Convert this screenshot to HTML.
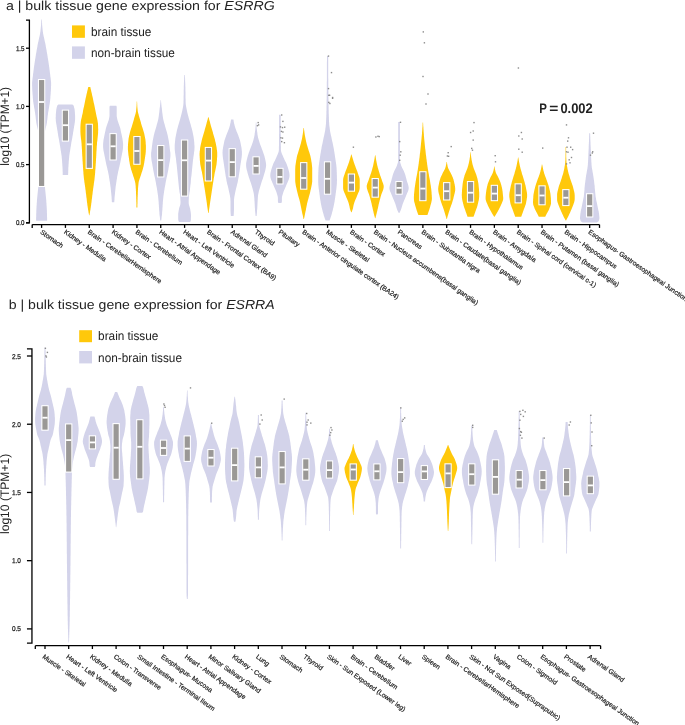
<!DOCTYPE html>
<html><head><meta charset="utf-8"><style>
html,body{margin:0;padding:0;background:#fff;}
svg{display:block;will-change:transform;}
text{font-family:"Liberation Sans", sans-serif;fill:#222;text-rendering:geometricPrecision;}
</style></head><body>
<svg width="685" height="725" viewBox="0 0 685 725">
<text x="5.9" y="10.2" font-size="13" textLength="268.8" lengthAdjust="spacingAndGlyphs">a | bulk tissue gene expression for <tspan font-style="italic">ESRRG</tspan></text><text x="8.8" y="308.7" font-size="13" textLength="265.9" lengthAdjust="spacingAndGlyphs">b | bulk tissue gene expression for <tspan font-style="italic">ESRRA</tspan></text><rect x="72" y="25.4" width="12.9" height="12.4" fill="#FFC80B"/><rect x="72" y="46.4" width="12.9" height="12.4" fill="#D3D3EA"/><text x="91.0" y="35.8" font-size="12.4" textLength="60.3" lengthAdjust="spacingAndGlyphs">brain tissue</text><text x="91.0" y="57.0" font-size="12.4" textLength="83.9" lengthAdjust="spacingAndGlyphs">non-brain tissue</text><rect x="79.2" y="330.2" width="12.8" height="12" fill="#FFC80B"/><rect x="79.2" y="351" width="12.8" height="12.4" fill="#D3D3EA"/><text x="98.1" y="340.1" font-size="12.4" textLength="60.3" lengthAdjust="spacingAndGlyphs">brain tissue</text><text x="98.1" y="361.8" font-size="12.4" textLength="83.9" lengthAdjust="spacingAndGlyphs">non-brain tissue</text><text transform="translate(9,165.8) rotate(-90)" font-size="12.3" textLength="78.8" lengthAdjust="spacingAndGlyphs">log10 (TPM+1)</text><text transform="translate(9,534) rotate(-90)" font-size="12.3" textLength="80.2" lengthAdjust="spacingAndGlyphs">log10 (TPM+1)</text><text x="539.3" y="112.7" style="font-weight:700;font-size:14px" textLength="7.66" lengthAdjust="spacingAndGlyphs">P</text><text x="549.2" y="112.7" style="font-weight:700;font-size:14px" textLength="9.08" lengthAdjust="spacingAndGlyphs">=</text><text x="560.4" y="112.7" style="font-weight:700;font-size:14px" textLength="32.35" lengthAdjust="spacingAndGlyphs">0.002</text><path d="M41.9,19.6 41.9,20.6 42.0,21.6 42.0,22.6 42.1,23.6 42.1,24.6 42.2,25.6 42.3,26.6 42.4,27.6 42.5,28.6 42.6,29.6 42.7,30.6 42.8,31.6 43.0,32.6 43.1,33.6 43.3,34.6 43.5,35.6 43.7,36.6 44.0,37.6 44.2,38.6 44.4,39.6 44.6,40.6 44.8,41.6 45.1,42.6 45.3,43.6 45.5,44.6 45.7,45.6 45.8,46.6 46.0,47.6 46.2,48.6 46.4,49.6 46.6,50.6 46.7,51.6 46.9,52.6 47.1,53.6 47.3,54.6 47.4,55.6 47.6,56.6 47.7,57.6 47.9,58.6 48.1,59.6 48.2,60.6 48.4,61.6 48.5,62.6 48.7,63.6 48.8,64.6 49.0,65.6 49.1,66.6 49.3,67.6 49.4,68.6 49.5,69.6 49.7,70.7 49.8,71.7 49.9,72.7 50.1,73.7 50.2,74.7 50.3,75.7 50.4,76.7 50.6,77.7 50.7,78.7 50.8,79.7 50.9,80.7 51.0,81.7 51.1,82.7 51.1,83.7 51.1,84.7 51.1,85.7 51.0,86.7 51.0,87.7 51.0,88.7 50.9,89.7 50.9,90.7 50.8,91.7 50.7,92.7 50.7,93.7 50.6,94.7 50.5,95.7 50.4,96.7 50.4,97.7 50.3,98.7 50.2,99.7 50.1,100.7 50.0,101.7 49.8,102.7 49.7,103.7 49.5,104.7 49.3,105.7 49.2,106.7 49.0,107.7 48.8,108.7 48.6,109.7 48.5,110.7 48.3,111.7 48.1,112.7 48.0,113.7 47.9,114.7 47.7,115.7 47.6,116.7 47.5,117.7 47.4,118.7 47.3,119.7 47.1,120.7 47.0,121.7 46.9,122.7 46.7,123.7 46.5,124.7 46.3,125.7 46.0,126.7 45.8,127.7 45.5,128.7 45.3,129.7 45.1,130.7 45.0,131.7 44.8,132.7 44.7,133.7 44.6,134.7 44.5,135.7 44.4,136.7 44.3,137.7 44.2,138.7 44.2,139.7 44.2,140.7 44.2,141.7 44.2,142.7 44.2,143.7 44.2,144.7 44.2,145.7 44.2,146.7 44.2,147.7 44.2,148.7 44.2,149.7 44.2,150.7 44.2,151.7 44.2,152.7 44.2,153.7 44.2,154.7 44.2,155.7 44.2,156.7 44.2,157.7 44.2,158.7 44.2,159.7 44.2,160.7 44.2,161.7 44.2,162.7 44.2,163.7 44.2,164.7 44.2,165.7 44.2,166.7 44.2,167.7 44.2,168.7 44.2,169.7 44.2,170.8 44.2,171.8 44.2,172.8 44.2,173.8 44.2,174.8 44.2,175.8 44.2,176.8 44.2,177.8 44.2,178.8 44.2,179.8 44.2,180.8 44.3,181.8 44.4,182.8 44.5,183.8 44.6,184.8 44.8,185.8 44.9,186.8 45.0,187.8 45.1,188.8 45.2,189.8 45.3,190.8 45.4,191.8 45.5,192.8 45.6,193.8 45.7,194.8 45.8,195.8 45.9,196.8 46.0,197.8 46.1,198.8 46.2,199.8 46.3,200.8 46.3,201.8 46.4,202.8 46.5,203.8 46.5,204.8 46.6,205.8 46.7,206.8 46.7,207.8 46.8,208.8 46.8,209.8 46.9,210.8 46.9,211.8 46.9,212.8 47.0,213.8 47.0,214.8 47.0,215.8 47.0,216.8 47.1,217.8 47.1,218.8 47.1,219.8 47.1,220.8 36.1,220.8 36.1,219.8 36.1,218.8 36.1,217.8 36.2,216.8 36.2,215.8 36.2,214.8 36.2,213.8 36.3,212.8 36.3,211.8 36.3,210.8 36.4,209.8 36.4,208.8 36.5,207.8 36.5,206.8 36.6,205.8 36.7,204.8 36.7,203.8 36.8,202.8 36.9,201.8 36.9,200.8 37.0,199.8 37.1,198.8 37.2,197.8 37.3,196.8 37.4,195.8 37.5,194.8 37.6,193.8 37.7,192.8 37.8,191.8 37.9,190.8 38.0,189.8 38.1,188.8 38.2,187.8 38.3,186.8 38.4,185.8 38.6,184.8 38.7,183.8 38.8,182.8 38.9,181.8 39.0,180.8 39.0,179.8 39.0,178.8 39.0,177.8 39.0,176.8 39.0,175.8 39.0,174.8 39.0,173.8 39.0,172.8 39.0,171.8 39.0,170.8 39.0,169.7 39.0,168.7 39.0,167.7 39.0,166.7 39.0,165.7 39.0,164.7 39.0,163.7 39.0,162.7 39.0,161.7 39.0,160.7 39.0,159.7 39.0,158.7 39.0,157.7 39.0,156.7 39.0,155.7 39.0,154.7 39.0,153.7 39.0,152.7 39.0,151.7 39.0,150.7 39.0,149.7 39.0,148.7 39.0,147.7 39.0,146.7 39.0,145.7 39.0,144.7 39.0,143.7 39.0,142.7 39.0,141.7 39.0,140.7 39.0,139.7 39.0,138.7 38.9,137.7 38.8,136.7 38.7,135.7 38.6,134.7 38.5,133.7 38.4,132.7 38.2,131.7 38.1,130.7 37.9,129.7 37.7,128.7 37.4,127.7 37.2,126.7 36.9,125.7 36.7,124.7 36.5,123.7 36.3,122.7 36.2,121.7 36.1,120.7 35.9,119.7 35.8,118.7 35.7,117.7 35.6,116.7 35.5,115.7 35.3,114.7 35.2,113.7 35.1,112.7 34.9,111.7 34.7,110.7 34.6,109.7 34.4,108.7 34.2,107.7 34.0,106.7 33.9,105.7 33.7,104.7 33.5,103.7 33.4,102.7 33.2,101.7 33.1,100.7 33.0,99.7 32.9,98.7 32.8,97.7 32.8,96.7 32.7,95.7 32.6,94.7 32.5,93.7 32.5,92.7 32.4,91.7 32.3,90.7 32.3,89.7 32.2,88.7 32.2,87.7 32.2,86.7 32.1,85.7 32.1,84.7 32.1,83.7 32.1,82.7 32.2,81.7 32.3,80.7 32.4,79.7 32.5,78.7 32.6,77.7 32.8,76.7 32.9,75.7 33.0,74.7 33.1,73.7 33.3,72.7 33.4,71.7 33.5,70.7 33.7,69.6 33.8,68.6 33.9,67.6 34.1,66.6 34.2,65.6 34.4,64.6 34.5,63.6 34.7,62.6 34.8,61.6 35.0,60.6 35.1,59.6 35.3,58.6 35.5,57.6 35.6,56.6 35.8,55.6 35.9,54.6 36.1,53.6 36.3,52.6 36.5,51.6 36.6,50.6 36.8,49.6 37.0,48.6 37.2,47.6 37.4,46.6 37.5,45.6 37.7,44.6 37.9,43.6 38.1,42.6 38.4,41.6 38.6,40.6 38.8,39.6 39.0,38.6 39.2,37.6 39.5,36.6 39.7,35.6 39.9,34.6 40.1,33.6 40.2,32.6 40.4,31.6 40.5,30.6 40.6,29.6 40.7,28.6 40.8,27.6 40.9,26.6 41.0,25.6 41.1,24.6 41.1,23.6 41.2,22.6 41.2,21.6 41.3,20.6 41.3,19.6Z" fill="#D3D3EA"/><rect x="37.95" y="79.00" width="7.30" height="108.00" fill="#fff"/><rect x="39.00" y="80.05" width="5.20" height="105.90" fill="#9A9896"/><rect x="39.00" y="101.10" width="5.20" height="1.8" fill="#fff"/><path d="M72.4,104.4 73.6,105.4 73.9,106.4 74.1,107.4 74.4,108.4 74.6,109.4 74.7,110.5 74.8,111.5 74.9,112.5 74.9,113.5 75.0,114.5 75.1,115.5 75.1,116.5 75.1,117.5 75.1,118.5 75.1,119.5 75.0,120.5 74.9,121.5 74.8,122.6 74.6,123.6 74.5,124.6 74.3,125.6 74.1,126.6 74.0,127.6 73.8,128.6 73.6,129.6 73.5,130.6 73.3,131.6 73.1,132.6 73.0,133.6 72.8,134.7 72.6,135.7 72.4,136.7 72.3,137.7 72.1,138.7 71.9,139.7 71.7,140.7 71.5,141.7 71.3,142.7 71.2,143.7 71.0,144.7 70.9,145.8 70.7,146.8 70.5,147.8 70.4,148.8 70.2,149.8 70.1,150.8 69.9,151.8 69.7,152.8 69.6,153.8 69.4,154.8 69.3,155.8 69.2,156.8 69.1,157.9 69.0,158.9 68.9,159.9 68.8,160.9 68.7,161.9 68.7,162.9 68.6,163.9 68.5,164.9 68.5,165.9 68.4,166.9 68.3,167.9 68.3,168.9 68.3,170.0 68.2,171.0 68.2,172.0 68.2,173.0 68.1,174.0 68.1,175.0 62.7,175.0 62.7,174.0 62.7,173.0 62.7,172.0 62.6,171.0 62.6,170.0 62.6,168.9 62.5,167.9 62.5,166.9 62.4,165.9 62.3,164.9 62.3,163.9 62.2,162.9 62.1,161.9 62.1,160.9 62.0,159.9 61.9,158.9 61.8,157.9 61.7,156.8 61.6,155.8 61.4,154.8 61.3,153.8 61.1,152.8 61.0,151.8 60.8,150.8 60.6,149.8 60.5,148.8 60.3,147.8 60.2,146.8 60.0,145.8 59.8,144.7 59.7,143.7 59.5,142.7 59.3,141.7 59.2,140.7 59.0,139.7 58.8,138.7 58.6,137.7 58.4,136.7 58.2,135.7 58.1,134.7 57.9,133.6 57.7,132.6 57.6,131.6 57.4,130.6 57.2,129.6 57.1,128.6 56.9,127.6 56.7,126.6 56.6,125.6 56.4,124.6 56.2,123.6 56.1,122.6 55.9,121.5 55.8,120.5 55.8,119.5 55.7,118.5 55.7,117.5 55.8,116.5 55.8,115.5 55.8,114.5 55.9,113.5 56.0,112.5 56.1,111.5 56.2,110.5 56.3,109.4 56.5,108.4 56.7,107.4 57.0,106.4 57.3,105.4 58.4,104.4Z" fill="#D3D3EA"/><rect x="61.78" y="109.60" width="7.30" height="32.00" fill="#fff"/><rect x="62.83" y="110.65" width="5.20" height="29.90" fill="#9A9896"/><rect x="62.83" y="124.30" width="5.20" height="1.8" fill="#fff"/><path d="M90.3,87.1 90.5,88.1 90.7,89.1 91.0,90.1 91.2,91.1 91.4,92.1 91.7,93.1 91.9,94.1 92.1,95.1 92.3,96.1 92.6,97.1 92.8,98.1 93.0,99.1 93.2,100.1 93.4,101.1 93.6,102.1 93.8,103.1 94.1,104.1 94.3,105.1 94.5,106.1 94.7,107.1 94.9,108.1 95.1,109.1 95.3,110.1 95.5,111.1 95.7,112.1 95.9,113.1 96.1,114.1 96.3,115.1 96.5,116.1 96.7,117.1 97.0,118.1 97.2,119.1 97.4,120.1 97.6,121.1 97.7,122.1 97.9,123.1 98.0,124.1 98.0,125.1 98.1,126.1 98.1,127.1 98.1,128.1 98.2,129.1 98.2,130.1 98.1,131.1 98.1,132.1 98.1,133.1 98.0,134.1 97.9,135.1 97.8,136.1 97.7,137.1 97.6,138.1 97.5,139.1 97.4,140.1 97.3,141.1 97.1,142.1 97.0,143.1 97.0,144.1 96.9,145.1 96.8,146.1 96.7,147.1 96.7,148.1 96.6,149.1 96.6,150.1 96.5,151.1 96.4,152.2 96.4,153.2 96.3,154.2 96.3,155.2 96.2,156.2 96.2,157.2 96.1,158.2 96.0,159.2 96.0,160.2 95.9,161.2 95.9,162.2 95.8,163.2 95.7,164.2 95.7,165.2 95.6,166.2 95.5,167.2 95.5,168.2 95.4,169.2 95.3,170.2 95.2,171.2 95.2,172.2 95.1,173.2 95.0,174.2 94.9,175.2 94.8,176.2 94.7,177.2 94.6,178.2 94.5,179.2 94.4,180.2 94.2,181.2 94.1,182.2 93.9,183.2 93.8,184.2 93.7,185.2 93.5,186.2 93.4,187.2 93.2,188.2 93.1,189.2 93.0,190.2 92.8,191.2 92.7,192.2 92.6,193.2 92.5,194.2 92.3,195.2 92.2,196.2 92.1,197.2 92.0,198.2 91.8,199.2 91.7,200.2 91.6,201.2 91.5,202.2 91.3,203.2 91.2,204.2 91.1,205.2 90.9,206.2 90.8,207.2 90.6,208.2 90.5,209.2 90.3,210.2 90.1,211.2 90.0,212.2 89.8,213.2 89.6,214.2 89.5,215.2 89.1,215.2 88.9,214.2 88.7,213.2 88.5,212.2 88.4,211.2 88.2,210.2 88.0,209.2 87.9,208.2 87.7,207.2 87.6,206.2 87.4,205.2 87.3,204.2 87.2,203.2 87.0,202.2 86.9,201.2 86.8,200.2 86.7,199.2 86.6,198.2 86.4,197.2 86.3,196.2 86.2,195.2 86.1,194.2 85.9,193.2 85.8,192.2 85.7,191.2 85.6,190.2 85.4,189.2 85.3,188.2 85.2,187.2 85.0,186.2 84.9,185.2 84.7,184.2 84.6,183.2 84.4,182.2 84.3,181.2 84.2,180.2 84.0,179.2 83.9,178.2 83.8,177.2 83.7,176.2 83.6,175.2 83.5,174.2 83.4,173.2 83.4,172.2 83.3,171.2 83.2,170.2 83.1,169.2 83.1,168.2 83.0,167.2 82.9,166.2 82.9,165.2 82.8,164.2 82.7,163.2 82.7,162.2 82.6,161.2 82.5,160.2 82.5,159.2 82.4,158.2 82.4,157.2 82.3,156.2 82.2,155.2 82.2,154.2 82.1,153.2 82.1,152.2 82.0,151.1 82.0,150.1 81.9,149.1 81.8,148.1 81.8,147.1 81.7,146.1 81.6,145.1 81.6,144.1 81.5,143.1 81.4,142.1 81.3,141.1 81.2,140.1 81.0,139.1 80.9,138.1 80.8,137.1 80.7,136.1 80.6,135.1 80.5,134.1 80.5,133.1 80.4,132.1 80.4,131.1 80.4,130.1 80.4,129.1 80.4,128.1 80.4,127.1 80.5,126.1 80.5,125.1 80.6,124.1 80.7,123.1 80.8,122.1 80.9,121.1 81.1,120.1 81.3,119.1 81.6,118.1 81.8,117.1 82.0,116.1 82.2,115.1 82.5,114.1 82.7,113.1 82.9,112.1 83.0,111.1 83.2,110.1 83.4,109.1 83.6,108.1 83.9,107.1 84.1,106.1 84.3,105.1 84.5,104.1 84.7,103.1 84.9,102.1 85.1,101.1 85.3,100.1 85.5,99.1 85.7,98.1 86.0,97.1 86.2,96.1 86.4,95.1 86.6,94.1 86.9,93.1 87.1,92.1 87.3,91.1 87.6,90.1 87.8,89.1 88.0,88.1 88.3,87.1Z" fill="#FFC80B"/><rect x="85.61" y="123.70" width="7.30" height="45.20" fill="#fff"/><rect x="86.66" y="124.75" width="5.20" height="43.10" fill="#9A9896"/><rect x="86.66" y="143.40" width="5.20" height="1.8" fill="#fff"/><path d="M116.3,105.7 116.7,106.7 116.7,107.7 116.7,108.7 116.7,109.7 116.7,110.7 116.7,111.7 116.7,112.7 116.7,113.8 116.7,114.8 116.7,115.8 116.8,116.8 117.0,117.8 117.2,118.8 117.4,119.8 117.7,120.8 118.0,121.8 118.4,122.8 118.7,123.8 119.1,124.8 119.4,125.8 119.8,126.8 120.1,127.8 120.4,128.8 120.6,129.8 120.8,130.9 121.0,131.9 121.2,132.9 121.5,133.9 121.7,134.9 121.9,135.9 122.1,136.9 122.3,137.9 122.5,138.9 122.6,139.9 122.8,140.9 122.9,141.9 123.0,142.9 123.1,143.9 123.1,144.9 123.1,145.9 123.0,147.0 123.0,148.0 122.9,149.0 122.7,150.0 122.6,151.0 122.4,152.0 122.2,153.0 122.0,154.0 121.8,155.0 121.6,156.0 121.4,157.0 121.2,158.0 121.0,159.0 120.8,160.0 120.6,161.0 120.4,162.1 120.2,163.1 120.0,164.1 119.7,165.1 119.5,166.1 119.3,167.1 119.0,168.1 118.8,169.1 118.6,170.1 118.3,171.1 118.1,172.1 117.9,173.1 117.7,174.1 117.5,175.1 117.3,176.1 117.1,177.1 117.0,178.2 116.8,179.2 116.6,180.2 116.5,181.2 116.3,182.2 116.2,183.2 116.0,184.2 115.9,185.2 115.7,186.2 115.6,187.2 115.5,188.2 115.4,189.2 115.3,190.2 115.2,191.2 115.1,192.2 115.0,193.2 114.9,194.2 114.8,195.3 114.7,196.3 114.6,197.3 114.5,198.3 114.5,199.3 114.4,200.3 114.3,201.3 114.3,202.3 111.9,202.3 111.8,201.3 111.8,200.3 111.7,199.3 111.6,198.3 111.6,197.3 111.5,196.3 111.4,195.3 111.3,194.2 111.2,193.2 111.1,192.2 111.0,191.2 110.9,190.2 110.8,189.2 110.7,188.2 110.6,187.2 110.4,186.2 110.3,185.2 110.2,184.2 110.0,183.2 109.9,182.2 109.7,181.2 109.5,180.2 109.4,179.2 109.2,178.2 109.0,177.1 108.9,176.1 108.7,175.1 108.5,174.1 108.3,173.1 108.1,172.1 107.9,171.1 107.6,170.1 107.4,169.1 107.2,168.1 106.9,167.1 106.7,166.1 106.4,165.1 106.2,164.1 106.0,163.1 105.8,162.1 105.6,161.0 105.4,160.0 105.2,159.0 105.0,158.0 104.8,157.0 104.6,156.0 104.4,155.0 104.2,154.0 104.0,153.0 103.8,152.0 103.6,151.0 103.4,150.0 103.3,149.0 103.2,148.0 103.1,147.0 103.1,145.9 103.1,144.9 103.1,143.9 103.2,142.9 103.3,141.9 103.4,140.9 103.5,139.9 103.7,138.9 103.9,137.9 104.1,136.9 104.3,135.9 104.5,134.9 104.7,133.9 104.9,132.9 105.1,131.9 105.4,130.9 105.6,129.8 105.8,128.8 106.1,127.8 106.4,126.8 106.7,125.8 107.1,124.8 107.4,123.8 107.8,122.8 108.1,121.8 108.5,120.8 108.8,119.8 109.0,118.8 109.2,117.8 109.4,116.8 109.5,115.8 109.5,114.8 109.5,113.8 109.5,112.7 109.5,111.7 109.5,110.7 109.5,109.7 109.5,108.7 109.5,107.7 109.5,106.7 109.9,105.7Z" fill="#D3D3EA"/><rect x="109.44" y="133.10" width="7.30" height="27.40" fill="#fff"/><rect x="110.49" y="134.15" width="5.20" height="25.30" fill="#9A9896"/><rect x="110.49" y="145.40" width="5.20" height="1.8" fill="#fff"/><path d="M137.1,101.4 137.1,102.4 137.2,103.4 137.2,104.4 137.3,105.4 137.3,106.4 137.4,107.4 137.5,108.4 137.6,109.4 137.7,110.4 137.8,111.4 138.0,112.4 138.3,113.4 138.6,114.4 138.8,115.4 139.1,116.4 139.4,117.4 139.7,118.4 140.0,119.4 140.3,120.4 140.6,121.4 140.9,122.4 141.1,123.4 141.4,124.4 141.7,125.4 142.0,126.4 142.4,127.4 142.7,128.5 143.0,129.5 143.3,130.5 143.6,131.5 143.9,132.5 144.2,133.5 144.4,134.5 144.6,135.5 144.8,136.5 145.0,137.5 145.2,138.5 145.4,139.5 145.5,140.5 145.6,141.5 145.7,142.5 145.7,143.5 145.8,144.5 145.9,145.5 145.9,146.5 145.9,147.5 145.9,148.5 145.9,149.5 145.8,150.5 145.8,151.5 145.7,152.5 145.6,153.5 145.5,154.5 145.3,155.5 145.2,156.5 145.0,157.5 144.9,158.5 144.7,159.5 144.6,160.5 144.4,161.5 144.3,162.5 144.1,163.5 143.9,164.5 143.7,165.5 143.5,166.5 143.2,167.5 143.0,168.5 142.7,169.5 142.4,170.5 142.1,171.5 141.7,172.5 141.4,173.5 141.1,174.5 140.8,175.5 140.4,176.5 140.1,177.5 139.7,178.5 139.4,179.5 139.1,180.5 138.8,181.6 138.6,182.6 138.5,183.6 138.4,184.6 138.3,185.6 138.2,186.6 138.1,187.6 138.0,188.6 138.0,189.6 137.9,190.6 137.9,191.6 137.8,192.6 137.8,193.6 137.8,194.6 137.7,195.6 137.7,196.6 137.6,197.6 137.6,198.6 137.6,199.6 137.5,200.6 137.5,201.6 137.5,202.6 137.5,203.6 137.4,204.6 137.4,205.6 137.4,206.6 137.4,207.6 136.4,207.6 136.4,206.6 136.4,205.6 136.4,204.6 136.4,203.6 136.4,202.6 136.3,201.6 136.3,200.6 136.3,199.6 136.2,198.6 136.2,197.6 136.2,196.6 136.1,195.6 136.1,194.6 136.0,193.6 136.0,192.6 136.0,191.6 135.9,190.6 135.9,189.6 135.8,188.6 135.7,187.6 135.7,186.6 135.6,185.6 135.5,184.6 135.4,183.6 135.2,182.6 135.0,181.6 134.7,180.5 134.4,179.5 134.1,178.5 133.8,177.5 133.4,176.5 133.1,175.5 132.8,174.5 132.5,173.5 132.1,172.5 131.8,171.5 131.5,170.5 131.1,169.5 130.9,168.5 130.6,167.5 130.4,166.5 130.1,165.5 129.9,164.5 129.7,163.5 129.6,162.5 129.4,161.5 129.2,160.5 129.1,159.5 129.0,158.5 128.8,157.5 128.7,156.5 128.5,155.5 128.4,154.5 128.3,153.5 128.2,152.5 128.1,151.5 128.0,150.5 127.9,149.5 127.9,148.5 127.9,147.5 127.9,146.5 128.0,145.5 128.0,144.5 128.1,143.5 128.2,142.5 128.3,141.5 128.4,140.5 128.5,139.5 128.6,138.5 128.8,137.5 129.0,136.5 129.2,135.5 129.5,134.5 129.7,133.5 129.9,132.5 130.2,131.5 130.5,130.5 130.8,129.5 131.1,128.5 131.5,127.4 131.8,126.4 132.1,125.4 132.4,124.4 132.7,123.4 133.0,122.4 133.3,121.4 133.6,120.4 133.9,119.4 134.1,118.4 134.4,117.4 134.7,116.4 135.0,115.4 135.3,114.4 135.6,113.4 135.8,112.4 136.0,111.4 136.1,110.4 136.2,109.4 136.3,108.4 136.4,107.4 136.5,106.4 136.6,105.4 136.6,104.4 136.7,103.4 136.7,102.4 136.7,101.4Z" fill="#FFC80B"/><rect x="133.27" y="136.00" width="7.30" height="28.80" fill="#fff"/><rect x="134.32" y="137.05" width="5.20" height="26.70" fill="#9A9896"/><rect x="134.32" y="150.10" width="5.20" height="1.8" fill="#fff"/><path d="M160.9,99.9 161.0,100.9 161.1,101.9 161.2,102.9 161.3,103.9 161.4,104.9 161.5,105.9 161.6,106.9 161.8,107.9 161.9,108.9 162.0,110.0 162.1,111.0 162.2,112.0 162.3,113.0 162.5,114.0 162.6,115.0 162.7,116.0 162.9,117.0 163.0,118.0 163.2,119.0 163.4,120.0 163.7,121.0 163.9,122.0 164.2,123.0 164.5,124.0 164.8,125.0 165.0,126.0 165.3,127.0 165.6,128.0 165.9,129.0 166.2,130.1 166.5,131.1 166.8,132.1 167.1,133.1 167.3,134.1 167.6,135.1 167.8,136.1 168.0,137.1 168.2,138.1 168.4,139.1 168.6,140.1 168.8,141.1 168.9,142.1 169.1,143.1 169.2,144.1 169.3,145.1 169.5,146.1 169.6,147.1 169.7,148.1 169.8,149.1 170.0,150.2 170.1,151.2 170.3,152.2 170.4,153.2 170.4,154.2 170.4,155.2 170.4,156.2 170.3,157.2 170.2,158.2 170.1,159.2 170.0,160.2 169.8,161.2 169.6,162.2 169.4,163.2 169.2,164.2 169.1,165.2 168.9,166.2 168.7,167.2 168.5,168.2 168.4,169.2 168.2,170.2 168.0,171.3 167.8,172.3 167.6,173.3 167.4,174.3 167.2,175.3 167.0,176.3 166.7,177.3 166.5,178.3 166.3,179.3 166.1,180.3 165.9,181.3 165.7,182.3 165.5,183.3 165.4,184.3 165.2,185.3 165.0,186.3 164.8,187.3 164.6,188.3 164.5,189.3 164.3,190.3 164.1,191.4 164.0,192.4 163.8,193.4 163.7,194.4 163.5,195.4 163.4,196.4 163.3,197.4 163.2,198.4 163.1,199.4 163.0,200.4 162.9,201.4 162.8,202.4 162.8,203.4 162.7,204.4 162.6,205.4 162.6,206.4 162.5,207.4 162.4,208.4 162.4,209.4 162.3,210.4 162.2,211.5 162.1,212.5 162.1,213.5 162.0,214.5 161.9,215.5 161.7,216.5 161.6,217.5 161.5,218.5 161.4,219.5 161.2,220.5 160.2,220.5 160.1,219.5 160.0,218.5 159.9,217.5 159.8,216.5 159.6,215.5 159.5,214.5 159.4,213.5 159.4,212.5 159.3,211.5 159.2,210.4 159.1,209.4 159.1,208.4 159.0,207.4 158.9,206.4 158.9,205.4 158.8,204.4 158.7,203.4 158.7,202.4 158.6,201.4 158.5,200.4 158.4,199.4 158.3,198.4 158.2,197.4 158.1,196.4 158.0,195.4 157.8,194.4 157.7,193.4 157.5,192.4 157.4,191.4 157.2,190.3 157.0,189.3 156.9,188.3 156.7,187.3 156.5,186.3 156.3,185.3 156.1,184.3 156.0,183.3 155.8,182.3 155.6,181.3 155.4,180.3 155.2,179.3 155.0,178.3 154.8,177.3 154.5,176.3 154.3,175.3 154.1,174.3 153.9,173.3 153.7,172.3 153.5,171.3 153.3,170.2 153.1,169.2 153.0,168.2 152.8,167.2 152.6,166.2 152.4,165.2 152.3,164.2 152.1,163.2 151.9,162.2 151.7,161.2 151.5,160.2 151.4,159.2 151.3,158.2 151.2,157.2 151.1,156.2 151.1,155.2 151.1,154.2 151.1,153.2 151.2,152.2 151.4,151.2 151.5,150.2 151.7,149.1 151.8,148.1 151.9,147.1 152.0,146.1 152.2,145.1 152.3,144.1 152.4,143.1 152.6,142.1 152.7,141.1 152.9,140.1 153.1,139.1 153.3,138.1 153.5,137.1 153.7,136.1 153.9,135.1 154.2,134.1 154.4,133.1 154.7,132.1 155.0,131.1 155.3,130.1 155.6,129.0 155.9,128.0 156.2,127.0 156.5,126.0 156.7,125.0 157.0,124.0 157.3,123.0 157.6,122.0 157.8,121.0 158.1,120.0 158.3,119.0 158.5,118.0 158.6,117.0 158.8,116.0 158.9,115.0 159.0,114.0 159.2,113.0 159.3,112.0 159.4,111.0 159.5,110.0 159.6,108.9 159.7,107.9 159.9,106.9 160.0,105.9 160.1,104.9 160.2,103.9 160.3,102.9 160.4,101.9 160.5,100.9 160.6,99.9Z" fill="#D3D3EA"/><rect x="157.10" y="145.00" width="7.30" height="32.50" fill="#fff"/><rect x="158.15" y="146.05" width="5.20" height="30.40" fill="#9A9896"/><rect x="158.15" y="159.20" width="5.20" height="1.8" fill="#fff"/><path d="M184.9,74.9 184.9,75.9 185.0,76.9 185.0,77.9 185.1,78.9 185.1,79.9 185.1,80.9 185.2,81.9 185.2,82.9 185.3,83.9 185.3,84.9 185.3,85.9 185.4,86.9 185.4,87.9 185.4,88.9 185.4,89.9 185.4,90.9 185.5,91.9 185.5,92.9 185.5,93.9 185.5,94.9 185.5,95.9 185.5,96.9 185.5,97.9 185.6,98.9 185.6,99.9 185.6,100.9 185.6,101.9 185.7,102.9 185.7,103.9 185.9,104.9 186.0,105.9 186.2,106.9 186.4,107.9 186.6,108.9 186.8,109.9 187.0,110.9 187.2,111.9 187.4,112.9 187.7,113.9 187.9,114.9 188.2,115.9 188.5,116.9 188.7,117.9 189.0,118.9 189.3,119.9 189.6,120.9 189.9,121.9 190.2,122.9 190.5,123.9 190.8,124.9 191.0,125.9 191.3,126.9 191.6,127.9 191.9,128.9 192.1,129.9 192.4,130.9 192.6,131.9 192.8,132.9 193.0,133.9 193.2,134.9 193.4,135.9 193.6,136.9 193.7,137.9 193.9,138.9 194.0,139.9 194.1,140.9 194.2,141.9 194.3,142.9 194.3,143.9 194.4,144.9 194.5,145.9 194.5,146.9 194.5,147.9 194.4,149.0 194.4,150.0 194.3,151.0 194.1,152.0 194.0,153.0 193.9,154.0 193.7,155.0 193.6,156.0 193.4,157.0 193.3,158.0 193.2,159.0 193.0,160.0 192.9,161.0 192.8,162.0 192.7,163.0 192.6,164.0 192.5,165.0 192.4,166.0 192.3,167.0 192.2,168.0 192.1,169.0 192.0,170.0 191.9,171.0 191.8,172.0 191.7,173.0 191.6,174.0 191.5,175.0 191.4,176.0 191.2,177.0 191.1,178.0 191.0,179.0 190.9,180.0 190.8,181.0 190.8,182.0 190.7,183.0 190.6,184.0 190.4,185.0 190.3,186.0 190.2,187.0 190.1,188.0 190.0,189.0 189.9,190.0 189.8,191.0 189.6,192.0 189.4,193.0 189.3,194.0 189.1,195.0 189.0,196.0 188.9,197.0 188.8,198.0 188.8,199.0 188.7,200.0 188.7,201.0 188.7,202.0 188.7,203.0 188.8,204.0 189.0,205.0 189.3,206.0 189.6,207.0 189.9,208.0 190.2,209.0 190.3,210.0 190.5,211.0 190.7,212.0 190.8,213.0 190.9,214.0 191.0,215.0 191.0,216.0 191.0,217.0 190.9,218.0 190.9,219.0 190.9,220.0 190.6,221.0 190.2,222.0 179.0,222.0 178.5,221.0 178.3,220.0 178.2,219.0 178.2,218.0 178.2,217.0 178.2,216.0 178.2,215.0 178.2,214.0 178.3,213.0 178.5,212.0 178.6,211.0 178.8,210.0 179.0,209.0 179.2,208.0 179.5,207.0 179.9,206.0 180.2,205.0 180.4,204.0 180.5,203.0 180.5,202.0 180.5,201.0 180.4,200.0 180.4,199.0 180.3,198.0 180.3,197.0 180.2,196.0 180.1,195.0 179.9,194.0 179.7,193.0 179.5,192.0 179.4,191.0 179.3,190.0 179.1,189.0 179.0,188.0 178.9,187.0 178.8,186.0 178.7,185.0 178.6,184.0 178.5,183.0 178.4,182.0 178.3,181.0 178.2,180.0 178.1,179.0 178.0,178.0 177.9,177.0 177.8,176.0 177.7,175.0 177.6,174.0 177.5,173.0 177.4,172.0 177.3,171.0 177.2,170.0 177.1,169.0 177.0,168.0 176.9,167.0 176.8,166.0 176.7,165.0 176.6,164.0 176.4,163.0 176.3,162.0 176.2,161.0 176.1,160.0 176.0,159.0 175.9,158.0 175.7,157.0 175.6,156.0 175.4,155.0 175.3,154.0 175.1,153.0 175.0,152.0 174.9,151.0 174.8,150.0 174.7,149.0 174.7,147.9 174.7,146.9 174.7,145.9 174.7,144.9 174.8,143.9 174.9,142.9 175.0,141.9 175.1,140.9 175.2,139.9 175.3,138.9 175.4,137.9 175.6,136.9 175.8,135.9 176.0,134.9 176.2,133.9 176.4,132.9 176.6,131.9 176.8,130.9 177.0,129.9 177.3,128.9 177.6,127.9 177.8,126.9 178.1,125.9 178.4,124.9 178.7,123.9 179.0,122.9 179.3,121.9 179.6,120.9 179.9,119.9 180.2,118.9 180.4,117.9 180.7,116.9 181.0,115.9 181.2,114.9 181.5,113.9 181.7,112.9 182.0,111.9 182.2,110.9 182.4,109.9 182.6,108.9 182.8,107.9 183.0,106.9 183.2,105.9 183.3,104.9 183.4,103.9 183.5,102.9 183.5,101.9 183.5,100.9 183.6,99.9 183.6,98.9 183.6,97.9 183.6,96.9 183.6,95.9 183.7,94.9 183.7,93.9 183.7,92.9 183.7,91.9 183.7,90.9 183.7,89.9 183.8,88.9 183.8,87.9 183.8,86.9 183.8,85.9 183.9,84.9 183.9,83.9 183.9,82.9 184.0,81.9 184.0,80.9 184.1,79.9 184.1,78.9 184.1,77.9 184.2,76.9 184.2,75.9 184.3,74.9Z" fill="#D3D3EA"/><rect x="180.93" y="139.50" width="7.30" height="57.10" fill="#fff"/><rect x="181.98" y="140.55" width="5.20" height="55.00" fill="#9A9896"/><rect x="181.98" y="159.40" width="5.20" height="1.8" fill="#fff"/><path d="M208.6,117.3 208.9,118.3 209.1,119.3 209.4,120.3 209.7,121.3 210.0,122.3 210.2,123.3 210.5,124.3 210.8,125.4 211.1,126.4 211.4,127.4 211.7,128.4 212.0,129.4 212.3,130.4 212.6,131.4 212.9,132.4 213.1,133.4 213.4,134.4 213.7,135.4 214.0,136.4 214.3,137.4 214.6,138.4 214.9,139.4 215.1,140.4 215.3,141.5 215.6,142.5 215.8,143.5 216.0,144.5 216.2,145.5 216.4,146.5 216.6,147.5 216.7,148.5 216.8,149.5 217.0,150.5 217.1,151.5 217.2,152.5 217.2,153.5 217.2,154.5 217.2,155.5 217.2,156.5 217.1,157.6 217.0,158.6 217.0,159.6 216.9,160.6 216.8,161.6 216.7,162.6 216.6,163.6 216.5,164.6 216.3,165.6 216.1,166.6 215.9,167.6 215.7,168.6 215.5,169.6 215.3,170.6 215.1,171.6 214.8,172.6 214.6,173.7 214.4,174.7 214.3,175.7 214.1,176.7 213.9,177.7 213.7,178.7 213.6,179.7 213.4,180.7 213.3,181.7 213.1,182.7 212.9,183.7 212.8,184.7 212.6,185.7 212.5,186.7 212.3,187.7 212.2,188.7 212.0,189.8 211.9,190.8 211.7,191.8 211.6,192.8 211.4,193.8 211.3,194.8 211.1,195.8 211.0,196.8 210.8,197.8 210.7,198.8 210.5,199.8 210.4,200.8 210.2,201.8 210.1,202.8 209.9,203.8 209.8,204.8 209.6,205.9 209.5,206.9 209.3,207.9 209.2,208.9 209.0,209.9 208.9,210.9 208.8,211.9 208.6,212.9 208.2,212.9 208.1,211.9 207.9,210.9 207.8,209.9 207.6,208.9 207.5,207.9 207.3,206.9 207.2,205.9 207.0,204.8 206.9,203.8 206.8,202.8 206.6,201.8 206.5,200.8 206.3,199.8 206.2,198.8 206.0,197.8 205.9,196.8 205.7,195.8 205.6,194.8 205.4,193.8 205.3,192.8 205.1,191.8 205.0,190.8 204.8,189.8 204.7,188.7 204.5,187.7 204.3,186.7 204.2,185.7 204.0,184.7 203.9,183.7 203.7,182.7 203.6,181.7 203.4,180.7 203.2,179.7 203.1,178.7 202.9,177.7 202.7,176.7 202.6,175.7 202.4,174.7 202.2,173.7 202.0,172.6 201.8,171.6 201.5,170.6 201.3,169.6 201.1,168.6 200.9,167.6 200.7,166.6 200.5,165.6 200.3,164.6 200.2,163.6 200.1,162.6 200.0,161.6 199.9,160.6 199.8,159.6 199.8,158.6 199.7,157.6 199.7,156.5 199.6,155.5 199.6,154.5 199.6,153.5 199.7,152.5 199.7,151.5 199.9,150.5 200.0,149.5 200.1,148.5 200.2,147.5 200.4,146.5 200.6,145.5 200.8,144.5 201.0,143.5 201.3,142.5 201.5,141.5 201.7,140.4 202.0,139.4 202.2,138.4 202.5,137.4 202.8,136.4 203.1,135.4 203.4,134.4 203.7,133.4 204.0,132.4 204.3,131.4 204.6,130.4 204.8,129.4 205.1,128.4 205.4,127.4 205.7,126.4 206.0,125.4 206.3,124.3 206.6,123.3 206.8,122.3 207.1,121.3 207.4,120.3 207.7,119.3 207.9,118.3 208.2,117.3Z" fill="#FFC80B"/><rect x="204.76" y="146.90" width="7.30" height="34.60" fill="#fff"/><rect x="205.81" y="147.95" width="5.20" height="32.50" fill="#9A9896"/><rect x="205.81" y="159.70" width="5.20" height="1.8" fill="#fff"/><path d="M233.4,119.6 233.6,120.6 233.7,121.6 233.9,122.6 234.1,123.6 234.4,124.6 234.6,125.6 234.9,126.6 235.2,127.6 235.5,128.6 235.9,129.6 236.3,130.6 236.7,131.7 237.2,132.7 237.6,133.7 238.0,134.7 238.4,135.7 238.7,136.7 239.1,137.7 239.4,138.7 239.8,139.7 240.1,140.7 240.3,141.7 240.5,142.7 240.7,143.7 240.9,144.7 241.1,145.7 241.3,146.7 241.5,147.7 241.6,148.7 241.7,149.7 241.8,150.7 241.9,151.7 241.9,152.7 241.9,153.7 241.9,154.7 241.8,155.8 241.7,156.8 241.6,157.8 241.4,158.8 241.3,159.8 241.1,160.8 241.0,161.8 240.8,162.8 240.6,163.8 240.5,164.8 240.3,165.8 240.2,166.8 240.1,167.8 239.9,168.8 239.8,169.8 239.6,170.8 239.5,171.8 239.3,172.8 239.2,173.8 239.0,174.8 238.8,175.8 238.7,176.8 238.5,177.8 238.3,178.8 238.1,179.8 237.9,180.9 237.7,181.9 237.5,182.9 237.2,183.9 237.0,184.9 236.7,185.9 236.5,186.9 236.2,187.9 236.0,188.9 235.7,189.9 235.5,190.9 235.3,191.9 235.1,192.9 234.9,193.9 234.7,194.9 234.5,195.9 234.3,196.9 234.2,197.9 234.1,198.9 234.0,199.9 234.0,200.9 234.0,201.9 234.0,202.9 234.0,203.9 234.0,205.0 234.0,206.0 234.0,207.0 234.0,208.0 234.0,209.0 234.0,210.0 233.9,211.0 233.9,212.0 233.8,213.0 233.8,214.0 233.7,215.0 233.6,216.0 230.8,216.0 230.8,215.0 230.7,214.0 230.6,213.0 230.6,212.0 230.5,211.0 230.5,210.0 230.5,209.0 230.5,208.0 230.5,207.0 230.5,206.0 230.5,205.0 230.5,203.9 230.5,202.9 230.5,201.9 230.5,200.9 230.4,199.9 230.4,198.9 230.3,197.9 230.1,196.9 230.0,195.9 229.8,194.9 229.6,193.9 229.4,192.9 229.1,191.9 228.9,190.9 228.7,189.9 228.5,188.9 228.3,187.9 228.0,186.9 227.8,185.9 227.5,184.9 227.2,183.9 227.0,182.9 226.8,181.9 226.5,180.9 226.4,179.8 226.2,178.8 226.0,177.8 225.8,176.8 225.6,175.8 225.5,174.8 225.3,173.8 225.2,172.8 225.0,171.8 224.9,170.8 224.7,169.8 224.6,168.8 224.4,167.8 224.3,166.8 224.1,165.8 224.0,164.8 223.8,163.8 223.7,162.8 223.5,161.8 223.4,160.8 223.2,159.8 223.0,158.8 222.9,157.8 222.8,156.8 222.7,155.8 222.6,154.7 222.6,153.7 222.5,152.7 222.6,151.7 222.6,150.7 222.7,149.7 222.9,148.7 223.0,147.7 223.2,146.7 223.4,145.7 223.6,144.7 223.8,143.7 224.0,142.7 224.2,141.7 224.4,140.7 224.7,139.7 225.1,138.7 225.4,137.7 225.8,136.7 226.1,135.7 226.5,134.7 226.9,133.7 227.3,132.7 227.7,131.7 228.2,130.6 228.6,129.6 229.0,128.6 229.3,127.6 229.6,126.6 229.9,125.6 230.1,124.6 230.3,123.6 230.6,122.6 230.7,121.6 230.9,120.6 231.0,119.6Z" fill="#D3D3EA"/><rect x="228.59" y="148.10" width="7.30" height="29.20" fill="#fff"/><rect x="229.64" y="149.15" width="5.20" height="27.10" fill="#9A9896"/><rect x="229.64" y="161.20" width="5.20" height="1.8" fill="#fff"/><path d="M256.4,122.6 256.4,123.6 256.4,124.6 256.5,125.6 256.5,126.6 256.6,127.6 256.7,128.6 256.9,129.6 257.0,130.6 257.1,131.6 257.3,132.6 257.4,133.6 257.5,134.7 257.7,135.7 257.9,136.7 258.1,137.7 258.4,138.7 258.7,139.7 259.0,140.7 259.3,141.7 259.6,142.7 259.9,143.7 260.3,144.7 260.7,145.7 261.1,146.7 261.5,147.7 261.8,148.7 262.2,149.7 262.6,150.7 262.9,151.7 263.3,152.7 263.6,153.7 264.0,154.7 264.3,155.7 264.6,156.7 264.8,157.8 265.1,158.8 265.3,159.8 265.5,160.8 265.7,161.8 265.9,162.8 266.0,163.8 266.1,164.8 266.1,165.8 266.0,166.8 265.8,167.8 265.6,168.8 265.4,169.8 265.2,170.8 264.9,171.8 264.6,172.8 264.3,173.8 264.0,174.8 263.7,175.8 263.4,176.8 263.1,177.8 262.8,178.8 262.4,179.8 262.0,180.8 261.6,181.9 261.3,182.9 261.0,183.9 260.7,184.9 260.4,185.9 260.1,186.9 259.8,187.9 259.5,188.9 259.2,189.9 258.9,190.9 258.7,191.9 258.5,192.9 258.3,193.9 258.1,194.9 258.0,195.9 257.9,196.9 257.8,197.9 257.8,198.9 257.7,199.9 257.6,200.9 257.6,201.9 257.5,202.9 257.5,203.9 257.4,205.0 257.4,206.0 257.3,207.0 257.3,208.0 257.2,209.0 257.1,210.0 257.0,211.0 257.0,212.0 256.9,213.0 256.8,214.0 256.7,215.0 256.6,216.0 255.6,216.0 255.5,215.0 255.4,214.0 255.3,213.0 255.2,212.0 255.1,211.0 255.0,210.0 255.0,209.0 254.9,208.0 254.8,207.0 254.8,206.0 254.7,205.0 254.7,203.9 254.6,202.9 254.6,201.9 254.5,200.9 254.4,199.9 254.4,198.9 254.3,197.9 254.2,196.9 254.1,195.9 254.0,194.9 253.8,193.9 253.7,192.9 253.4,191.9 253.2,190.9 252.9,189.9 252.7,188.9 252.4,187.9 252.1,186.9 251.8,185.9 251.5,184.9 251.2,183.9 250.9,182.9 250.5,181.9 250.1,180.8 249.7,179.8 249.4,178.8 249.0,177.8 248.7,176.8 248.4,175.8 248.1,174.8 247.8,173.8 247.5,172.8 247.3,171.8 247.0,170.8 246.7,169.8 246.5,168.8 246.3,167.8 246.2,166.8 246.1,165.8 246.1,164.8 246.1,163.8 246.2,162.8 246.4,161.8 246.6,160.8 246.8,159.8 247.1,158.8 247.3,157.8 247.6,156.7 247.8,155.7 248.2,154.7 248.5,153.7 248.8,152.7 249.2,151.7 249.6,150.7 249.9,149.7 250.3,148.7 250.7,147.7 251.1,146.7 251.5,145.7 251.9,144.7 252.2,143.7 252.6,142.7 252.9,141.7 253.2,140.7 253.5,139.7 253.7,138.7 254.0,137.7 254.2,136.7 254.4,135.7 254.6,134.7 254.7,133.6 254.9,132.6 255.0,131.6 255.2,130.6 255.3,129.6 255.4,128.6 255.5,127.6 255.6,126.6 255.7,125.6 255.7,124.6 255.8,123.6 255.8,122.6Z" fill="#D3D3EA"/><rect x="252.42" y="156.30" width="7.30" height="18.20" fill="#fff"/><rect x="253.47" y="157.35" width="5.20" height="16.10" fill="#9A9896"/><rect x="253.47" y="165.00" width="5.20" height="1.8" fill="#fff"/><rect x="257.50" y="121.90" width="1.4" height="1.4" fill="#8c8c8c"/><rect x="257.90" y="124.20" width="1.4" height="1.4" fill="#8c8c8c"/><rect x="256.70" y="125.00" width="1.4" height="1.4" fill="#8c8c8c"/><path d="M280.7,114.7 280.7,115.7 280.7,116.7 280.7,117.7 280.7,118.7 280.7,119.7 280.7,120.7 280.7,121.7 280.7,122.7 280.7,123.7 280.7,124.7 280.7,125.7 280.7,126.7 280.7,127.7 280.7,128.7 280.7,129.8 280.7,130.8 280.7,131.8 280.7,132.8 280.7,133.8 280.8,134.8 280.8,135.8 280.8,136.8 280.8,137.8 280.8,138.8 280.8,139.8 280.8,140.8 280.8,141.8 280.8,142.8 280.8,143.8 280.8,144.8 280.8,145.8 280.9,146.8 280.9,147.8 280.9,148.8 280.9,149.8 281.0,150.8 281.2,151.8 281.5,152.8 281.9,153.8 282.3,154.8 282.8,155.8 283.2,156.8 283.6,157.8 284.1,158.8 284.6,159.9 285.1,160.9 285.7,161.9 286.2,162.9 286.6,163.9 287.0,164.9 287.3,165.9 287.7,166.9 288.0,167.9 288.3,168.9 288.6,169.9 288.8,170.9 289.1,171.9 289.3,172.9 289.4,173.9 289.5,174.9 289.5,175.9 289.4,176.9 289.2,177.9 288.9,178.9 288.6,179.9 288.1,180.9 287.7,181.9 287.3,182.9 286.8,183.9 286.4,184.9 286.0,185.9 285.6,186.9 285.1,187.9 284.7,189.0 284.2,190.0 283.8,191.0 283.4,192.0 283.1,193.0 282.8,194.0 282.5,195.0 282.2,196.0 282.0,197.0 281.9,198.0 281.9,199.0 281.9,200.0 281.9,201.0 281.8,202.0 281.4,203.0 278.4,203.0 278.0,202.0 277.9,201.0 277.9,200.0 277.9,199.0 277.9,198.0 277.8,197.0 277.6,196.0 277.3,195.0 277.0,194.0 276.7,193.0 276.4,192.0 276.0,191.0 275.6,190.0 275.1,189.0 274.7,187.9 274.2,186.9 273.8,185.9 273.4,184.9 273.0,183.9 272.5,182.9 272.1,181.9 271.7,180.9 271.2,179.9 270.9,178.9 270.6,177.9 270.4,176.9 270.3,175.9 270.3,174.9 270.4,173.9 270.5,172.9 270.7,171.9 271.0,170.9 271.2,169.9 271.5,168.9 271.8,167.9 272.1,166.9 272.5,165.9 272.8,164.9 273.2,163.9 273.6,162.9 274.1,161.9 274.7,160.9 275.2,159.9 275.7,158.8 276.2,157.8 276.6,156.8 277.0,155.8 277.5,154.8 277.9,153.8 278.3,152.8 278.6,151.8 278.8,150.8 278.9,149.8 278.9,148.8 278.9,147.8 278.9,146.8 279.0,145.8 279.0,144.8 279.0,143.8 279.0,142.8 279.0,141.8 279.0,140.8 279.0,139.8 279.0,138.8 279.0,137.8 279.0,136.8 279.0,135.8 279.0,134.8 279.1,133.8 279.1,132.8 279.1,131.8 279.1,130.8 279.1,129.8 279.1,128.7 279.1,127.7 279.1,126.7 279.1,125.7 279.1,124.7 279.1,123.7 279.1,122.7 279.1,121.7 279.1,120.7 279.1,119.7 279.1,118.7 279.1,117.7 279.1,116.7 279.1,115.7 279.1,114.7Z" fill="#D3D3EA"/><rect x="276.25" y="167.80" width="7.30" height="16.70" fill="#fff"/><rect x="277.30" y="168.85" width="5.20" height="14.60" fill="#9A9896"/><rect x="277.30" y="176.00" width="5.20" height="1.8" fill="#fff"/><rect x="281.00" y="114.30" width="1.4" height="1.4" fill="#8c8c8c"/><rect x="282.20" y="120.70" width="1.4" height="1.4" fill="#8c8c8c"/><rect x="279.80" y="126.20" width="1.4" height="1.4" fill="#8c8c8c"/><rect x="281.80" y="126.90" width="1.4" height="1.4" fill="#8c8c8c"/><rect x="284.00" y="126.50" width="1.4" height="1.4" fill="#8c8c8c"/><rect x="280.70" y="130.70" width="1.4" height="1.4" fill="#8c8c8c"/><rect x="282.20" y="131.30" width="1.4" height="1.4" fill="#8c8c8c"/><rect x="280.20" y="137.10" width="1.4" height="1.4" fill="#8c8c8c"/><rect x="281.80" y="137.40" width="1.4" height="1.4" fill="#8c8c8c"/><rect x="281.00" y="140.90" width="1.4" height="1.4" fill="#8c8c8c"/><rect x="283.70" y="142.00" width="1.4" height="1.4" fill="#8c8c8c"/><path d="M303.9,127.9 304.0,128.9 304.1,129.9 304.3,130.9 304.4,131.9 304.5,132.9 304.7,133.9 304.8,134.9 305.0,135.9 305.2,136.9 305.4,137.9 305.6,138.9 305.8,139.9 306.0,140.9 306.2,141.9 306.5,142.9 306.7,143.9 307.0,144.9 307.3,145.9 307.6,146.9 307.9,147.9 308.2,148.9 308.5,149.9 308.8,150.9 309.2,151.9 309.5,152.9 309.8,153.9 310.1,154.9 310.4,155.9 310.6,156.9 310.8,157.9 311.0,158.9 311.2,159.9 311.3,160.9 311.5,161.9 311.7,162.9 311.8,163.9 311.9,164.9 312.0,165.9 312.1,166.9 312.2,167.9 312.2,168.9 312.2,169.9 312.2,170.9 312.2,171.9 312.2,172.9 312.2,174.0 312.2,175.0 312.2,176.0 312.2,177.0 312.2,178.0 312.2,179.0 312.2,180.0 312.2,181.0 312.2,182.0 312.0,183.0 311.9,184.0 311.7,185.0 311.5,186.0 311.3,187.0 311.1,188.0 310.9,189.0 310.6,190.0 310.4,191.0 310.2,192.0 310.0,193.0 309.7,194.0 309.4,195.0 309.1,196.0 308.8,197.0 308.6,198.0 308.3,199.0 308.0,200.0 307.7,201.0 307.5,202.0 307.2,203.0 307.0,204.0 306.8,205.0 306.6,206.0 306.4,207.0 306.2,208.0 306.0,209.0 305.9,210.0 305.6,211.0 305.4,212.0 305.2,213.0 305.0,214.0 304.8,215.0 304.6,216.0 304.4,217.0 304.2,218.0 303.9,219.0 303.5,219.0 303.3,218.0 303.1,217.0 302.9,216.0 302.7,215.0 302.4,214.0 302.2,213.0 302.0,212.0 301.8,211.0 301.6,210.0 301.4,209.0 301.2,208.0 301.0,207.0 300.8,206.0 300.6,205.0 300.4,204.0 300.2,203.0 300.0,202.0 299.7,201.0 299.5,200.0 299.2,199.0 298.9,198.0 298.6,197.0 298.3,196.0 298.0,195.0 297.8,194.0 297.5,193.0 297.3,192.0 297.0,191.0 296.8,190.0 296.6,189.0 296.4,188.0 296.1,187.0 295.9,186.0 295.7,185.0 295.6,184.0 295.4,183.0 295.3,182.0 295.2,181.0 295.2,180.0 295.2,179.0 295.2,178.0 295.2,177.0 295.2,176.0 295.2,175.0 295.2,174.0 295.2,172.9 295.2,171.9 295.2,170.9 295.2,169.9 295.2,168.9 295.3,167.9 295.3,166.9 295.4,165.9 295.5,164.9 295.7,163.9 295.8,162.9 296.0,161.9 296.1,160.9 296.3,159.9 296.5,158.9 296.7,157.9 296.8,156.9 297.1,155.9 297.3,154.9 297.7,153.9 298.0,152.9 298.3,151.9 298.6,150.9 298.9,149.9 299.2,148.9 299.5,147.9 299.8,146.9 300.1,145.9 300.4,144.9 300.7,143.9 301.0,142.9 301.2,141.9 301.4,140.9 301.7,139.9 301.9,138.9 302.1,137.9 302.3,136.9 302.4,135.9 302.6,134.9 302.8,133.9 302.9,132.9 303.1,131.9 303.2,130.9 303.3,129.9 303.4,128.9 303.5,127.9Z" fill="#FFC80B"/><rect x="300.08" y="162.10" width="7.30" height="27.60" fill="#fff"/><rect x="301.13" y="163.15" width="5.20" height="25.50" fill="#9A9896"/><rect x="301.13" y="177.10" width="5.20" height="1.8" fill="#fff"/><path d="M328.2,56.0 328.2,57.0 328.2,58.0 328.2,59.0 328.2,60.0 328.2,61.0 328.2,62.0 328.2,63.0 328.2,64.0 328.2,65.0 328.2,66.0 328.2,67.0 328.2,68.0 328.2,69.0 328.2,70.0 328.2,71.0 328.2,72.0 328.2,73.1 328.2,74.1 328.2,75.1 328.2,76.1 328.2,77.1 328.2,78.1 328.3,79.1 328.3,80.1 328.3,81.1 328.3,82.1 328.3,83.1 328.3,84.1 328.3,85.1 328.3,86.1 328.3,87.1 328.3,88.1 328.3,89.1 328.3,90.1 328.4,91.1 328.4,92.1 328.4,93.1 328.4,94.1 328.4,95.1 328.4,96.1 328.4,97.1 328.4,98.1 328.5,99.1 328.5,100.1 328.5,101.1 328.5,102.1 328.5,103.1 328.5,104.1 328.6,105.1 328.6,106.2 328.6,107.2 328.6,108.2 328.6,109.2 328.7,110.2 328.7,111.2 328.7,112.2 328.7,113.2 328.8,114.2 328.8,115.2 328.8,116.2 328.9,117.2 328.9,118.2 328.9,119.2 329.0,120.2 329.0,121.2 329.1,122.2 329.2,123.2 329.2,124.2 329.3,125.2 329.4,126.2 329.6,127.2 329.7,128.2 329.8,129.2 330.0,130.2 330.1,131.2 330.3,132.2 330.5,133.2 330.7,134.2 330.9,135.2 331.2,136.2 331.4,137.2 331.6,138.2 331.8,139.3 332.0,140.3 332.2,141.3 332.5,142.3 332.7,143.3 332.9,144.3 333.1,145.3 333.3,146.3 333.5,147.3 333.7,148.3 333.9,149.3 334.0,150.3 334.2,151.3 334.4,152.3 334.5,153.3 334.7,154.3 334.8,155.3 335.0,156.3 335.1,157.3 335.3,158.3 335.4,159.3 335.6,160.3 335.7,161.3 335.9,162.3 336.0,163.3 336.2,164.3 336.3,165.3 336.4,166.3 336.5,167.3 336.6,168.3 336.6,169.3 336.7,170.3 336.7,171.4 336.8,172.4 336.8,173.4 336.8,174.4 336.9,175.4 336.9,176.4 336.9,177.4 336.9,178.4 337.0,179.4 337.0,180.4 336.9,181.4 336.9,182.4 336.9,183.4 336.8,184.4 336.7,185.4 336.6,186.4 336.5,187.4 336.4,188.4 336.3,189.4 336.1,190.4 336.0,191.4 335.9,192.4 335.7,193.4 335.6,194.4 335.5,195.4 335.3,196.4 335.2,197.4 335.0,198.4 334.9,199.4 334.7,200.4 334.6,201.4 334.4,202.4 334.2,203.4 334.0,204.5 333.8,205.5 333.6,206.5 333.4,207.5 333.1,208.5 332.9,209.5 332.7,210.5 332.4,211.5 332.1,212.5 331.9,213.5 331.6,214.5 331.3,215.5 331.0,216.5 330.6,217.5 330.3,218.5 329.9,219.5 329.6,220.5 325.6,220.5 325.2,219.5 324.8,218.5 324.5,217.5 324.2,216.5 323.8,215.5 323.6,214.5 323.3,213.5 323.0,212.5 322.7,211.5 322.5,210.5 322.2,209.5 322.0,208.5 321.7,207.5 321.5,206.5 321.3,205.5 321.1,204.5 320.9,203.4 320.7,202.4 320.6,201.4 320.4,200.4 320.2,199.4 320.1,198.4 319.9,197.4 319.8,196.4 319.7,195.4 319.5,194.4 319.4,193.4 319.3,192.4 319.1,191.4 319.0,190.4 318.9,189.4 318.7,188.4 318.6,187.4 318.5,186.4 318.4,185.4 318.3,184.4 318.3,183.4 318.2,182.4 318.2,181.4 318.2,180.4 318.2,179.4 318.2,178.4 318.2,177.4 318.2,176.4 318.2,175.4 318.3,174.4 318.3,173.4 318.3,172.4 318.4,171.4 318.4,170.3 318.5,169.3 318.5,168.3 318.6,167.3 318.7,166.3 318.8,165.3 319.0,164.3 319.1,163.3 319.2,162.3 319.4,161.3 319.5,160.3 319.7,159.3 319.8,158.3 320.0,157.3 320.1,156.3 320.3,155.3 320.4,154.3 320.6,153.3 320.8,152.3 320.9,151.3 321.1,150.3 321.3,149.3 321.5,148.3 321.6,147.3 321.8,146.3 322.0,145.3 322.3,144.3 322.5,143.3 322.7,142.3 322.9,141.3 323.1,140.3 323.3,139.3 323.5,138.2 323.7,137.2 324.0,136.2 324.2,135.2 324.4,134.2 324.6,133.2 324.8,132.2 325.0,131.2 325.2,130.2 325.3,129.2 325.4,128.2 325.6,127.2 325.7,126.2 325.8,125.2 325.9,124.2 326.0,123.2 326.0,122.2 326.1,121.2 326.1,120.2 326.2,119.2 326.2,118.2 326.3,117.2 326.3,116.2 326.3,115.2 326.4,114.2 326.4,113.2 326.4,112.2 326.4,111.2 326.5,110.2 326.5,109.2 326.5,108.2 326.5,107.2 326.5,106.2 326.6,105.1 326.6,104.1 326.6,103.1 326.6,102.1 326.6,101.1 326.6,100.1 326.7,99.1 326.7,98.1 326.7,97.1 326.7,96.1 326.7,95.1 326.7,94.1 326.7,93.1 326.8,92.1 326.8,91.1 326.8,90.1 326.8,89.1 326.8,88.1 326.8,87.1 326.8,86.1 326.8,85.1 326.8,84.1 326.8,83.1 326.8,82.1 326.9,81.1 326.9,80.1 326.9,79.1 326.9,78.1 326.9,77.1 326.9,76.1 326.9,75.1 326.9,74.1 326.9,73.1 326.9,72.0 326.9,71.0 326.9,70.0 326.9,69.0 326.9,68.0 326.9,67.0 326.9,66.0 326.9,65.0 326.9,64.0 326.9,63.0 326.9,62.0 327.0,61.0 327.0,60.0 327.0,59.0 327.0,58.0 327.0,57.0 327.0,56.0Z" fill="#D3D3EA"/><rect x="323.91" y="161.30" width="7.30" height="33.40" fill="#fff"/><rect x="324.96" y="162.35" width="5.20" height="31.30" fill="#9A9896"/><rect x="324.96" y="177.90" width="5.20" height="1.8" fill="#fff"/><rect x="327.80" y="55.40" width="1.4" height="1.4" fill="#8c8c8c"/><rect x="330.80" y="71.90" width="1.4" height="1.4" fill="#8c8c8c"/><rect x="327.80" y="87.90" width="1.4" height="1.4" fill="#8c8c8c"/><rect x="328.10" y="94.60" width="1.4" height="1.4" fill="#8c8c8c"/><rect x="328.90" y="94.60" width="1.4" height="1.4" fill="#8c8c8c"/><rect x="331.90" y="96.80" width="1.4" height="1.4" fill="#8c8c8c"/><rect x="331.90" y="97.60" width="1.4" height="1.4" fill="#8c8c8c"/><rect x="328.10" y="101.70" width="1.4" height="1.4" fill="#8c8c8c"/><rect x="329.20" y="102.80" width="1.4" height="1.4" fill="#8c8c8c"/><path d="M351.6,154.5 351.8,155.5 352.1,156.5 352.4,157.5 352.7,158.5 353.0,159.6 353.3,160.6 353.6,161.6 353.9,162.6 354.3,163.6 354.6,164.6 355.0,165.6 355.4,166.6 355.8,167.7 356.2,168.7 356.6,169.7 357.0,170.7 357.4,171.7 357.7,172.7 358.0,173.7 358.4,174.7 358.7,175.8 359.1,176.8 359.4,177.8 359.6,178.8 359.7,179.8 359.7,180.8 359.7,181.8 359.7,182.8 359.7,183.9 359.7,184.9 359.7,185.9 359.7,186.9 359.7,187.9 359.6,188.9 359.4,189.9 359.1,190.9 358.7,192.0 358.2,193.0 357.8,194.0 357.4,195.0 357.0,196.0 356.6,197.0 356.2,198.0 355.7,199.0 355.3,200.1 354.9,201.1 354.5,202.1 354.2,203.1 353.9,204.1 353.6,205.1 353.4,206.1 353.2,207.1 353.0,208.2 352.7,209.2 352.3,210.2 352.0,211.2 351.6,212.2 351.2,212.2 350.8,211.2 350.4,210.2 350.1,209.2 349.8,208.2 349.6,207.1 349.4,206.1 349.1,205.1 348.9,204.1 348.6,203.1 348.3,202.1 347.9,201.1 347.5,200.1 347.1,199.0 346.6,198.0 346.2,197.0 345.8,196.0 345.4,195.0 345.0,194.0 344.5,193.0 344.1,192.0 343.7,190.9 343.4,189.9 343.2,188.9 343.1,187.9 343.1,186.9 343.1,185.9 343.1,184.9 343.1,183.9 343.1,182.8 343.1,181.8 343.1,180.8 343.1,179.8 343.2,178.8 343.4,177.8 343.7,176.8 344.0,175.8 344.4,174.7 344.7,173.7 345.1,172.7 345.4,171.7 345.8,170.7 346.2,169.7 346.6,168.7 347.0,167.7 347.4,166.6 347.8,165.6 348.2,164.6 348.5,163.6 348.9,162.6 349.2,161.6 349.5,160.6 349.8,159.6 350.1,158.5 350.4,157.5 350.7,156.5 350.9,155.5 351.2,154.5Z" fill="#FFC80B"/><rect x="347.74" y="173.50" width="7.30" height="18.20" fill="#fff"/><rect x="348.79" y="174.55" width="5.20" height="16.10" fill="#9A9896"/><rect x="348.79" y="181.70" width="5.20" height="1.8" fill="#fff"/><rect x="352.70" y="146.50" width="1.4" height="1.4" fill="#8c8c8c"/><path d="M375.4,155.2 375.6,156.2 375.7,157.2 375.9,158.2 376.0,159.2 376.2,160.2 376.4,161.2 376.6,162.2 376.8,163.2 377.0,164.2 377.2,165.2 377.5,166.2 377.7,167.2 378.0,168.2 378.3,169.2 378.6,170.2 378.9,171.2 379.2,172.2 379.5,173.2 379.8,174.2 380.1,175.2 380.5,176.2 380.9,177.2 381.2,178.2 381.6,179.2 381.9,180.2 382.2,181.2 382.6,182.2 383.0,183.2 383.3,184.2 383.6,185.2 383.7,186.2 383.7,187.2 383.5,188.2 383.3,189.2 383.0,190.2 382.6,191.2 382.2,192.2 381.8,193.2 381.4,194.2 381.1,195.2 380.8,196.2 380.5,197.2 380.3,198.2 380.0,199.2 379.7,200.2 379.5,201.2 379.2,202.2 379.0,203.2 378.7,204.2 378.5,205.2 378.3,206.2 378.1,207.2 377.9,208.2 377.6,209.2 377.4,210.2 377.2,211.2 376.9,212.2 376.7,213.2 376.4,214.2 376.2,215.2 375.9,216.2 375.7,217.2 375.4,218.2 375.0,218.2 374.8,217.2 374.5,216.2 374.2,215.2 374.0,214.2 373.7,213.2 373.5,212.2 373.3,211.2 373.0,210.2 372.8,209.2 372.6,208.2 372.4,207.2 372.1,206.2 371.9,205.2 371.7,204.2 371.5,203.2 371.2,202.2 371.0,201.2 370.7,200.2 370.4,199.2 370.2,198.2 369.9,197.2 369.6,196.2 369.3,195.2 369.0,194.2 368.6,193.2 368.2,192.2 367.8,191.2 367.5,190.2 367.2,189.2 366.9,188.2 366.8,187.2 366.7,186.2 366.8,185.2 367.1,184.2 367.4,183.2 367.8,182.2 368.2,181.2 368.6,180.2 368.9,179.2 369.2,178.2 369.6,177.2 369.9,176.2 370.3,175.2 370.6,174.2 371.0,173.2 371.3,172.2 371.6,171.2 371.9,170.2 372.2,169.2 372.4,168.2 372.7,167.2 373.0,166.2 373.2,165.2 373.4,164.2 373.6,163.2 373.8,162.2 374.0,161.2 374.2,160.2 374.4,159.2 374.6,158.2 374.7,157.2 374.9,156.2 375.0,155.2Z" fill="#FFC80B"/><rect x="371.57" y="178.00" width="7.30" height="19.70" fill="#fff"/><rect x="372.62" y="179.05" width="5.20" height="17.60" fill="#9A9896"/><rect x="372.62" y="186.70" width="5.20" height="1.8" fill="#fff"/><rect x="375.20" y="136.30" width="1.4" height="1.4" fill="#8c8c8c"/><rect x="377.30" y="135.60" width="1.4" height="1.4" fill="#8c8c8c"/><rect x="378.50" y="135.90" width="1.4" height="1.4" fill="#8c8c8c"/><path d="M399.9,121.9 399.9,122.9 399.9,123.9 399.9,124.9 399.9,125.9 399.9,126.9 399.9,127.9 399.9,128.9 399.9,129.9 399.9,130.9 399.9,131.9 399.9,132.9 399.9,133.9 399.9,134.9 399.9,135.9 399.9,136.9 399.9,137.9 399.9,138.9 399.9,139.9 399.9,140.9 399.9,141.9 399.9,142.9 399.9,143.9 399.9,144.9 399.9,145.9 399.9,146.9 399.9,147.9 399.9,148.9 399.9,149.9 399.9,150.9 399.9,151.9 399.9,152.9 399.9,153.9 399.9,154.9 399.9,155.9 399.9,156.9 399.9,157.9 399.9,158.9 399.9,159.9 400.0,160.9 400.1,161.9 400.3,162.9 400.7,163.9 401.0,164.9 401.3,165.9 401.8,166.9 402.2,167.9 402.8,168.9 403.3,169.9 403.8,170.9 404.2,171.9 404.6,172.9 405.0,173.9 405.3,174.9 405.6,175.9 405.8,176.9 406.1,177.9 406.4,178.9 406.6,179.9 406.9,180.9 407.2,181.9 407.6,182.9 407.9,183.9 408.2,184.9 408.4,185.9 408.6,186.9 408.7,187.9 408.6,188.9 408.4,189.9 408.1,190.9 407.7,191.9 407.2,192.9 406.8,193.9 406.4,194.9 406.0,195.9 405.6,196.9 405.2,197.9 404.8,198.9 404.3,199.9 403.9,200.9 403.5,201.9 403.1,202.9 402.7,203.9 402.4,204.9 402.1,205.9 401.8,206.9 401.5,207.9 401.2,208.9 400.8,209.9 400.4,210.9 399.9,211.9 399.4,212.9 398.8,212.9 398.2,211.9 397.7,210.9 397.3,209.9 396.9,208.9 396.6,207.9 396.3,206.9 396.0,205.9 395.7,204.9 395.4,203.9 395.0,202.9 394.6,201.9 394.2,200.9 393.8,199.9 393.3,198.9 392.9,197.9 392.5,196.9 392.1,195.9 391.7,194.9 391.3,193.9 390.9,192.9 390.4,191.9 390.0,190.9 389.7,189.9 389.5,188.9 389.4,187.9 389.5,186.9 389.7,185.9 389.9,184.9 390.2,183.9 390.5,182.9 390.9,181.9 391.2,180.9 391.5,179.9 391.7,178.9 392.0,177.9 392.3,176.9 392.5,175.9 392.8,174.9 393.1,173.9 393.5,172.9 393.9,171.9 394.3,170.9 394.8,169.9 395.3,168.9 395.9,167.9 396.3,166.9 396.8,165.9 397.1,164.9 397.4,163.9 397.8,162.9 398.0,161.9 398.1,160.9 398.2,159.9 398.2,158.9 398.2,157.9 398.2,156.9 398.2,155.9 398.2,154.9 398.2,153.9 398.2,152.9 398.2,151.9 398.2,150.9 398.2,149.9 398.2,148.9 398.2,147.9 398.2,146.9 398.2,145.9 398.2,144.9 398.2,143.9 398.2,142.9 398.2,141.9 398.2,140.9 398.2,139.9 398.2,138.9 398.2,137.9 398.2,136.9 398.2,135.9 398.2,134.9 398.2,133.9 398.2,132.9 398.2,131.9 398.2,130.9 398.2,129.9 398.2,128.9 398.2,127.9 398.2,126.9 398.2,125.9 398.2,124.9 398.2,123.9 398.2,122.9 398.2,121.9Z" fill="#D3D3EA"/><rect x="395.40" y="181.00" width="7.30" height="13.70" fill="#fff"/><rect x="396.45" y="182.05" width="5.20" height="11.60" fill="#9A9896"/><rect x="396.45" y="187.00" width="5.20" height="1.8" fill="#fff"/><rect x="399.80" y="121.60" width="1.4" height="1.4" fill="#8c8c8c"/><rect x="399.00" y="140.90" width="1.4" height="1.4" fill="#8c8c8c"/><rect x="400.10" y="151.10" width="1.4" height="1.4" fill="#8c8c8c"/><rect x="399.50" y="154.50" width="1.4" height="1.4" fill="#8c8c8c"/><rect x="399.00" y="159.60" width="1.4" height="1.4" fill="#8c8c8c"/><path d="M423.1,122.6 423.1,123.6 423.2,124.6 423.2,125.6 423.3,126.6 423.4,127.6 423.4,128.6 423.5,129.6 423.6,130.6 423.6,131.6 423.7,132.6 423.8,133.6 423.9,134.6 423.9,135.6 424.0,136.6 424.1,137.6 424.2,138.7 424.3,139.7 424.4,140.7 424.5,141.7 424.6,142.7 424.7,143.7 424.8,144.7 424.9,145.7 425.0,146.7 425.1,147.7 425.2,148.7 425.4,149.7 425.5,150.7 425.6,151.7 425.7,152.7 425.8,153.7 425.9,154.7 426.1,155.7 426.2,156.7 426.3,157.7 426.4,158.7 426.6,159.7 426.7,160.7 426.8,161.7 427.0,162.7 427.1,163.7 427.2,164.7 427.4,165.7 427.5,166.7 427.7,167.7 427.8,168.8 428.0,169.8 428.2,170.8 428.3,171.8 428.5,172.8 428.7,173.8 428.9,174.8 429.0,175.8 429.2,176.8 429.4,177.8 429.6,178.8 429.8,179.8 430.0,180.8 430.1,181.8 430.3,182.8 430.4,183.8 430.6,184.8 430.8,185.8 430.9,186.8 431.0,187.8 431.2,188.8 431.3,189.8 431.4,190.8 431.5,191.8 431.6,192.8 431.6,193.8 431.7,194.8 431.8,195.8 431.8,196.8 431.9,197.8 431.9,198.8 431.8,199.9 431.6,200.9 431.4,201.9 431.2,202.9 430.9,203.9 430.6,204.9 430.3,205.9 430.1,206.9 429.8,207.9 429.5,208.9 429.2,209.9 428.8,210.9 428.5,211.9 428.1,212.9 427.8,213.9 427.4,214.9 418.4,214.9 418.0,213.9 417.6,212.9 417.3,211.9 416.9,210.9 416.6,209.9 416.3,208.9 416.0,207.9 415.7,206.9 415.4,205.9 415.1,204.9 414.9,203.9 414.6,202.9 414.3,201.9 414.1,200.9 414.0,199.9 413.9,198.8 413.9,197.8 413.9,196.8 414.0,195.8 414.0,194.8 414.1,193.8 414.2,192.8 414.3,191.8 414.4,190.8 414.5,189.8 414.6,188.8 414.7,187.8 414.9,186.8 415.0,185.8 415.2,184.8 415.3,183.8 415.5,182.8 415.6,181.8 415.8,180.8 416.0,179.8 416.1,178.8 416.3,177.8 416.5,176.8 416.7,175.8 416.9,174.8 417.1,173.8 417.3,172.8 417.4,171.8 417.6,170.8 417.8,169.8 417.9,168.8 418.1,167.7 418.2,166.7 418.4,165.7 418.5,164.7 418.7,163.7 418.8,162.7 418.9,161.7 419.1,160.7 419.2,159.7 419.3,158.7 419.5,157.7 419.6,156.7 419.7,155.7 419.8,154.7 419.9,153.7 420.1,152.7 420.2,151.7 420.3,150.7 420.4,149.7 420.5,148.7 420.6,147.7 420.7,146.7 420.8,145.7 420.9,144.7 421.0,143.7 421.1,142.7 421.2,141.7 421.3,140.7 421.4,139.7 421.5,138.7 421.6,137.6 421.7,136.6 421.8,135.6 421.9,134.6 422.0,133.6 422.0,132.6 422.1,131.6 422.2,130.6 422.3,129.6 422.3,128.6 422.4,127.6 422.5,126.6 422.5,125.6 422.6,124.6 422.6,123.6 422.7,122.6Z" fill="#FFC80B"/><rect x="419.23" y="171.20" width="7.30" height="30.00" fill="#fff"/><rect x="420.28" y="172.25" width="5.20" height="27.90" fill="#9A9896"/><rect x="420.28" y="187.70" width="5.20" height="1.8" fill="#fff"/><rect x="422.60" y="31.20" width="1.4" height="1.4" fill="#8c8c8c"/><rect x="423.70" y="42.10" width="1.4" height="1.4" fill="#8c8c8c"/><rect x="422.30" y="75.80" width="1.4" height="1.4" fill="#8c8c8c"/><rect x="427.30" y="93.30" width="1.4" height="1.4" fill="#8c8c8c"/><rect x="425.30" y="103.30" width="1.4" height="1.4" fill="#8c8c8c"/><path d="M446.9,162.1 447.0,163.1 447.2,164.1 447.4,165.1 447.6,166.2 447.9,167.2 448.2,168.2 448.7,169.2 449.2,170.2 449.7,171.2 450.3,172.3 450.8,173.3 451.3,174.3 451.8,175.3 452.2,176.3 452.7,177.3 453.1,178.4 453.5,179.4 453.7,180.4 454.0,181.4 454.2,182.4 454.4,183.4 454.7,184.5 454.8,185.5 455.0,186.5 455.1,187.5 455.2,188.5 455.2,189.5 455.2,190.6 455.0,191.6 454.8,192.6 454.6,193.6 454.3,194.6 454.1,195.6 453.8,196.6 453.5,197.7 453.3,198.7 453.0,199.7 452.7,200.7 452.4,201.7 452.1,202.7 451.8,203.8 451.4,204.8 451.0,205.8 450.7,206.8 450.3,207.8 449.9,208.8 449.6,209.9 449.2,210.9 448.9,211.9 448.6,212.9 448.3,213.9 448.0,214.9 447.7,216.0 447.4,217.0 447.2,218.0 446.9,219.0 446.5,219.0 446.3,218.0 446.0,217.0 445.7,216.0 445.4,214.9 445.1,213.9 444.8,212.9 444.5,211.9 444.2,210.9 443.9,209.9 443.5,208.8 443.1,207.8 442.8,206.8 442.4,205.8 442.0,204.8 441.7,203.8 441.3,202.7 441.0,201.7 440.7,200.7 440.4,199.7 440.1,198.7 439.9,197.7 439.6,196.6 439.4,195.6 439.1,194.6 438.8,193.6 438.6,192.6 438.4,191.6 438.3,190.6 438.2,189.5 438.2,188.5 438.3,187.5 438.4,186.5 438.6,185.5 438.8,184.5 439.0,183.4 439.2,182.4 439.4,181.4 439.7,180.4 440.0,179.4 440.3,178.4 440.7,177.3 441.2,176.3 441.7,175.3 442.2,174.3 442.6,173.3 443.1,172.3 443.7,171.2 444.2,170.2 444.8,169.2 445.2,168.2 445.5,167.2 445.8,166.2 446.0,165.1 446.3,164.1 446.4,163.1 446.5,162.1Z" fill="#FFC80B"/><rect x="443.06" y="182.10" width="7.30" height="18.40" fill="#fff"/><rect x="444.11" y="183.15" width="5.20" height="16.30" fill="#9A9896"/><rect x="444.11" y="190.30" width="5.20" height="1.8" fill="#fff"/><rect x="450.50" y="145.90" width="1.4" height="1.4" fill="#8c8c8c"/><rect x="447.50" y="152.00" width="1.4" height="1.4" fill="#8c8c8c"/><rect x="446.70" y="155.30" width="1.4" height="1.4" fill="#8c8c8c"/><rect x="447.90" y="155.60" width="1.4" height="1.4" fill="#8c8c8c"/><path d="M470.7,152.2 470.8,153.2 470.9,154.2 471.0,155.2 471.1,156.2 471.2,157.2 471.4,158.2 471.5,159.3 471.7,160.3 471.9,161.3 472.1,162.3 472.3,163.3 472.5,164.3 472.8,165.3 473.1,166.3 473.4,167.3 473.7,168.3 474.1,169.3 474.5,170.3 474.9,171.3 475.4,172.4 475.8,173.4 476.2,174.4 476.5,175.4 476.8,176.4 477.1,177.4 477.4,178.4 477.6,179.4 477.8,180.4 478.0,181.4 478.2,182.4 478.4,183.4 478.5,184.4 478.6,185.5 478.7,186.5 478.8,187.5 478.9,188.5 479.0,189.5 479.0,190.5 479.1,191.5 479.2,192.5 479.2,193.5 479.2,194.5 479.2,195.5 479.2,196.5 479.1,197.6 479.0,198.6 478.9,199.6 478.7,200.6 478.4,201.6 478.2,202.6 478.0,203.6 477.7,204.6 477.5,205.6 477.2,206.6 476.9,207.6 476.5,208.6 476.1,209.6 475.7,210.7 475.3,211.7 475.0,212.7 474.6,213.7 474.3,214.7 473.9,215.7 473.5,216.7 467.5,216.7 467.2,215.7 466.8,214.7 466.5,213.7 466.1,212.7 465.7,211.7 465.4,210.7 465.0,209.6 464.6,208.6 464.2,207.6 463.9,206.6 463.6,205.6 463.4,204.6 463.1,203.6 462.9,202.6 462.6,201.6 462.4,200.6 462.2,199.6 462.1,198.6 461.9,197.6 461.9,196.5 461.8,195.5 461.8,194.5 461.9,193.5 461.9,192.5 462.0,191.5 462.0,190.5 462.1,189.5 462.2,188.5 462.3,187.5 462.4,186.5 462.5,185.5 462.6,184.4 462.7,183.4 462.9,182.4 463.0,181.4 463.3,180.4 463.5,179.4 463.7,178.4 464.0,177.4 464.3,176.4 464.5,175.4 464.9,174.4 465.3,173.4 465.7,172.4 466.2,171.3 466.6,170.3 467.0,169.3 467.4,168.3 467.7,167.3 468.0,166.3 468.3,165.3 468.5,164.3 468.8,163.3 469.0,162.3 469.2,161.3 469.4,160.3 469.6,159.3 469.7,158.2 469.9,157.2 470.0,156.2 470.1,155.2 470.2,154.2 470.3,153.2 470.3,152.2Z" fill="#FFC80B"/><rect x="466.89" y="181.00" width="7.30" height="21.70" fill="#fff"/><rect x="467.94" y="182.05" width="5.20" height="19.60" fill="#9A9896"/><rect x="467.94" y="191.80" width="5.20" height="1.8" fill="#fff"/><rect x="473.30" y="121.90" width="1.4" height="1.4" fill="#8c8c8c"/><rect x="472.50" y="130.30" width="1.4" height="1.4" fill="#8c8c8c"/><rect x="469.90" y="131.80" width="1.4" height="1.4" fill="#8c8c8c"/><rect x="472.50" y="139.40" width="1.4" height="1.4" fill="#8c8c8c"/><rect x="471.00" y="147.70" width="1.4" height="1.4" fill="#8c8c8c"/><rect x="471.80" y="149.50" width="1.4" height="1.4" fill="#8c8c8c"/><path d="M494.6,166.6 494.7,167.6 494.8,168.6 495.0,169.6 495.3,170.6 495.5,171.6 495.8,172.6 496.2,173.6 496.7,174.6 497.3,175.6 497.8,176.6 498.3,177.6 498.8,178.6 499.2,179.6 499.7,180.6 500.1,181.6 500.5,182.6 500.8,183.6 501.1,184.6 501.4,185.6 501.6,186.6 501.9,187.6 502.1,188.6 502.3,189.6 502.4,190.6 502.6,191.6 502.7,192.7 502.8,193.7 502.9,194.7 503.0,195.7 503.1,196.7 503.2,197.7 503.2,198.7 503.1,199.7 502.8,200.7 502.4,201.7 502.0,202.7 501.6,203.7 501.1,204.7 500.7,205.7 500.2,206.7 499.7,207.7 499.2,208.7 498.7,209.7 498.1,210.7 497.6,211.7 497.0,212.7 496.4,213.7 495.8,214.7 495.2,215.7 494.6,216.7 494.2,216.7 493.5,215.7 492.9,214.7 492.3,213.7 491.7,212.7 491.2,211.7 490.6,210.7 490.1,209.7 489.5,208.7 489.0,207.7 488.5,206.7 488.0,205.7 487.6,204.7 487.2,203.7 486.7,202.7 486.3,201.7 486.0,200.7 485.7,199.7 485.6,198.7 485.6,197.7 485.6,196.7 485.7,195.7 485.8,194.7 485.9,193.7 486.0,192.7 486.2,191.6 486.3,190.6 486.5,189.6 486.7,188.6 486.9,187.6 487.1,186.6 487.4,185.6 487.6,184.6 487.9,183.6 488.3,182.6 488.7,181.6 489.1,180.6 489.5,179.6 490.0,178.6 490.4,177.6 490.9,176.6 491.5,175.6 492.0,174.6 492.5,173.6 492.9,172.6 493.2,171.6 493.5,170.6 493.7,169.6 493.9,168.6 494.1,167.6 494.2,166.6Z" fill="#FFC80B"/><rect x="490.72" y="184.80" width="7.30" height="16.40" fill="#fff"/><rect x="491.77" y="185.85" width="5.20" height="14.30" fill="#9A9896"/><rect x="491.77" y="192.70" width="5.20" height="1.8" fill="#fff"/><rect x="494.50" y="155.00" width="1.4" height="1.4" fill="#8c8c8c"/><rect x="494.80" y="161.10" width="1.4" height="1.4" fill="#8c8c8c"/><path d="M518.4,157.5 518.5,158.5 518.7,159.5 518.8,160.5 519.0,161.5 519.2,162.5 519.4,163.5 519.6,164.5 519.8,165.5 520.0,166.5 520.3,167.5 520.5,168.5 520.8,169.5 521.1,170.5 521.4,171.5 521.7,172.6 521.9,173.6 522.2,174.6 522.6,175.6 522.9,176.6 523.2,177.6 523.5,178.6 523.8,179.6 524.1,180.6 524.4,181.6 524.7,182.6 524.9,183.6 525.2,184.6 525.5,185.6 525.7,186.6 525.9,187.6 526.1,188.6 526.3,189.6 526.5,190.6 526.7,191.6 526.9,192.6 527.0,193.6 527.1,194.6 527.1,195.6 527.1,196.6 527.0,197.6 526.8,198.6 526.7,199.6 526.5,200.6 526.3,201.6 526.1,202.7 525.9,203.7 525.6,204.7 525.2,205.7 524.9,206.7 524.5,207.7 524.1,208.7 523.7,209.7 523.4,210.7 523.0,211.7 522.7,212.7 522.3,213.7 521.9,214.7 521.6,215.7 521.2,216.7 515.2,216.7 514.8,215.7 514.5,214.7 514.1,213.7 513.7,212.7 513.4,211.7 513.0,210.7 512.7,209.7 512.3,208.7 511.9,207.7 511.5,206.7 511.2,205.7 510.8,204.7 510.5,203.7 510.3,202.7 510.1,201.6 509.9,200.6 509.7,199.6 509.6,198.6 509.4,197.6 509.3,196.6 509.3,195.6 509.3,194.6 509.4,193.6 509.5,192.6 509.7,191.6 509.9,190.6 510.1,189.6 510.3,188.6 510.5,187.6 510.7,186.6 510.9,185.6 511.2,184.6 511.5,183.6 511.7,182.6 512.0,181.6 512.3,180.6 512.6,179.6 512.9,178.6 513.2,177.6 513.5,176.6 513.8,175.6 514.2,174.6 514.5,173.6 514.7,172.6 515.0,171.5 515.3,170.5 515.6,169.5 515.9,168.5 516.1,167.5 516.4,166.5 516.6,165.5 516.8,164.5 517.0,163.5 517.2,162.5 517.4,161.5 517.6,160.5 517.7,159.5 517.9,158.5 518.0,157.5Z" fill="#FFC80B"/><rect x="514.55" y="183.30" width="7.30" height="20.10" fill="#fff"/><rect x="515.60" y="184.35" width="5.20" height="18.00" fill="#9A9896"/><rect x="515.60" y="194.30" width="5.20" height="1.8" fill="#fff"/><rect x="517.70" y="67.30" width="1.4" height="1.4" fill="#8c8c8c"/><rect x="520.70" y="131.80" width="1.4" height="1.4" fill="#8c8c8c"/><rect x="518.10" y="135.30" width="1.4" height="1.4" fill="#8c8c8c"/><rect x="521.50" y="138.30" width="1.4" height="1.4" fill="#8c8c8c"/><rect x="518.10" y="148.50" width="1.4" height="1.4" fill="#8c8c8c"/><rect x="521.50" y="151.50" width="1.4" height="1.4" fill="#8c8c8c"/><path d="M542.2,164.4 542.4,165.4 542.6,166.4 542.8,167.4 543.0,168.4 543.2,169.4 543.4,170.4 543.7,171.4 544.0,172.4 544.2,173.5 544.6,174.5 544.9,175.5 545.3,176.5 545.7,177.5 546.1,178.5 546.4,179.5 546.8,180.5 547.1,181.5 547.5,182.5 547.8,183.5 548.2,184.5 548.5,185.5 548.8,186.5 549.0,187.5 549.3,188.5 549.5,189.5 549.8,190.6 550.0,191.6 550.2,192.6 550.4,193.6 550.5,194.6 550.6,195.6 550.7,196.6 550.8,197.6 550.9,198.6 550.9,199.6 551.0,200.6 551.0,201.6 551.0,202.6 551.0,203.6 550.8,204.6 550.5,205.6 550.2,206.6 549.7,207.6 549.3,208.7 548.9,209.7 548.4,210.7 547.8,211.7 547.3,212.7 546.7,213.7 546.2,214.7 545.7,215.7 545.2,216.7 538.8,216.7 538.3,215.7 537.8,214.7 537.3,213.7 536.8,212.7 536.2,211.7 535.7,210.7 535.2,209.7 534.7,208.7 534.3,207.6 533.9,206.6 533.5,205.6 533.2,204.6 533.1,203.6 533.0,202.6 533.0,201.6 533.1,200.6 533.1,199.6 533.2,198.6 533.3,197.6 533.3,196.6 533.4,195.6 533.5,194.6 533.7,193.6 533.9,192.6 534.1,191.6 534.3,190.6 534.5,189.5 534.8,188.5 535.0,187.5 535.3,186.5 535.6,185.5 535.9,184.5 536.2,183.5 536.6,182.5 536.9,181.5 537.3,180.5 537.6,179.5 538.0,178.5 538.4,177.5 538.8,176.5 539.1,175.5 539.5,174.5 539.8,173.5 540.1,172.4 540.4,171.4 540.6,170.4 540.9,169.4 541.1,168.4 541.3,167.4 541.5,166.4 541.7,165.4 541.8,164.4Z" fill="#FFC80B"/><rect x="538.38" y="185.30" width="7.30" height="20.00" fill="#fff"/><rect x="539.43" y="186.35" width="5.20" height="17.90" fill="#9A9896"/><rect x="539.43" y="194.60" width="5.20" height="1.8" fill="#fff"/><rect x="542.00" y="147.40" width="1.4" height="1.4" fill="#8c8c8c"/><path d="M566.1,146.9 566.1,147.9 566.1,148.9 566.1,149.9 566.1,150.9 566.1,151.9 566.2,152.9 566.2,154.0 566.2,155.0 566.2,156.0 566.2,157.0 566.3,158.0 566.3,159.0 566.4,160.0 566.4,161.0 566.5,162.0 566.6,163.0 566.7,164.0 566.8,165.0 567.0,166.1 567.2,167.1 567.4,168.1 567.5,169.1 567.8,170.1 568.0,171.1 568.2,172.1 568.5,173.1 568.7,174.1 569.1,175.1 569.4,176.1 569.7,177.1 570.0,178.2 570.4,179.2 570.7,180.2 571.1,181.2 571.4,182.2 571.8,183.2 572.1,184.2 572.5,185.2 572.8,186.2 573.1,187.2 573.3,188.2 573.6,189.2 573.8,190.3 574.1,191.3 574.3,192.3 574.5,193.3 574.6,194.3 574.7,195.3 574.7,196.3 574.7,197.3 574.7,198.3 574.7,199.3 574.6,200.3 574.4,201.3 574.1,202.4 573.7,203.4 573.4,204.4 573.0,205.4 572.6,206.4 572.2,207.4 571.8,208.4 571.4,209.4 570.9,210.4 570.5,211.4 570.1,212.4 569.6,213.4 569.1,214.5 568.7,215.5 568.2,216.5 567.7,217.5 567.1,218.5 566.6,219.5 566.1,220.5 565.7,220.5 565.1,219.5 564.6,218.5 564.0,217.5 563.5,216.5 563.1,215.5 562.6,214.5 562.1,213.4 561.7,212.4 561.2,211.4 560.8,210.4 560.4,209.4 559.9,208.4 559.5,207.4 559.1,206.4 558.7,205.4 558.3,204.4 558.0,203.4 557.6,202.4 557.3,201.3 557.1,200.3 557.1,199.3 557.1,198.3 557.1,197.3 557.1,196.3 557.1,195.3 557.1,194.3 557.2,193.3 557.4,192.3 557.6,191.3 557.9,190.3 558.1,189.2 558.4,188.2 558.6,187.2 558.9,186.2 559.2,185.2 559.6,184.2 560.0,183.2 560.3,182.2 560.7,181.2 561.0,180.2 561.3,179.2 561.7,178.2 562.0,177.1 562.3,176.1 562.7,175.1 563.0,174.1 563.3,173.1 563.5,172.1 563.7,171.1 564.0,170.1 564.2,169.1 564.4,168.1 564.5,167.1 564.7,166.1 564.9,165.0 565.0,164.0 565.2,163.0 565.2,162.0 565.3,161.0 565.4,160.0 565.4,159.0 565.4,158.0 565.5,157.0 565.5,156.0 565.5,155.0 565.5,154.0 565.6,152.9 565.6,151.9 565.6,150.9 565.6,149.9 565.6,148.9 565.6,147.9 565.6,146.9Z" fill="#FFC80B"/><rect x="562.21" y="189.10" width="7.30" height="17.00" fill="#fff"/><rect x="563.26" y="190.15" width="5.20" height="14.90" fill="#9A9896"/><rect x="563.26" y="196.80" width="5.20" height="1.8" fill="#fff"/><rect x="565.80" y="124.20" width="1.4" height="1.4" fill="#8c8c8c"/><rect x="567.80" y="137.10" width="1.4" height="1.4" fill="#8c8c8c"/><rect x="567.00" y="140.40" width="1.4" height="1.4" fill="#8c8c8c"/><rect x="566.30" y="146.50" width="1.4" height="1.4" fill="#8c8c8c"/><rect x="570.00" y="146.50" width="1.4" height="1.4" fill="#8c8c8c"/><rect x="571.90" y="148.90" width="1.4" height="1.4" fill="#8c8c8c"/><rect x="565.80" y="151.10" width="1.4" height="1.4" fill="#8c8c8c"/><rect x="567.30" y="151.50" width="1.4" height="1.4" fill="#8c8c8c"/><rect x="570.80" y="156.80" width="1.4" height="1.4" fill="#8c8c8c"/><rect x="568.50" y="159.10" width="1.4" height="1.4" fill="#8c8c8c"/><rect x="569.30" y="162.10" width="1.4" height="1.4" fill="#8c8c8c"/><rect x="565.80" y="163.20" width="1.4" height="1.4" fill="#8c8c8c"/><path d="M590.1,133.2 590.2,134.2 590.2,135.2 590.2,136.2 590.3,137.2 590.3,138.2 590.3,139.2 590.4,140.2 590.4,141.2 590.5,142.2 590.5,143.2 590.5,144.2 590.6,145.3 590.6,146.3 590.7,147.3 590.7,148.3 590.8,149.3 590.8,150.3 590.9,151.3 590.9,152.3 590.9,153.3 591.0,154.3 591.0,155.3 591.1,156.3 591.1,157.3 591.2,158.3 591.2,159.3 591.3,160.3 591.3,161.3 591.4,162.3 591.5,163.3 591.5,164.3 591.6,165.3 591.7,166.3 591.8,167.4 592.0,168.4 592.2,169.4 592.4,170.4 592.5,171.4 592.7,172.4 592.9,173.4 593.1,174.4 593.2,175.4 593.4,176.4 593.5,177.4 593.7,178.4 593.8,179.4 594.0,180.4 594.1,181.4 594.2,182.4 594.3,183.4 594.4,184.4 594.6,185.4 594.7,186.4 594.7,187.4 594.8,188.4 594.9,189.5 595.0,190.5 595.1,191.5 595.2,192.5 595.3,193.5 595.4,194.5 595.5,195.5 595.6,196.5 595.8,197.5 596.0,198.5 596.1,199.5 596.3,200.5 596.5,201.5 596.8,202.5 597.0,203.5 597.2,204.5 597.4,205.5 597.6,206.5 597.8,207.5 598.0,208.5 598.2,209.5 598.4,210.5 598.7,211.6 598.8,212.6 599.0,213.6 599.1,214.6 599.2,215.6 599.3,216.6 599.4,217.6 599.4,218.6 599.2,219.6 598.9,220.6 598.4,221.6 596.7,222.6 582.7,222.6 581.0,221.6 580.5,220.6 580.2,219.6 580.0,218.6 580.0,217.6 580.1,216.6 580.2,215.6 580.3,214.6 580.4,213.6 580.6,212.6 580.7,211.6 580.9,210.5 581.1,209.5 581.4,208.5 581.6,207.5 581.8,206.5 582.0,205.5 582.2,204.5 582.4,203.5 582.6,202.5 582.8,201.5 583.0,200.5 583.2,199.5 583.4,198.5 583.6,197.5 583.8,196.5 583.9,195.5 584.0,194.5 584.1,193.5 584.2,192.5 584.3,191.5 584.4,190.5 584.5,189.5 584.5,188.4 584.6,187.4 584.7,186.4 584.8,185.4 584.9,184.4 585.0,183.4 585.2,182.4 585.3,181.4 585.4,180.4 585.6,179.4 585.7,178.4 585.8,177.4 586.0,176.4 586.1,175.4 586.3,174.4 586.5,173.4 586.7,172.4 586.8,171.4 587.0,170.4 587.2,169.4 587.4,168.4 587.5,167.4 587.7,166.3 587.8,165.3 587.9,164.3 587.9,163.3 588.0,162.3 588.1,161.3 588.1,160.3 588.2,159.3 588.2,158.3 588.3,157.3 588.3,156.3 588.4,155.3 588.4,154.3 588.4,153.3 588.5,152.3 588.5,151.3 588.6,150.3 588.6,149.3 588.7,148.3 588.7,147.3 588.7,146.3 588.8,145.3 588.8,144.2 588.9,143.2 588.9,142.2 589.0,141.2 589.0,140.2 589.0,139.2 589.1,138.2 589.1,137.2 589.1,136.2 589.2,135.2 589.2,134.2 589.2,133.2Z" fill="#D3D3EA"/><rect x="586.04" y="193.20" width="7.30" height="24.30" fill="#fff"/><rect x="587.09" y="194.25" width="5.20" height="22.20" fill="#9A9896"/><rect x="587.09" y="205.20" width="5.20" height="1.8" fill="#fff"/><rect x="592.80" y="132.50" width="1.4" height="1.4" fill="#8c8c8c"/><rect x="592.00" y="151.10" width="1.4" height="1.4" fill="#8c8c8c"/><rect x="591.60" y="152.30" width="1.4" height="1.4" fill="#8c8c8c"/><rect x="589.80" y="154.50" width="1.4" height="1.4" fill="#8c8c8c"/><text transform="translate(39.70,233.10) rotate(35)" font-size="6.7" style="stroke:#222;stroke-width:0.2">Stomach</text><text transform="translate(63.53,233.10) rotate(35)" font-size="6.7" style="stroke:#222;stroke-width:0.2">Kidney - Medulla</text><text transform="translate(87.36,233.10) rotate(35)" font-size="6.7" style="stroke:#222;stroke-width:0.2">Brain - CerebellarHemisphere</text><text transform="translate(111.19,233.10) rotate(35)" font-size="6.7" style="stroke:#222;stroke-width:0.2">Kidney - Cortex</text><text transform="translate(135.02,233.10) rotate(35)" font-size="6.7" style="stroke:#222;stroke-width:0.2">Brain - Cerebellum</text><text transform="translate(158.85,233.10) rotate(35)" font-size="6.7" style="stroke:#222;stroke-width:0.2">Heart - Atrial Appendage</text><text transform="translate(182.68,233.10) rotate(35)" font-size="6.7" style="stroke:#222;stroke-width:0.2">Heart - Left Ventricle</text><text transform="translate(206.51,233.10) rotate(35)" font-size="6.7" style="stroke:#222;stroke-width:0.2">Brain - Frontal Cortex (BA9)</text><text transform="translate(230.34,233.10) rotate(35)" font-size="6.7" style="stroke:#222;stroke-width:0.2">Adrenal Gland</text><text transform="translate(254.17,233.10) rotate(35)" font-size="6.7" style="stroke:#222;stroke-width:0.2">Thyroid</text><text transform="translate(278.00,233.10) rotate(35)" font-size="6.7" style="stroke:#222;stroke-width:0.2">Pituitary</text><text transform="translate(301.83,233.10) rotate(35)" font-size="6.7" style="stroke:#222;stroke-width:0.2">Brain - Anterior cingulate cortex (BA24)</text><text transform="translate(325.66,233.10) rotate(35)" font-size="6.7" style="stroke:#222;stroke-width:0.2">Muscle - Skeletal</text><text transform="translate(349.49,233.10) rotate(35)" font-size="6.7" style="stroke:#222;stroke-width:0.2">Brain - Cortex</text><text transform="translate(373.32,233.10) rotate(35)" font-size="6.7" style="stroke:#222;stroke-width:0.2">Brain - Nucleus accumbens(basal ganglia)</text><text transform="translate(397.15,233.10) rotate(35)" font-size="6.7" style="stroke:#222;stroke-width:0.2">Pancreas</text><text transform="translate(420.98,233.10) rotate(35)" font-size="6.7" style="stroke:#222;stroke-width:0.2">Brain - Substantia nigra</text><text transform="translate(444.81,233.10) rotate(35)" font-size="6.7" style="stroke:#222;stroke-width:0.2">Brain - Caudate(basal ganglia)</text><text transform="translate(468.64,233.10) rotate(35)" font-size="6.7" style="stroke:#222;stroke-width:0.2">Brain - Hypothalamus</text><text transform="translate(492.47,233.10) rotate(35)" font-size="6.7" style="stroke:#222;stroke-width:0.2">Brain - Amygdala</text><text transform="translate(516.30,233.10) rotate(35)" font-size="6.7" style="stroke:#222;stroke-width:0.2">Brain - Spinal cord (cervical c-1)</text><text transform="translate(540.13,233.10) rotate(35)" font-size="6.7" style="stroke:#222;stroke-width:0.2">Brain - Putamen (basal ganglia)</text><text transform="translate(563.96,233.10) rotate(35)" font-size="6.7" style="stroke:#222;stroke-width:0.2">Brain - Hippocampus</text><text transform="translate(587.79,233.10) rotate(35)" font-size="6.7" style="stroke:#222;stroke-width:0.2">Esophagus- Gastroesophageal Junction</text><path d="M26.0,20.05 H29.4 V222.8 H26.0" fill="none" stroke="#000" stroke-width="1.3"/><line x1="26.0" y1="48.19999999999999" x2="29.4" y2="48.19999999999999" stroke="#000" stroke-width="1.3"/><text x="15.9" y="50.69999999999999" font-size="7" textLength="8.6" lengthAdjust="spacingAndGlyphs" style="stroke:#222;stroke-width:0.25">1.5</text><line x1="26.0" y1="106.4" x2="29.4" y2="106.4" stroke="#000" stroke-width="1.3"/><text x="15.9" y="108.9" font-size="7" textLength="8.6" lengthAdjust="spacingAndGlyphs" style="stroke:#222;stroke-width:0.25">1.0</text><line x1="26.0" y1="164.60000000000002" x2="29.4" y2="164.60000000000002" stroke="#000" stroke-width="1.3"/><text x="15.9" y="167.10000000000002" font-size="7" textLength="8.6" lengthAdjust="spacingAndGlyphs" style="stroke:#222;stroke-width:0.25">0.5</text><line x1="26.0" y1="222.8" x2="29.4" y2="222.8" stroke="#000" stroke-width="1.3"/><text x="15.9" y="225.3" font-size="7" textLength="8.6" lengthAdjust="spacingAndGlyphs" style="stroke:#222;stroke-width:0.25">0.0</text><line x1="32.2" y1="224.6" x2="599.5" y2="224.6" stroke="#000" stroke-width="1.3"/><line x1="32.20" y1="224.6" x2="32.20" y2="227.9" stroke="#000" stroke-width="1.3"/><line x1="599.50" y1="224.6" x2="599.50" y2="227.9" stroke="#000" stroke-width="1.3"/><line x1="41.60" y1="224.6" x2="41.60" y2="227.9" stroke="#000" stroke-width="1.3"/><line x1="65.43" y1="224.6" x2="65.43" y2="227.9" stroke="#000" stroke-width="1.3"/><line x1="89.26" y1="224.6" x2="89.26" y2="227.9" stroke="#000" stroke-width="1.3"/><line x1="113.09" y1="224.6" x2="113.09" y2="227.9" stroke="#000" stroke-width="1.3"/><line x1="136.92" y1="224.6" x2="136.92" y2="227.9" stroke="#000" stroke-width="1.3"/><line x1="160.75" y1="224.6" x2="160.75" y2="227.9" stroke="#000" stroke-width="1.3"/><line x1="184.58" y1="224.6" x2="184.58" y2="227.9" stroke="#000" stroke-width="1.3"/><line x1="208.41" y1="224.6" x2="208.41" y2="227.9" stroke="#000" stroke-width="1.3"/><line x1="232.24" y1="224.6" x2="232.24" y2="227.9" stroke="#000" stroke-width="1.3"/><line x1="256.07" y1="224.6" x2="256.07" y2="227.9" stroke="#000" stroke-width="1.3"/><line x1="279.90" y1="224.6" x2="279.90" y2="227.9" stroke="#000" stroke-width="1.3"/><line x1="303.73" y1="224.6" x2="303.73" y2="227.9" stroke="#000" stroke-width="1.3"/><line x1="327.56" y1="224.6" x2="327.56" y2="227.9" stroke="#000" stroke-width="1.3"/><line x1="351.39" y1="224.6" x2="351.39" y2="227.9" stroke="#000" stroke-width="1.3"/><line x1="375.22" y1="224.6" x2="375.22" y2="227.9" stroke="#000" stroke-width="1.3"/><line x1="399.05" y1="224.6" x2="399.05" y2="227.9" stroke="#000" stroke-width="1.3"/><line x1="422.88" y1="224.6" x2="422.88" y2="227.9" stroke="#000" stroke-width="1.3"/><line x1="446.71" y1="224.6" x2="446.71" y2="227.9" stroke="#000" stroke-width="1.3"/><line x1="470.54" y1="224.6" x2="470.54" y2="227.9" stroke="#000" stroke-width="1.3"/><line x1="494.37" y1="224.6" x2="494.37" y2="227.9" stroke="#000" stroke-width="1.3"/><line x1="518.20" y1="224.6" x2="518.20" y2="227.9" stroke="#000" stroke-width="1.3"/><line x1="542.03" y1="224.6" x2="542.03" y2="227.9" stroke="#000" stroke-width="1.3"/><line x1="565.86" y1="224.6" x2="565.86" y2="227.9" stroke="#000" stroke-width="1.3"/><line x1="589.69" y1="224.6" x2="589.69" y2="227.9" stroke="#000" stroke-width="1.3"/><path d="M45.5,347.6 45.5,348.6 45.5,349.6 45.5,350.6 45.6,351.6 45.6,352.6 45.6,353.6 45.6,354.6 45.6,355.7 45.7,356.7 45.7,357.7 45.7,358.7 45.7,359.7 45.8,360.7 45.8,361.7 45.8,362.7 45.8,363.7 45.9,364.7 45.9,365.7 45.9,366.7 46.0,367.7 46.0,368.7 46.0,369.7 46.1,370.8 46.1,371.8 46.2,372.8 46.2,373.8 46.3,374.8 46.5,375.8 46.6,376.8 46.8,377.8 46.9,378.8 47.1,379.8 47.3,380.8 47.5,381.8 47.6,382.8 47.8,383.8 48.0,384.8 48.2,385.8 48.4,386.9 48.7,387.9 48.9,388.9 49.1,389.9 49.4,390.9 49.7,391.9 50.0,392.9 50.3,393.9 50.6,394.9 50.9,395.9 51.1,396.9 51.4,397.9 51.6,398.9 51.8,399.9 52.1,400.9 52.3,402.0 52.5,403.0 52.8,404.0 53.0,405.0 53.2,406.0 53.5,407.0 53.7,408.0 53.9,409.0 54.1,410.0 54.3,411.0 54.4,412.0 54.5,413.0 54.6,414.0 54.7,415.0 54.7,416.0 54.8,417.1 54.9,418.1 54.9,419.1 54.9,420.1 54.9,421.1 54.8,422.1 54.8,423.1 54.7,424.1 54.6,425.1 54.4,426.1 54.3,427.1 54.1,428.1 53.9,429.1 53.7,430.1 53.5,431.1 53.3,432.2 53.1,433.2 52.9,434.2 52.6,435.2 52.2,436.2 51.7,437.2 51.3,438.2 50.9,439.2 50.5,440.2 50.3,441.2 50.0,442.2 49.8,443.2 49.6,444.2 49.4,445.2 49.2,446.2 48.9,447.3 48.7,448.3 48.5,449.3 48.3,450.3 48.0,451.3 47.8,452.3 47.6,453.3 47.4,454.3 47.3,455.3 47.2,456.3 47.0,457.3 46.9,458.3 46.8,459.3 46.7,460.3 46.6,461.3 46.5,462.3 46.5,463.4 46.4,464.4 46.3,465.4 46.2,466.4 46.2,467.4 46.1,468.4 46.0,469.4 46.0,470.4 46.0,471.4 45.9,472.4 45.9,473.4 45.8,474.4 45.8,475.4 45.8,476.4 45.7,477.4 45.7,478.5 45.7,479.5 45.7,480.5 45.6,481.5 45.6,482.5 45.6,483.5 45.6,484.5 45.6,485.5 44.4,485.5 44.4,484.5 44.4,483.5 44.4,482.5 44.4,481.5 44.3,480.5 44.3,479.5 44.3,478.5 44.3,477.4 44.2,476.4 44.2,475.4 44.2,474.4 44.1,473.4 44.1,472.4 44.0,471.4 44.0,470.4 44.0,469.4 43.9,468.4 43.8,467.4 43.8,466.4 43.7,465.4 43.6,464.4 43.5,463.4 43.5,462.3 43.4,461.3 43.3,460.3 43.2,459.3 43.1,458.3 43.0,457.3 42.8,456.3 42.7,455.3 42.6,454.3 42.4,453.3 42.2,452.3 42.0,451.3 41.7,450.3 41.5,449.3 41.3,448.3 41.1,447.3 40.8,446.2 40.6,445.2 40.4,444.2 40.2,443.2 40.0,442.2 39.7,441.2 39.5,440.2 39.1,439.2 38.7,438.2 38.3,437.2 37.8,436.2 37.4,435.2 37.1,434.2 36.9,433.2 36.7,432.2 36.5,431.1 36.3,430.1 36.1,429.1 35.9,428.1 35.7,427.1 35.6,426.1 35.4,425.1 35.3,424.1 35.2,423.1 35.2,422.1 35.1,421.1 35.1,420.1 35.1,419.1 35.1,418.1 35.2,417.1 35.3,416.0 35.3,415.0 35.4,414.0 35.5,413.0 35.6,412.0 35.7,411.0 35.9,410.0 36.1,409.0 36.3,408.0 36.5,407.0 36.8,406.0 37.0,405.0 37.2,404.0 37.5,403.0 37.7,402.0 37.9,400.9 38.2,399.9 38.4,398.9 38.6,397.9 38.9,396.9 39.1,395.9 39.4,394.9 39.7,393.9 40.0,392.9 40.3,391.9 40.6,390.9 40.9,389.9 41.1,388.9 41.3,387.9 41.6,386.9 41.8,385.8 42.0,384.8 42.2,383.8 42.4,382.8 42.5,381.8 42.7,380.8 42.9,379.8 43.1,378.8 43.2,377.8 43.4,376.8 43.5,375.8 43.7,374.8 43.8,373.8 43.8,372.8 43.9,371.8 43.9,370.8 44.0,369.7 44.0,368.7 44.0,367.7 44.1,366.7 44.1,365.7 44.1,364.7 44.2,363.7 44.2,362.7 44.2,361.7 44.2,360.7 44.3,359.7 44.3,358.7 44.3,357.7 44.3,356.7 44.4,355.7 44.4,354.6 44.4,353.6 44.4,352.6 44.4,351.6 44.5,350.6 44.5,349.6 44.5,348.6 44.5,347.6Z" fill="#D3D3EA"/><rect x="41.35" y="405.20" width="7.30" height="25.50" fill="#fff"/><rect x="42.40" y="406.25" width="5.20" height="23.40" fill="#9A9896"/><rect x="42.40" y="416.80" width="5.20" height="1.8" fill="#fff"/><rect x="44.70" y="347.60" width="1.4" height="1.4" fill="#8c8c8c"/><rect x="46.70" y="351.70" width="1.4" height="1.4" fill="#8c8c8c"/><rect x="45.20" y="355.20" width="1.4" height="1.4" fill="#8c8c8c"/><rect x="45.70" y="356.30" width="1.4" height="1.4" fill="#8c8c8c"/><path d="M70.5,387.8 71.0,388.8 71.3,389.8 71.5,390.8 71.8,391.8 72.0,392.8 72.1,393.8 72.3,394.8 72.5,395.8 72.8,396.8 73.0,397.8 73.3,398.8 73.5,399.8 73.8,400.8 74.0,401.8 74.3,402.8 74.5,403.8 74.8,404.8 75.1,405.8 75.4,406.9 75.7,407.9 75.9,408.9 76.2,409.9 76.4,410.9 76.6,411.9 76.8,412.9 76.9,413.9 77.1,414.9 77.2,415.9 77.4,416.9 77.5,417.9 77.6,418.9 77.7,419.9 77.9,420.9 78.0,421.9 78.1,422.9 78.2,423.9 78.3,424.9 78.4,425.9 78.5,426.9 78.6,427.9 78.6,428.9 78.6,429.9 78.6,430.9 78.5,431.9 78.5,432.9 78.4,433.9 78.3,434.9 78.2,435.9 78.1,436.9 78.0,437.9 77.9,438.9 77.8,439.9 77.7,440.9 77.5,441.9 77.3,443.0 77.1,444.0 76.9,445.0 76.7,446.0 76.5,447.0 76.2,448.0 76.0,449.0 75.7,450.0 75.4,451.0 75.1,452.0 74.9,453.0 74.6,454.0 74.4,455.0 74.1,456.0 73.9,457.0 73.7,458.0 73.5,459.0 73.3,460.0 73.1,461.0 72.9,462.0 72.8,463.0 72.6,464.0 72.5,465.0 72.4,466.0 72.3,467.0 72.2,468.0 72.1,469.0 72.0,470.0 72.0,471.0 72.0,472.0 71.9,473.0 71.9,474.0 71.9,475.0 71.8,476.0 71.8,477.0 71.8,478.0 71.8,479.1 71.7,480.1 71.7,481.1 71.7,482.1 71.7,483.1 71.6,484.1 71.6,485.1 71.6,486.1 71.6,487.1 71.5,488.1 71.5,489.1 71.5,490.1 71.5,491.1 71.4,492.1 71.4,493.1 71.4,494.1 71.4,495.1 71.4,496.1 71.3,497.1 71.3,498.1 71.3,499.1 71.3,500.1 71.2,501.1 71.2,502.1 71.2,503.1 71.2,504.1 71.2,505.1 71.1,506.1 71.1,507.1 71.1,508.1 71.1,509.1 71.1,510.1 71.0,511.1 71.0,512.1 71.0,513.1 71.0,514.1 71.0,515.1 71.0,516.2 70.9,517.2 70.9,518.2 70.9,519.2 70.9,520.2 70.9,521.2 70.9,522.2 70.9,523.2 70.9,524.2 70.8,525.2 70.8,526.2 70.8,527.2 70.8,528.2 70.8,529.2 70.8,530.2 70.8,531.2 70.8,532.2 70.8,533.2 70.7,534.2 70.7,535.2 70.7,536.2 70.7,537.2 70.7,538.2 70.7,539.2 70.7,540.2 70.7,541.2 70.7,542.2 70.7,543.2 70.6,544.2 70.6,545.2 70.6,546.2 70.6,547.2 70.6,548.2 70.6,549.2 70.6,550.2 70.6,551.2 70.6,552.3 70.6,553.3 70.6,554.3 70.6,555.3 70.5,556.3 70.5,557.3 70.5,558.3 70.5,559.3 70.5,560.3 70.5,561.3 70.5,562.3 70.5,563.3 70.5,564.3 70.5,565.3 70.4,566.3 70.4,567.3 70.4,568.3 70.4,569.3 70.4,570.3 70.4,571.3 70.4,572.3 70.4,573.3 70.4,574.3 70.3,575.3 70.3,576.3 70.3,577.3 70.3,578.3 70.3,579.3 70.3,580.3 70.3,581.3 70.3,582.3 70.2,583.3 70.2,584.3 70.2,585.3 70.2,586.3 70.2,587.3 70.2,588.4 70.2,589.4 70.2,590.4 70.1,591.4 70.1,592.4 70.1,593.4 70.1,594.4 70.1,595.4 70.1,596.4 70.1,597.4 70.1,598.4 70.0,599.4 70.0,600.4 70.0,601.4 70.0,602.4 70.0,603.4 70.0,604.4 69.9,605.4 69.9,606.4 69.9,607.4 69.9,608.4 69.9,609.4 69.9,610.4 69.8,611.4 69.8,612.4 69.8,613.4 69.8,614.4 69.8,615.4 69.8,616.4 69.7,617.4 69.7,618.4 69.7,619.4 69.7,620.4 69.7,621.4 69.6,622.4 69.6,623.4 69.6,624.5 69.6,625.5 69.5,626.5 69.5,627.5 69.5,628.5 69.4,629.5 69.4,630.5 69.4,631.5 69.3,632.5 69.3,633.5 69.3,634.5 69.2,635.5 69.2,636.5 69.2,637.5 69.1,638.5 69.1,639.5 69.1,640.5 69.0,641.5 69.0,642.5 68.4,642.5 68.4,641.5 68.3,640.5 68.3,639.5 68.3,638.5 68.2,637.5 68.2,636.5 68.2,635.5 68.1,634.5 68.1,633.5 68.1,632.5 68.0,631.5 68.0,630.5 68.0,629.5 67.9,628.5 67.9,627.5 67.9,626.5 67.9,625.5 67.8,624.5 67.8,623.4 67.8,622.4 67.8,621.4 67.7,620.4 67.7,619.4 67.7,618.4 67.7,617.4 67.7,616.4 67.6,615.4 67.6,614.4 67.6,613.4 67.6,612.4 67.6,611.4 67.6,610.4 67.5,609.4 67.5,608.4 67.5,607.4 67.5,606.4 67.5,605.4 67.5,604.4 67.4,603.4 67.4,602.4 67.4,601.4 67.4,600.4 67.4,599.4 67.4,598.4 67.4,597.4 67.3,596.4 67.3,595.4 67.3,594.4 67.3,593.4 67.3,592.4 67.3,591.4 67.3,590.4 67.2,589.4 67.2,588.4 67.2,587.3 67.2,586.3 67.2,585.3 67.2,584.3 67.2,583.3 67.2,582.3 67.2,581.3 67.1,580.3 67.1,579.3 67.1,578.3 67.1,577.3 67.1,576.3 67.1,575.3 67.1,574.3 67.1,573.3 67.0,572.3 67.0,571.3 67.0,570.3 67.0,569.3 67.0,568.3 67.0,567.3 67.0,566.3 67.0,565.3 67.0,564.3 66.9,563.3 66.9,562.3 66.9,561.3 66.9,560.3 66.9,559.3 66.9,558.3 66.9,557.3 66.9,556.3 66.9,555.3 66.9,554.3 66.8,553.3 66.8,552.3 66.8,551.2 66.8,550.2 66.8,549.2 66.8,548.2 66.8,547.2 66.8,546.2 66.8,545.2 66.8,544.2 66.8,543.2 66.8,542.2 66.7,541.2 66.7,540.2 66.7,539.2 66.7,538.2 66.7,537.2 66.7,536.2 66.7,535.2 66.7,534.2 66.7,533.2 66.7,532.2 66.6,531.2 66.6,530.2 66.6,529.2 66.6,528.2 66.6,527.2 66.6,526.2 66.6,525.2 66.6,524.2 66.6,523.2 66.5,522.2 66.5,521.2 66.5,520.2 66.5,519.2 66.5,518.2 66.5,517.2 66.5,516.2 66.4,515.1 66.4,514.1 66.4,513.1 66.4,512.1 66.4,511.1 66.4,510.1 66.3,509.1 66.3,508.1 66.3,507.1 66.3,506.1 66.3,505.1 66.2,504.1 66.2,503.1 66.2,502.1 66.2,501.1 66.2,500.1 66.1,499.1 66.1,498.1 66.1,497.1 66.1,496.1 66.0,495.1 66.0,494.1 66.0,493.1 66.0,492.1 66.0,491.1 65.9,490.1 65.9,489.1 65.9,488.1 65.9,487.1 65.8,486.1 65.8,485.1 65.8,484.1 65.8,483.1 65.7,482.1 65.7,481.1 65.7,480.1 65.6,479.1 65.6,478.0 65.6,477.0 65.6,476.0 65.5,475.0 65.5,474.0 65.5,473.0 65.5,472.0 65.4,471.0 65.4,470.0 65.3,469.0 65.3,468.0 65.2,467.0 65.0,466.0 64.9,465.0 64.8,464.0 64.6,463.0 64.5,462.0 64.3,461.0 64.1,460.0 63.9,459.0 63.7,458.0 63.5,457.0 63.3,456.0 63.1,455.0 62.8,454.0 62.5,453.0 62.3,452.0 62.0,451.0 61.7,450.0 61.4,449.0 61.2,448.0 61.0,447.0 60.7,446.0 60.5,445.0 60.3,444.0 60.1,443.0 59.9,441.9 59.8,440.9 59.6,439.9 59.5,438.9 59.4,437.9 59.3,436.9 59.2,435.9 59.1,434.9 59.0,433.9 58.9,432.9 58.9,431.9 58.8,430.9 58.8,429.9 58.8,428.9 58.8,427.9 58.9,426.9 59.0,425.9 59.1,424.9 59.2,423.9 59.3,422.9 59.4,421.9 59.6,420.9 59.7,419.9 59.8,418.9 59.9,417.9 60.1,416.9 60.2,415.9 60.3,414.9 60.5,413.9 60.6,412.9 60.8,411.9 61.0,410.9 61.2,409.9 61.5,408.9 61.7,407.9 62.0,406.9 62.3,405.8 62.6,404.8 62.9,403.8 63.1,402.8 63.4,401.8 63.6,400.8 63.9,399.8 64.1,398.8 64.4,397.8 64.6,396.8 64.9,395.8 65.1,394.8 65.3,393.8 65.5,392.8 65.7,391.8 65.9,390.8 66.1,389.8 66.4,388.8 66.9,387.8Z" fill="#D3D3EA"/><rect x="65.06" y="423.40" width="7.30" height="49.20" fill="#fff"/><rect x="66.11" y="424.45" width="5.20" height="47.10" fill="#9A9896"/><rect x="66.11" y="439.20" width="5.20" height="1.8" fill="#fff"/><path d="M94.4,416.6 94.8,417.6 95.0,418.6 95.3,419.6 95.5,420.6 95.7,421.6 96.1,422.6 96.4,423.7 96.8,424.7 97.2,425.7 97.6,426.7 98.0,427.7 98.4,428.7 98.8,429.7 99.2,430.7 99.6,431.7 100.0,432.7 100.3,433.7 100.6,434.7 100.9,435.8 101.2,436.8 101.5,437.8 101.7,438.8 101.9,439.8 102.0,440.8 102.0,441.8 101.9,442.8 101.7,443.8 101.5,444.8 101.2,445.8 100.8,446.8 100.5,447.8 100.2,448.9 99.8,449.9 99.4,450.9 99.0,451.9 98.6,452.9 98.2,453.9 97.8,454.9 97.5,455.9 97.1,456.9 96.7,457.9 96.4,458.9 96.1,459.9 95.8,461.0 95.6,462.0 95.4,463.0 95.3,464.0 95.3,465.0 95.2,466.0 94.7,467.0 90.1,467.0 89.7,466.0 89.6,465.0 89.5,464.0 89.4,463.0 89.3,462.0 89.1,461.0 88.8,459.9 88.5,458.9 88.1,457.9 87.7,456.9 87.4,455.9 87.0,454.9 86.6,453.9 86.2,452.9 85.8,451.9 85.4,450.9 85.0,449.9 84.6,448.9 84.3,447.8 84.0,446.8 83.7,445.8 83.4,444.8 83.1,443.8 82.9,442.8 82.8,441.8 82.8,440.8 83.0,439.8 83.1,438.8 83.4,437.8 83.6,436.8 83.9,435.8 84.2,434.7 84.5,433.7 84.8,432.7 85.2,431.7 85.6,430.7 86.0,429.7 86.4,428.7 86.8,427.7 87.2,426.7 87.6,425.7 88.0,424.7 88.4,423.7 88.8,422.6 89.1,421.6 89.3,420.6 89.6,419.6 89.8,418.6 90.1,417.6 90.4,416.6Z" fill="#D3D3EA"/><rect x="88.77" y="435.30" width="7.30" height="14.10" fill="#fff"/><rect x="89.82" y="436.35" width="5.20" height="12.00" fill="#9A9896"/><rect x="89.82" y="441.50" width="5.20" height="1.8" fill="#fff"/><path d="M117.2,391.9 117.6,392.9 118.0,393.9 118.4,394.9 118.8,395.9 119.2,396.9 119.6,397.9 120.1,398.9 120.6,399.9 121.1,400.9 121.5,401.9 121.9,402.9 122.3,403.9 122.7,404.9 123.0,405.9 123.3,406.9 123.6,407.9 123.9,409.0 124.2,410.0 124.4,411.0 124.5,412.0 124.7,413.0 124.9,414.0 125.0,415.0 125.2,416.0 125.3,417.0 125.4,418.0 125.5,419.0 125.6,420.0 125.6,421.0 125.6,422.0 125.6,423.0 125.6,424.0 125.5,425.0 125.4,426.0 125.3,427.0 125.1,428.0 125.0,429.0 124.8,430.0 124.7,431.0 124.5,432.0 124.3,433.0 124.1,434.0 123.9,435.0 123.6,436.0 123.3,437.0 123.0,438.0 122.7,439.0 122.5,440.0 122.4,441.0 122.3,442.0 122.1,443.1 122.0,444.1 121.9,445.1 121.9,446.1 121.8,447.1 121.8,448.1 121.9,449.1 121.9,450.1 122.0,451.1 122.1,452.1 122.2,453.1 122.3,454.1 122.3,455.1 122.4,456.1 122.5,457.1 122.6,458.1 122.6,459.1 122.7,460.1 122.8,461.1 122.9,462.1 123.0,463.1 123.0,464.1 123.1,465.1 123.2,466.1 123.3,467.1 123.3,468.1 123.4,469.1 123.5,470.1 123.6,471.1 123.6,472.1 123.7,473.1 123.7,474.1 123.8,475.1 123.8,476.1 123.8,477.2 123.8,478.2 123.8,479.2 123.8,480.2 123.8,481.2 123.7,482.2 123.7,483.2 123.6,484.2 123.6,485.2 123.5,486.2 123.3,487.2 123.1,488.2 122.9,489.2 122.7,490.2 122.5,491.2 122.2,492.2 122.0,493.2 121.8,494.2 121.6,495.2 121.4,496.2 121.2,497.2 121.0,498.2 120.8,499.2 120.6,500.2 120.4,501.2 120.2,502.2 120.0,503.2 119.7,504.2 119.5,505.2 119.2,506.2 119.0,507.2 118.8,508.2 118.7,509.2 118.5,510.2 118.4,511.3 118.2,512.3 118.1,513.3 117.9,514.3 117.8,515.3 117.7,516.3 117.5,517.3 117.4,518.3 117.3,519.3 117.2,520.3 117.0,521.3 116.9,522.3 116.8,523.3 116.7,524.3 116.6,525.3 116.4,526.3 116.3,527.3 115.9,527.3 115.8,526.3 115.7,525.3 115.6,524.3 115.5,523.3 115.3,522.3 115.2,521.3 115.1,520.3 115.0,519.3 114.8,518.3 114.7,517.3 114.6,516.3 114.4,515.3 114.3,514.3 114.2,513.3 114.0,512.3 113.9,511.3 113.7,510.2 113.6,509.2 113.4,508.2 113.2,507.2 113.0,506.2 112.8,505.2 112.5,504.2 112.3,503.2 112.1,502.2 111.8,501.2 111.6,500.2 111.4,499.2 111.2,498.2 111.0,497.2 110.8,496.2 110.6,495.2 110.4,494.2 110.2,493.2 110.0,492.2 109.8,491.2 109.6,490.2 109.3,489.2 109.1,488.2 108.9,487.2 108.8,486.2 108.7,485.2 108.6,484.2 108.6,483.2 108.5,482.2 108.5,481.2 108.5,480.2 108.4,479.2 108.4,478.2 108.4,477.2 108.5,476.1 108.5,475.1 108.5,474.1 108.6,473.1 108.6,472.1 108.7,471.1 108.8,470.1 108.8,469.1 108.9,468.1 109.0,467.1 109.1,466.1 109.2,465.1 109.2,464.1 109.3,463.1 109.4,462.1 109.5,461.1 109.5,460.1 109.6,459.1 109.7,458.1 109.8,457.1 109.8,456.1 109.9,455.1 110.0,454.1 110.1,453.1 110.2,452.1 110.3,451.1 110.3,450.1 110.4,449.1 110.4,448.1 110.4,447.1 110.4,446.1 110.3,445.1 110.2,444.1 110.1,443.1 110.0,442.0 109.9,441.0 109.7,440.0 109.5,439.0 109.3,438.0 109.0,437.0 108.6,436.0 108.4,435.0 108.1,434.0 108.0,433.0 107.8,432.0 107.6,431.0 107.4,430.0 107.3,429.0 107.1,428.0 107.0,427.0 106.9,426.0 106.8,425.0 106.7,424.0 106.6,423.0 106.6,422.0 106.6,421.0 106.7,420.0 106.8,419.0 106.8,418.0 107.0,417.0 107.1,416.0 107.2,415.0 107.4,414.0 107.6,413.0 107.7,412.0 107.9,411.0 108.1,410.0 108.3,409.0 108.6,407.9 108.9,406.9 109.3,405.9 109.6,404.9 109.9,403.9 110.3,402.9 110.7,401.9 111.2,400.9 111.7,399.9 112.1,398.9 112.6,397.9 113.1,396.9 113.5,395.9 113.9,394.9 114.3,393.9 114.7,392.9 115.0,391.9Z" fill="#D3D3EA"/><rect x="112.48" y="423.10" width="7.30" height="56.70" fill="#fff"/><rect x="113.53" y="424.15" width="5.20" height="54.60" fill="#9A9896"/><rect x="113.53" y="446.80" width="5.20" height="1.8" fill="#fff"/><path d="M142.3,386.1 142.9,387.1 143.3,388.1 143.5,389.1 143.8,390.1 144.0,391.1 144.2,392.1 144.5,393.1 144.8,394.1 145.1,395.2 145.4,396.2 145.7,397.2 146.0,398.2 146.3,399.2 146.5,400.2 146.8,401.2 147.1,402.2 147.3,403.2 147.6,404.2 147.9,405.2 148.1,406.2 148.4,407.2 148.6,408.2 148.8,409.2 148.9,410.2 149.0,411.2 149.1,412.2 149.2,413.2 149.3,414.3 149.4,415.3 149.4,416.3 149.4,417.3 149.4,418.3 149.4,419.3 149.4,420.3 149.4,421.3 149.4,422.3 149.4,423.3 149.4,424.3 149.4,425.3 149.3,426.3 149.3,427.3 149.3,428.3 149.2,429.3 149.2,430.3 149.2,431.4 149.2,432.4 149.1,433.4 149.1,434.4 149.0,435.4 149.0,436.4 148.9,437.4 148.8,438.4 148.7,439.4 148.7,440.4 148.6,441.4 148.5,442.4 148.5,443.4 148.4,444.4 148.4,445.4 148.5,446.4 148.5,447.4 148.5,448.4 148.6,449.4 148.6,450.5 148.7,451.5 148.7,452.5 148.8,453.5 148.9,454.5 148.9,455.5 149.0,456.5 149.0,457.5 149.1,458.5 149.2,459.5 149.3,460.5 149.3,461.5 149.4,462.5 149.5,463.5 149.6,464.5 149.6,465.5 149.7,466.5 149.8,467.5 149.8,468.6 149.8,469.6 149.8,470.6 149.8,471.6 149.8,472.6 149.8,473.6 149.7,474.6 149.6,475.6 149.5,476.6 149.4,477.6 149.3,478.6 149.2,479.6 149.1,480.6 148.9,481.6 148.8,482.6 148.7,483.6 148.5,484.6 148.4,485.6 148.2,486.7 148.1,487.7 147.9,488.7 147.7,489.7 147.5,490.7 147.3,491.7 147.1,492.7 146.8,493.7 146.6,494.7 146.4,495.7 146.1,496.7 145.9,497.7 145.7,498.7 145.5,499.7 145.2,500.7 145.0,501.7 144.8,502.7 144.6,503.8 144.3,504.8 144.1,505.8 143.9,506.8 143.7,507.8 143.5,508.8 143.4,509.8 143.2,510.8 143.0,511.8 142.2,512.8 137.4,512.8 136.7,511.8 136.5,510.8 136.3,509.8 136.2,508.8 136.0,507.8 135.8,506.8 135.6,505.8 135.3,504.8 135.1,503.8 134.9,502.7 134.7,501.7 134.4,500.7 134.2,499.7 134.0,498.7 133.8,497.7 133.5,496.7 133.3,495.7 133.1,494.7 132.8,493.7 132.6,492.7 132.4,491.7 132.2,490.7 132.0,489.7 131.8,488.7 131.6,487.7 131.5,486.7 131.3,485.6 131.2,484.6 131.0,483.6 130.9,482.6 130.8,481.6 130.6,480.6 130.5,479.6 130.4,478.6 130.2,477.6 130.1,476.6 130.1,475.6 130.0,474.6 129.9,473.6 129.9,472.6 129.8,471.6 129.8,470.6 129.9,469.6 129.9,468.6 129.9,467.5 130.0,466.5 130.0,465.5 130.1,464.5 130.2,463.5 130.3,462.5 130.3,461.5 130.4,460.5 130.5,459.5 130.6,458.5 130.6,457.5 130.7,456.5 130.8,455.5 130.8,454.5 130.9,453.5 130.9,452.5 131.0,451.5 131.1,450.5 131.1,449.4 131.2,448.4 131.2,447.4 131.2,446.4 131.2,445.4 131.2,444.4 131.2,443.4 131.2,442.4 131.1,441.4 131.0,440.4 131.0,439.4 130.9,438.4 130.8,437.4 130.7,436.4 130.6,435.4 130.6,434.4 130.5,433.4 130.5,432.4 130.5,431.4 130.5,430.3 130.4,429.3 130.4,428.3 130.4,427.3 130.4,426.3 130.3,425.3 130.3,424.3 130.3,423.3 130.3,422.3 130.3,421.3 130.3,420.3 130.2,419.3 130.2,418.3 130.2,417.3 130.3,416.3 130.3,415.3 130.4,414.3 130.5,413.2 130.5,412.2 130.6,411.2 130.7,410.2 130.9,409.2 131.1,408.2 131.3,407.2 131.5,406.2 131.8,405.2 132.1,404.2 132.3,403.2 132.6,402.2 132.9,401.2 133.1,400.2 133.4,399.2 133.7,398.2 134.0,397.2 134.3,396.2 134.6,395.2 134.9,394.1 135.2,393.1 135.4,392.1 135.7,391.1 135.9,390.1 136.1,389.1 136.4,388.1 136.8,387.1 137.3,386.1Z" fill="#D3D3EA"/><rect x="136.19" y="419.20" width="7.30" height="60.20" fill="#fff"/><rect x="137.24" y="420.25" width="5.20" height="58.10" fill="#9A9896"/><rect x="137.24" y="445.90" width="5.20" height="1.8" fill="#fff"/><path d="M164.0,407.3 164.0,408.3 164.0,409.3 164.1,410.3 164.2,411.3 164.3,412.3 164.4,413.4 164.5,414.4 164.7,415.4 164.8,416.4 165.0,417.4 165.1,418.4 165.3,419.4 165.5,420.4 165.8,421.4 166.1,422.4 166.3,423.5 166.6,424.5 166.9,425.5 167.3,426.5 167.7,427.5 168.1,428.5 168.5,429.5 168.9,430.5 169.4,431.5 169.8,432.5 170.1,433.5 170.5,434.6 170.9,435.6 171.3,436.6 171.7,437.6 172.0,438.6 172.3,439.6 172.6,440.6 172.9,441.6 173.0,442.6 173.0,443.6 173.0,444.7 172.9,445.7 172.8,446.7 172.7,447.7 172.5,448.7 172.3,449.7 172.0,450.7 171.8,451.7 171.6,452.7 171.3,453.7 171.0,454.8 170.6,455.8 170.1,456.8 169.7,457.8 169.3,458.8 168.9,459.8 168.5,460.8 168.1,461.8 167.7,462.8 167.3,463.8 167.0,464.8 166.6,465.9 166.3,466.9 166.1,467.9 165.9,468.9 165.6,469.9 165.4,470.9 165.2,471.9 165.1,472.9 164.9,473.9 164.8,474.9 164.7,476.0 164.6,477.0 164.5,478.0 164.5,479.0 164.5,480.0 164.4,481.0 164.4,482.0 164.4,483.0 164.4,484.0 164.4,485.0 164.3,486.0 164.3,487.1 164.3,488.1 164.3,489.1 164.2,490.1 164.2,491.1 164.2,492.1 164.2,493.1 164.2,494.1 164.2,495.1 164.1,496.1 164.1,497.2 164.1,498.2 164.1,499.2 164.1,500.2 164.1,501.2 164.1,502.2 163.1,502.2 163.0,501.2 163.0,500.2 163.0,499.2 163.0,498.2 163.0,497.2 163.0,496.1 162.9,495.1 162.9,494.1 162.9,493.1 162.9,492.1 162.9,491.1 162.9,490.1 162.8,489.1 162.8,488.1 162.8,487.1 162.8,486.0 162.7,485.0 162.7,484.0 162.7,483.0 162.7,482.0 162.7,481.0 162.6,480.0 162.6,479.0 162.6,478.0 162.5,477.0 162.4,476.0 162.3,474.9 162.2,473.9 162.0,472.9 161.9,471.9 161.7,470.9 161.5,469.9 161.2,468.9 161.0,467.9 160.8,466.9 160.5,465.9 160.1,464.8 159.8,463.8 159.4,462.8 159.0,461.8 158.6,460.8 158.2,459.8 157.8,458.8 157.4,457.8 157.0,456.8 156.5,455.8 156.1,454.8 155.8,453.7 155.5,452.7 155.3,451.7 155.1,450.7 154.8,449.7 154.6,448.7 154.4,447.7 154.3,446.7 154.2,445.7 154.1,444.7 154.1,443.6 154.1,442.6 154.2,441.6 154.5,440.6 154.8,439.6 155.1,438.6 155.4,437.6 155.8,436.6 156.2,435.6 156.6,434.6 157.0,433.5 157.3,432.5 157.7,431.5 158.2,430.5 158.6,429.5 159.0,428.5 159.4,427.5 159.8,426.5 160.2,425.5 160.5,424.5 160.8,423.5 161.0,422.4 161.3,421.4 161.6,420.4 161.8,419.4 162.0,418.4 162.1,417.4 162.3,416.4 162.4,415.4 162.6,414.4 162.7,413.4 162.8,412.3 162.9,411.3 163.0,410.3 163.1,409.3 163.1,408.3 163.2,407.3Z" fill="#D3D3EA"/><rect x="159.90" y="439.60" width="7.30" height="16.30" fill="#fff"/><rect x="160.95" y="440.65" width="5.20" height="14.20" fill="#9A9896"/><rect x="160.95" y="447.10" width="5.20" height="1.8" fill="#fff"/><rect x="163.20" y="403.30" width="1.4" height="1.4" fill="#8c8c8c"/><rect x="164.40" y="406.60" width="1.4" height="1.4" fill="#8c8c8c"/><rect x="163.80" y="404.80" width="1.4" height="1.4" fill="#8c8c8c"/><path d="M187.6,390.6 187.6,391.6 187.6,392.6 187.6,393.6 187.7,394.6 187.7,395.6 187.8,396.6 187.9,397.6 188.0,398.6 188.0,399.6 188.1,400.6 188.2,401.6 188.3,402.6 188.5,403.6 188.6,404.6 188.8,405.6 189.0,406.6 189.2,407.6 189.5,408.6 189.7,409.6 189.9,410.6 190.2,411.6 190.4,412.6 190.7,413.6 191.0,414.6 191.3,415.6 191.5,416.7 191.8,417.7 192.1,418.7 192.3,419.7 192.6,420.7 192.8,421.7 193.1,422.7 193.3,423.7 193.6,424.7 193.8,425.7 194.0,426.7 194.3,427.7 194.5,428.7 194.8,429.7 195.0,430.7 195.2,431.7 195.4,432.7 195.6,433.7 195.8,434.7 195.9,435.7 196.1,436.7 196.3,437.7 196.5,438.7 196.6,439.7 196.8,440.7 196.9,441.7 196.9,442.7 197.0,443.7 196.9,444.7 196.9,445.7 196.8,446.7 196.7,447.7 196.6,448.7 196.5,449.7 196.3,450.7 196.2,451.7 196.0,452.7 195.8,453.7 195.7,454.7 195.5,455.7 195.3,456.7 195.1,457.7 194.8,458.7 194.6,459.7 194.3,460.7 194.0,461.7 193.7,462.7 193.4,463.7 193.1,464.7 192.9,465.7 192.6,466.7 192.4,467.7 192.1,468.8 191.9,469.8 191.6,470.8 191.4,471.8 191.1,472.8 190.9,473.8 190.7,474.8 190.5,475.8 190.3,476.8 190.1,477.8 189.9,478.8 189.7,479.8 189.5,480.8 189.4,481.8 189.3,482.8 189.2,483.8 189.2,484.8 189.1,485.8 189.0,486.8 189.0,487.8 188.9,488.8 188.9,489.8 188.9,490.8 188.8,491.8 188.8,492.8 188.7,493.8 188.7,494.8 188.7,495.8 188.7,496.8 188.6,497.8 188.6,498.8 188.6,499.8 188.5,500.8 188.5,501.8 188.5,502.8 188.5,503.8 188.4,504.8 188.4,505.8 188.4,506.8 188.4,507.8 188.4,508.8 188.3,509.8 188.3,510.8 188.3,511.8 188.3,512.8 188.3,513.8 188.3,514.8 188.3,515.8 188.2,516.8 188.2,517.8 188.2,518.8 188.2,519.8 188.2,520.9 188.2,521.9 188.2,522.9 188.2,523.9 188.2,524.9 188.2,525.9 188.2,526.9 188.2,527.9 188.2,528.9 188.2,529.9 188.2,530.9 188.2,531.9 188.2,532.9 188.2,533.9 188.2,534.9 188.1,535.9 188.1,536.9 188.1,537.9 188.1,538.9 188.1,539.9 188.1,540.9 188.1,541.9 188.1,542.9 188.1,543.9 188.1,544.9 188.1,545.9 188.1,546.9 188.1,547.9 188.1,548.9 188.1,549.9 188.1,550.9 188.1,551.9 188.1,552.9 188.1,553.9 188.1,554.9 188.1,555.9 188.1,556.9 188.1,557.9 188.1,558.9 188.1,559.9 188.1,560.9 188.1,561.9 188.1,562.9 188.1,563.9 188.1,564.9 188.1,565.9 188.1,566.9 188.1,567.9 188.1,568.9 188.1,569.9 188.1,570.9 188.1,571.9 188.1,573.0 188.1,574.0 188.1,575.0 188.0,576.0 188.0,577.0 188.0,578.0 188.0,579.0 188.0,580.0 188.0,581.0 188.0,582.0 188.0,583.0 188.0,584.0 188.0,585.0 188.0,586.0 188.0,587.0 188.0,588.0 188.0,589.0 188.0,590.0 188.0,591.0 188.0,592.0 188.0,593.0 188.0,594.0 188.0,595.0 187.9,596.0 187.8,597.0 187.8,598.0 187.7,599.0 186.9,599.0 186.8,598.0 186.7,597.0 186.6,596.0 186.6,595.0 186.6,594.0 186.5,593.0 186.5,592.0 186.5,591.0 186.5,590.0 186.5,589.0 186.5,588.0 186.5,587.0 186.5,586.0 186.5,585.0 186.5,584.0 186.5,583.0 186.5,582.0 186.5,581.0 186.5,580.0 186.5,579.0 186.5,578.0 186.5,577.0 186.5,576.0 186.5,575.0 186.5,574.0 186.5,573.0 186.5,571.9 186.5,570.9 186.5,569.9 186.5,568.9 186.5,567.9 186.5,566.9 186.5,565.9 186.5,564.9 186.5,563.9 186.4,562.9 186.4,561.9 186.4,560.9 186.4,559.9 186.4,558.9 186.4,557.9 186.4,556.9 186.4,555.9 186.4,554.9 186.4,553.9 186.4,552.9 186.4,551.9 186.4,550.9 186.4,549.9 186.4,548.9 186.4,547.9 186.4,546.9 186.4,545.9 186.4,544.9 186.4,543.9 186.4,542.9 186.4,541.9 186.4,540.9 186.4,539.9 186.4,538.9 186.4,537.9 186.4,536.9 186.4,535.9 186.4,534.9 186.4,533.9 186.4,532.9 186.4,531.9 186.4,530.9 186.3,529.9 186.3,528.9 186.3,527.9 186.3,526.9 186.3,525.9 186.3,524.9 186.3,523.9 186.3,522.9 186.3,521.9 186.3,520.9 186.3,519.8 186.3,518.8 186.3,517.8 186.3,516.8 186.3,515.8 186.3,514.8 186.2,513.8 186.2,512.8 186.2,511.8 186.2,510.8 186.2,509.8 186.2,508.8 186.1,507.8 186.1,506.8 186.1,505.8 186.1,504.8 186.1,503.8 186.0,502.8 186.0,501.8 186.0,500.8 185.9,499.8 185.9,498.8 185.9,497.8 185.9,496.8 185.8,495.8 185.8,494.8 185.8,493.8 185.7,492.8 185.7,491.8 185.7,490.8 185.6,489.8 185.6,488.8 185.5,487.8 185.5,486.8 185.4,485.8 185.4,484.8 185.3,483.8 185.2,482.8 185.1,481.8 185.0,480.8 184.8,479.8 184.6,478.8 184.4,477.8 184.2,476.8 184.0,475.8 183.8,474.8 183.6,473.8 183.4,472.8 183.1,471.8 182.9,470.8 182.7,469.8 182.4,468.8 182.2,467.7 181.9,466.7 181.6,465.7 181.4,464.7 181.1,463.7 180.8,462.7 180.5,461.7 180.3,460.7 180.0,459.7 179.7,458.7 179.4,457.7 179.2,456.7 179.0,455.7 178.9,454.7 178.7,453.7 178.5,452.7 178.3,451.7 178.2,450.7 178.0,449.7 177.9,448.7 177.8,447.7 177.7,446.7 177.6,445.7 177.6,444.7 177.6,443.7 177.6,442.7 177.6,441.7 177.7,440.7 177.9,439.7 178.0,438.7 178.2,437.7 178.4,436.7 178.6,435.7 178.8,434.7 179.0,433.7 179.1,432.7 179.3,431.7 179.5,430.7 179.8,429.7 180.0,428.7 180.2,427.7 180.5,426.7 180.7,425.7 181.0,424.7 181.2,423.7 181.4,422.7 181.7,421.7 182.0,420.7 182.2,419.7 182.5,418.7 182.7,417.7 183.0,416.7 183.3,415.6 183.5,414.6 183.8,413.6 184.1,412.6 184.3,411.6 184.6,410.6 184.8,409.6 185.0,408.6 185.3,407.6 185.5,406.6 185.7,405.6 185.9,404.6 186.1,403.6 186.2,402.6 186.3,401.6 186.4,400.6 186.5,399.6 186.6,398.6 186.6,397.6 186.7,396.6 186.8,395.6 186.8,394.6 186.9,393.6 186.9,392.6 187.0,391.6 187.0,390.6Z" fill="#D3D3EA"/><rect x="183.61" y="435.40" width="7.30" height="26.50" fill="#fff"/><rect x="184.66" y="436.45" width="5.20" height="24.40" fill="#9A9896"/><rect x="184.66" y="447.70" width="5.20" height="1.8" fill="#fff"/><rect x="189.80" y="387.20" width="1.4" height="1.4" fill="#8c8c8c"/><path d="M211.2,423.2 211.4,424.2 211.6,425.2 211.8,426.2 212.0,427.2 212.2,428.2 212.5,429.2 212.7,430.2 213.0,431.2 213.2,432.2 213.5,433.3 213.7,434.3 214.0,435.3 214.3,436.3 214.6,437.3 215.0,438.3 215.3,439.3 215.7,440.3 216.2,441.3 216.6,442.3 217.0,443.3 217.4,444.3 217.8,445.3 218.1,446.3 218.5,447.3 218.8,448.3 219.2,449.3 219.5,450.3 219.8,451.3 220.0,452.3 220.2,453.4 220.4,454.4 220.5,455.4 220.7,456.4 220.8,457.4 220.9,458.4 220.9,459.4 220.8,460.4 220.6,461.4 220.4,462.4 220.1,463.4 219.9,464.4 219.6,465.4 219.3,466.4 219.0,467.4 218.6,468.4 218.2,469.4 217.8,470.4 217.3,471.4 216.9,472.4 216.5,473.5 216.1,474.5 215.8,475.5 215.5,476.5 215.2,477.5 214.9,478.5 214.6,479.5 214.3,480.5 214.0,481.5 213.7,482.5 213.4,483.5 213.1,484.5 212.9,485.5 212.6,486.5 212.5,487.5 212.4,488.5 212.3,489.5 212.2,490.5 212.1,491.5 212.1,492.5 212.0,493.6 212.0,494.6 212.0,495.6 212.0,496.6 211.9,497.6 211.9,498.6 211.9,499.6 211.9,500.6 211.9,501.6 211.9,502.6 210.1,502.6 210.1,501.6 210.1,500.6 210.0,499.6 210.0,498.6 210.0,497.6 210.0,496.6 210.0,495.6 209.9,494.6 209.9,493.6 209.9,492.5 209.8,491.5 209.7,490.5 209.7,489.5 209.6,488.5 209.4,487.5 209.3,486.5 209.1,485.5 208.8,484.5 208.5,483.5 208.2,482.5 207.9,481.5 207.6,480.5 207.3,479.5 207.0,478.5 206.8,477.5 206.4,476.5 206.1,475.5 205.8,474.5 205.4,473.5 205.0,472.4 204.6,471.4 204.2,470.4 203.7,469.4 203.3,468.4 203.0,467.4 202.6,466.4 202.4,465.4 202.1,464.4 201.8,463.4 201.5,462.4 201.3,461.4 201.2,460.4 201.1,459.4 201.1,458.4 201.1,457.4 201.3,456.4 201.4,455.4 201.6,454.4 201.8,453.4 202.0,452.3 202.2,451.3 202.5,450.3 202.8,449.3 203.1,448.3 203.5,447.3 203.8,446.3 204.2,445.3 204.5,444.3 204.9,443.3 205.4,442.3 205.8,441.3 206.2,440.3 206.6,439.3 207.0,438.3 207.3,437.3 207.6,436.3 207.9,435.3 208.2,434.3 208.5,433.3 208.7,432.2 209.0,431.2 209.2,430.2 209.5,429.2 209.7,428.2 209.9,427.2 210.2,426.2 210.4,425.2 210.6,424.2 210.8,423.2Z" fill="#D3D3EA"/><rect x="207.32" y="449.00" width="7.30" height="17.50" fill="#fff"/><rect x="208.37" y="450.05" width="5.20" height="15.40" fill="#9A9896"/><rect x="208.37" y="456.80" width="5.20" height="1.8" fill="#fff"/><rect x="211.00" y="422.50" width="1.4" height="1.4" fill="#8c8c8c"/><path d="M235.0,396.8 235.1,397.8 235.2,398.8 235.4,399.8 235.5,400.8 235.6,401.8 235.7,402.8 235.8,403.9 235.9,404.9 236.1,405.9 236.2,406.9 236.2,407.9 236.3,408.9 236.4,409.9 236.5,410.9 236.7,411.9 236.8,412.9 237.0,413.9 237.2,414.9 237.4,415.9 237.7,416.9 238.0,418.0 238.3,419.0 238.5,420.0 238.7,421.0 239.0,422.0 239.2,423.0 239.4,424.0 239.6,425.0 239.8,426.0 240.0,427.0 240.2,428.0 240.4,429.0 240.6,430.0 240.8,431.0 241.0,432.1 241.2,433.1 241.4,434.1 241.6,435.1 241.8,436.1 242.0,437.1 242.1,438.1 242.3,439.1 242.5,440.1 242.6,441.1 242.8,442.1 242.9,443.1 243.0,444.1 243.1,445.1 243.3,446.2 243.4,447.2 243.5,448.2 243.6,449.2 243.7,450.2 243.8,451.2 243.9,452.2 244.0,453.2 244.0,454.2 244.1,455.2 244.1,456.2 244.2,457.2 244.2,458.2 244.2,459.2 244.3,460.3 244.3,461.3 244.3,462.3 244.4,463.3 244.4,464.3 244.4,465.3 244.4,466.3 244.4,467.3 244.3,468.3 244.3,469.3 244.3,470.3 244.2,471.3 244.2,472.3 244.1,473.4 244.1,474.4 244.0,475.4 243.9,476.4 243.8,477.4 243.7,478.4 243.6,479.4 243.5,480.4 243.3,481.4 243.1,482.4 242.9,483.4 242.7,484.4 242.5,485.4 242.2,486.4 242.0,487.5 241.8,488.5 241.5,489.5 241.3,490.5 241.0,491.5 240.8,492.5 240.5,493.5 240.3,494.5 240.0,495.5 239.8,496.5 239.5,497.5 239.3,498.5 239.0,499.5 238.8,500.5 238.6,501.6 238.3,502.6 238.1,503.6 237.9,504.6 237.6,505.6 237.4,506.6 237.2,507.6 237.0,508.6 236.8,509.6 236.6,510.6 236.5,511.6 236.4,512.6 236.4,513.6 236.3,514.6 236.2,515.7 236.1,516.7 236.0,517.7 235.9,518.7 235.7,519.7 235.6,520.7 235.4,521.7 234.0,521.7 233.8,520.7 233.6,519.7 233.5,518.7 233.4,517.7 233.2,516.7 233.2,515.7 233.1,514.6 233.0,513.6 232.9,512.6 232.8,511.6 232.7,510.6 232.6,509.6 232.4,508.6 232.2,507.6 232.0,506.6 231.7,505.6 231.5,504.6 231.3,503.6 231.0,502.6 230.8,501.6 230.6,500.5 230.3,499.5 230.1,498.5 229.8,497.5 229.6,496.5 229.4,495.5 229.1,494.5 228.9,493.5 228.6,492.5 228.3,491.5 228.1,490.5 227.8,489.5 227.6,488.5 227.3,487.5 227.1,486.4 226.9,485.4 226.7,484.4 226.4,483.4 226.2,482.4 226.0,481.4 225.9,480.4 225.7,479.4 225.6,478.4 225.5,477.4 225.5,476.4 225.4,475.4 225.3,474.4 225.2,473.4 225.2,472.3 225.1,471.3 225.1,470.3 225.0,469.3 225.0,468.3 225.0,467.3 225.0,466.3 225.0,465.3 225.0,464.3 225.0,463.3 225.0,462.3 225.1,461.3 225.1,460.3 225.1,459.2 225.2,458.2 225.2,457.2 225.3,456.2 225.3,455.2 225.4,454.2 225.4,453.2 225.5,452.2 225.6,451.2 225.6,450.2 225.7,449.2 225.9,448.2 226.0,447.2 226.1,446.2 226.2,445.1 226.3,444.1 226.5,443.1 226.6,442.1 226.8,441.1 226.9,440.1 227.1,439.1 227.2,438.1 227.4,437.1 227.6,436.1 227.8,435.1 227.9,434.1 228.1,433.1 228.3,432.1 228.5,431.0 228.7,430.0 228.9,429.0 229.2,428.0 229.4,427.0 229.6,426.0 229.8,425.0 230.0,424.0 230.2,423.0 230.4,422.0 230.6,421.0 230.9,420.0 231.1,419.0 231.4,418.0 231.6,416.9 231.9,415.9 232.2,414.9 232.4,413.9 232.6,412.9 232.7,411.9 232.8,410.9 232.9,409.9 233.0,408.9 233.1,407.9 233.2,406.9 233.3,405.9 233.4,404.9 233.5,403.9 233.6,402.8 233.8,401.8 233.9,400.8 234.0,399.8 234.1,398.8 234.3,397.8 234.4,396.8Z" fill="#D3D3EA"/><rect x="231.03" y="447.70" width="7.30" height="33.70" fill="#fff"/><rect x="232.08" y="448.75" width="5.20" height="31.60" fill="#9A9896"/><rect x="232.08" y="464.20" width="5.20" height="1.8" fill="#fff"/><path d="M258.9,415.0 258.9,416.0 258.9,417.0 258.9,418.0 258.9,419.0 259.0,420.0 259.0,421.0 259.0,422.1 259.1,423.1 259.1,424.1 259.2,425.1 259.3,426.1 259.5,427.1 259.8,428.1 260.1,429.1 260.4,430.1 260.7,431.1 261.0,432.1 261.3,433.1 261.6,434.1 261.9,435.2 262.2,436.2 262.6,437.2 262.9,438.2 263.2,439.2 263.5,440.2 263.8,441.2 264.1,442.2 264.5,443.2 264.8,444.2 265.1,445.2 265.3,446.2 265.6,447.2 265.8,448.3 266.0,449.3 266.2,450.3 266.5,451.3 266.7,452.3 266.8,453.3 267.0,454.3 267.2,455.3 267.3,456.3 267.4,457.3 267.5,458.3 267.6,459.3 267.6,460.3 267.7,461.4 267.7,462.4 267.7,463.4 267.8,464.4 267.8,465.4 267.8,466.4 267.7,467.4 267.7,468.4 267.6,469.4 267.4,470.4 267.3,471.4 267.1,472.4 266.9,473.4 266.7,474.5 266.5,475.5 266.3,476.5 266.1,477.5 265.9,478.5 265.7,479.5 265.5,480.5 265.2,481.5 265.0,482.5 264.7,483.5 264.4,484.5 264.2,485.5 263.9,486.5 263.6,487.6 263.3,488.6 263.0,489.6 262.7,490.6 262.4,491.6 262.1,492.6 261.8,493.6 261.5,494.6 261.3,495.6 261.1,496.6 260.8,497.6 260.6,498.6 260.4,499.6 260.2,500.7 260.1,501.7 259.9,502.7 259.8,503.7 259.7,504.7 259.6,505.7 259.5,506.7 259.4,507.7 259.3,508.7 259.2,509.7 259.2,510.7 259.1,511.7 259.1,512.7 259.0,513.8 259.0,514.8 259.0,515.8 258.9,516.8 258.9,517.8 258.9,518.8 258.9,519.8 257.9,519.8 257.9,518.8 257.9,517.8 257.8,516.8 257.8,515.8 257.8,514.8 257.7,513.8 257.7,512.7 257.7,511.7 257.6,510.7 257.6,509.7 257.5,508.7 257.4,507.7 257.3,506.7 257.2,505.7 257.1,504.7 257.0,503.7 256.9,502.7 256.7,501.7 256.6,500.7 256.4,499.6 256.2,498.6 255.9,497.6 255.7,496.6 255.5,495.6 255.2,494.6 255.0,493.6 254.7,492.6 254.4,491.6 254.1,490.6 253.8,489.6 253.5,488.6 253.2,487.6 252.9,486.5 252.6,485.5 252.4,484.5 252.1,483.5 251.8,482.5 251.6,481.5 251.3,480.5 251.1,479.5 250.9,478.5 250.7,477.5 250.5,476.5 250.3,475.5 250.1,474.5 249.9,473.4 249.7,472.4 249.5,471.4 249.4,470.4 249.2,469.4 249.1,468.4 249.0,467.4 249.0,466.4 249.0,465.4 249.0,464.4 249.0,463.4 249.1,462.4 249.1,461.4 249.2,460.3 249.2,459.3 249.3,458.3 249.4,457.3 249.5,456.3 249.6,455.3 249.8,454.3 249.9,453.3 250.1,452.3 250.3,451.3 250.5,450.3 250.7,449.3 251.0,448.3 251.2,447.2 251.4,446.2 251.7,445.2 252.0,444.2 252.3,443.2 252.6,442.2 253.0,441.2 253.3,440.2 253.6,439.2 253.9,438.2 254.2,437.2 254.5,436.2 254.9,435.2 255.2,434.1 255.5,433.1 255.8,432.1 256.1,431.1 256.3,430.1 256.7,429.1 257.0,428.1 257.2,427.1 257.4,426.1 257.6,425.1 257.6,424.1 257.7,423.1 257.7,422.1 257.8,421.0 257.8,420.0 257.8,419.0 257.9,418.0 257.9,417.0 257.9,416.0 257.9,415.0Z" fill="#D3D3EA"/><rect x="254.74" y="456.30" width="7.30" height="22.00" fill="#fff"/><rect x="255.79" y="457.35" width="5.20" height="19.90" fill="#9A9896"/><rect x="255.79" y="466.50" width="5.20" height="1.8" fill="#fff"/><rect x="260.50" y="414.30" width="1.4" height="1.4" fill="#8c8c8c"/><rect x="261.50" y="419.30" width="1.4" height="1.4" fill="#8c8c8c"/><rect x="259.20" y="423.40" width="1.4" height="1.4" fill="#8c8c8c"/><path d="M282.6,400.6 282.6,401.6 282.6,402.6 282.6,403.6 282.7,404.6 282.7,405.6 282.8,406.6 282.8,407.6 282.9,408.6 283.0,409.7 283.0,410.7 283.1,411.7 283.2,412.7 283.3,413.7 283.5,414.7 283.7,415.7 283.9,416.7 284.1,417.7 284.4,418.7 284.7,419.7 284.9,420.7 285.2,421.7 285.5,422.7 285.8,423.7 286.1,424.7 286.4,425.7 286.7,426.7 287.0,427.8 287.2,428.8 287.5,429.8 287.9,430.8 288.1,431.8 288.4,432.8 288.7,433.8 288.9,434.8 289.2,435.8 289.4,436.8 289.5,437.8 289.7,438.8 289.9,439.8 290.1,440.8 290.2,441.8 290.4,442.8 290.5,443.8 290.6,444.9 290.8,445.9 290.9,446.9 291.0,447.9 291.1,448.9 291.3,449.9 291.4,450.9 291.5,451.9 291.6,452.9 291.8,453.9 291.8,454.9 291.9,455.9 292.0,456.9 292.0,457.9 292.0,458.9 292.0,459.9 292.0,460.9 291.9,462.0 291.9,463.0 291.8,464.0 291.8,465.0 291.7,466.0 291.6,467.0 291.6,468.0 291.5,469.0 291.4,470.0 291.4,471.0 291.3,472.0 291.2,473.0 291.0,474.0 290.9,475.0 290.8,476.0 290.6,477.0 290.5,478.0 290.3,479.0 290.2,480.1 290.0,481.1 289.9,482.1 289.8,483.1 289.6,484.1 289.5,485.1 289.3,486.1 289.2,487.1 289.0,488.1 288.9,489.1 288.7,490.1 288.6,491.1 288.4,492.1 288.2,493.1 288.1,494.1 287.9,495.1 287.7,496.1 287.5,497.2 287.3,498.2 287.1,499.2 286.9,500.2 286.7,501.2 286.5,502.2 286.3,503.2 286.1,504.2 285.9,505.2 285.7,506.2 285.5,507.2 285.3,508.2 285.1,509.2 284.9,510.2 284.7,511.2 284.6,512.2 284.4,513.2 284.3,514.3 284.1,515.3 284.0,516.3 283.9,517.3 283.8,518.3 283.6,519.3 283.5,520.3 283.4,521.3 283.3,522.3 283.3,523.3 283.2,524.3 283.1,525.3 283.1,526.3 283.0,527.3 282.9,528.3 282.9,529.3 282.8,530.3 282.8,531.3 282.7,532.4 282.7,533.4 282.6,534.4 282.6,535.4 282.6,536.4 282.5,537.4 282.5,538.4 282.5,539.4 282.5,540.4 281.7,540.4 281.7,539.4 281.7,538.4 281.7,537.4 281.6,536.4 281.6,535.4 281.6,534.4 281.5,533.4 281.5,532.4 281.4,531.3 281.4,530.3 281.3,529.3 281.3,528.3 281.2,527.3 281.1,526.3 281.1,525.3 281.0,524.3 280.9,523.3 280.9,522.3 280.8,521.3 280.7,520.3 280.6,519.3 280.4,518.3 280.3,517.3 280.2,516.3 280.1,515.3 279.9,514.3 279.8,513.2 279.6,512.2 279.5,511.2 279.3,510.2 279.1,509.2 278.9,508.2 278.7,507.2 278.5,506.2 278.3,505.2 278.1,504.2 277.9,503.2 277.7,502.2 277.5,501.2 277.3,500.2 277.1,499.2 276.9,498.2 276.7,497.2 276.5,496.1 276.3,495.1 276.1,494.1 276.0,493.1 275.8,492.1 275.6,491.1 275.5,490.1 275.3,489.1 275.2,488.1 275.0,487.1 274.9,486.1 274.7,485.1 274.6,484.1 274.4,483.1 274.3,482.1 274.2,481.1 274.0,480.1 273.9,479.0 273.7,478.0 273.6,477.0 273.4,476.0 273.3,475.0 273.2,474.0 273.0,473.0 272.9,472.0 272.8,471.0 272.8,470.0 272.7,469.0 272.6,468.0 272.6,467.0 272.5,466.0 272.4,465.0 272.4,464.0 272.3,463.0 272.3,462.0 272.2,460.9 272.2,459.9 272.2,458.9 272.2,457.9 272.2,456.9 272.3,455.9 272.4,454.9 272.4,453.9 272.6,452.9 272.7,451.9 272.8,450.9 272.9,449.9 273.1,448.9 273.2,447.9 273.3,446.9 273.4,445.9 273.6,444.9 273.7,443.8 273.8,442.8 274.0,441.8 274.1,440.8 274.3,439.8 274.5,438.8 274.7,437.8 274.8,436.8 275.0,435.8 275.3,434.8 275.5,433.8 275.8,432.8 276.1,431.8 276.3,430.8 276.7,429.8 277.0,428.8 277.2,427.8 277.5,426.7 277.8,425.7 278.1,424.7 278.4,423.7 278.7,422.7 279.0,421.7 279.3,420.7 279.5,419.7 279.8,418.7 280.1,417.7 280.3,416.7 280.5,415.7 280.7,414.7 280.9,413.7 281.0,412.7 281.1,411.7 281.2,410.7 281.2,409.7 281.3,408.6 281.4,407.6 281.4,406.6 281.5,405.6 281.5,404.6 281.6,403.6 281.6,402.6 281.6,401.6 281.6,400.6Z" fill="#D3D3EA"/><rect x="278.45" y="451.00" width="7.30" height="33.40" fill="#fff"/><rect x="279.50" y="452.05" width="5.20" height="31.30" fill="#9A9896"/><rect x="279.50" y="466.50" width="5.20" height="1.8" fill="#fff"/><rect x="283.50" y="398.40" width="1.4" height="1.4" fill="#8c8c8c"/><path d="M306.2,412.8 306.2,413.8 306.2,414.8 306.2,415.8 306.3,416.8 306.3,417.8 306.3,418.8 306.4,419.8 306.4,420.8 306.5,421.8 306.5,422.8 306.6,423.8 306.7,424.8 306.8,425.8 306.8,426.9 306.9,427.9 307.0,428.9 307.1,429.9 307.3,430.9 307.5,431.9 307.7,432.9 308.0,433.9 308.2,434.9 308.5,435.9 308.8,436.9 309.0,437.9 309.3,438.9 309.6,439.9 309.9,440.9 310.2,441.9 310.5,442.9 310.9,443.9 311.2,444.9 311.6,445.9 311.9,446.9 312.2,447.9 312.5,448.9 312.7,449.9 313.0,450.9 313.2,451.9 313.4,452.9 313.6,453.9 313.7,455.0 313.9,456.0 314.1,457.0 314.2,458.0 314.4,459.0 314.5,460.0 314.6,461.0 314.7,462.0 314.8,463.0 314.9,464.0 315.0,465.0 315.1,466.0 315.2,467.0 315.2,468.0 315.3,469.0 315.3,470.0 315.3,471.0 315.2,472.0 315.2,473.0 315.0,474.0 314.9,475.0 314.7,476.0 314.5,477.0 314.3,478.0 314.0,479.0 313.8,480.0 313.6,481.0 313.3,482.0 313.1,483.1 312.7,484.1 312.4,485.1 312.0,486.1 311.7,487.1 311.4,488.1 311.1,489.1 310.7,490.1 310.4,491.1 310.1,492.1 309.8,493.1 309.5,494.1 309.2,495.1 308.9,496.1 308.6,497.1 308.3,498.1 308.0,499.1 307.7,500.1 307.5,501.1 307.3,502.1 307.2,503.1 307.1,504.1 307.0,505.1 306.9,506.1 306.8,507.1 306.7,508.1 306.7,509.1 306.6,510.1 306.6,511.2 306.5,512.2 306.5,513.2 306.5,514.2 306.4,515.2 306.4,516.2 306.3,517.2 306.3,518.2 306.3,519.2 306.3,520.2 306.2,521.2 306.2,522.2 306.2,523.2 306.2,524.2 306.2,525.2 305.4,525.2 305.4,524.2 305.4,523.2 305.4,522.2 305.4,521.2 305.4,520.2 305.3,519.2 305.3,518.2 305.3,517.2 305.2,516.2 305.2,515.2 305.2,514.2 305.1,513.2 305.1,512.2 305.0,511.2 305.0,510.1 305.0,509.1 304.9,508.1 304.8,507.1 304.8,506.1 304.7,505.1 304.6,504.1 304.4,503.1 304.3,502.1 304.1,501.1 303.9,500.1 303.6,499.1 303.3,498.1 303.0,497.1 302.7,496.1 302.4,495.1 302.1,494.1 301.8,493.1 301.5,492.1 301.2,491.1 300.9,490.1 300.6,489.1 300.3,488.1 299.9,487.1 299.6,486.1 299.2,485.1 298.9,484.1 298.6,483.1 298.3,482.0 298.0,481.0 297.8,480.0 297.6,479.0 297.3,478.0 297.1,477.0 296.9,476.0 296.7,475.0 296.6,474.0 296.5,473.0 296.4,472.0 296.3,471.0 296.3,470.0 296.3,469.0 296.4,468.0 296.4,467.0 296.5,466.0 296.6,465.0 296.7,464.0 296.8,463.0 296.9,462.0 297.0,461.0 297.1,460.0 297.3,459.0 297.4,458.0 297.5,457.0 297.7,456.0 297.9,455.0 298.1,453.9 298.3,452.9 298.5,451.9 298.7,450.9 298.9,449.9 299.1,448.9 299.4,447.9 299.7,446.9 300.1,445.9 300.4,444.9 300.7,443.9 301.1,442.9 301.4,441.9 301.8,440.9 302.1,439.9 302.3,438.9 302.6,437.9 302.9,436.9 303.1,435.9 303.4,434.9 303.6,433.9 303.9,432.9 304.1,431.9 304.3,430.9 304.5,429.9 304.6,428.9 304.7,427.9 304.8,426.9 304.9,425.8 304.9,424.8 305.0,423.8 305.1,422.8 305.1,421.8 305.2,420.8 305.2,419.8 305.3,418.8 305.3,417.8 305.3,416.8 305.4,415.8 305.4,414.8 305.4,413.8 305.4,412.8Z" fill="#D3D3EA"/><rect x="302.16" y="458.30" width="7.30" height="22.40" fill="#fff"/><rect x="303.21" y="459.35" width="5.20" height="20.30" fill="#9A9896"/><rect x="303.21" y="468.80" width="5.20" height="1.8" fill="#fff"/><rect x="306.00" y="412.80" width="1.4" height="1.4" fill="#8c8c8c"/><rect x="307.50" y="419.30" width="1.4" height="1.4" fill="#8c8c8c"/><rect x="310.10" y="422.40" width="1.4" height="1.4" fill="#8c8c8c"/><rect x="306.30" y="424.20" width="1.4" height="1.4" fill="#8c8c8c"/><rect x="306.30" y="421.50" width="1.4" height="1.4" fill="#8c8c8c"/><path d="M329.9,428.8 329.9,429.8 330.0,430.8 330.0,431.8 330.1,432.8 330.2,433.8 330.3,434.8 330.4,435.8 330.5,436.8 330.6,437.8 330.8,438.8 331.1,439.8 331.4,440.8 331.6,441.8 331.9,442.8 332.2,443.8 332.5,444.8 332.9,445.8 333.2,446.8 333.6,447.8 334.0,448.8 334.3,449.8 334.7,450.8 335.1,451.8 335.5,452.8 335.9,453.8 336.2,454.9 336.6,455.9 336.9,456.9 337.2,457.9 337.4,458.9 337.7,459.9 337.9,460.9 338.1,461.9 338.4,462.9 338.6,463.9 338.7,464.9 338.9,465.9 339.0,466.9 339.0,467.9 339.0,468.9 339.0,469.9 338.9,470.9 338.8,471.9 338.7,472.9 338.5,473.9 338.3,474.9 338.1,475.9 337.9,476.9 337.7,477.9 337.5,478.9 337.3,479.9 337.0,480.9 336.6,481.9 336.2,482.9 335.8,483.9 335.4,484.9 334.9,485.9 334.5,486.9 334.2,487.9 333.8,488.9 333.4,489.9 333.1,490.9 332.7,491.9 332.4,492.9 332.1,493.9 331.7,494.9 331.4,495.9 331.1,496.9 330.9,497.9 330.8,498.9 330.6,499.9 330.6,500.9 330.5,501.9 330.4,502.9 330.4,503.9 330.3,504.9 330.3,506.0 330.3,507.0 330.2,508.0 330.2,509.0 330.2,510.0 330.2,511.0 330.1,512.0 330.1,513.0 330.1,514.0 330.1,515.0 330.1,516.0 330.0,517.0 330.0,518.0 330.0,519.0 330.0,520.0 330.0,521.0 330.0,522.0 330.0,523.0 330.0,524.0 329.9,525.0 329.9,526.0 329.9,527.0 329.9,528.0 329.9,529.0 329.9,530.0 329.9,531.0 329.1,531.0 329.1,530.0 329.1,529.0 329.1,528.0 329.1,527.0 329.1,526.0 329.1,525.0 329.1,524.0 329.1,523.0 329.1,522.0 329.1,521.0 329.0,520.0 329.0,519.0 329.0,518.0 329.0,517.0 329.0,516.0 329.0,515.0 328.9,514.0 328.9,513.0 328.9,512.0 328.9,511.0 328.8,510.0 328.8,509.0 328.8,508.0 328.8,507.0 328.7,506.0 328.7,504.9 328.7,503.9 328.6,502.9 328.6,501.9 328.5,500.9 328.4,499.9 328.3,498.9 328.2,497.9 328.0,496.9 327.7,495.9 327.3,494.9 327.0,493.9 326.6,492.9 326.3,491.9 325.9,490.9 325.6,489.9 325.2,488.9 324.9,487.9 324.5,486.9 324.1,485.9 323.7,484.9 323.2,483.9 322.8,482.9 322.4,481.9 322.1,480.9 321.8,479.9 321.5,478.9 321.3,477.9 321.1,476.9 320.9,475.9 320.7,474.9 320.5,473.9 320.4,472.9 320.3,471.9 320.1,470.9 320.1,469.9 320.0,468.9 320.0,467.9 320.1,466.9 320.2,465.9 320.3,464.9 320.5,463.9 320.7,462.9 320.9,461.9 321.1,460.9 321.4,459.9 321.6,458.9 321.9,457.9 322.1,456.9 322.5,455.9 322.8,454.9 323.2,453.8 323.6,452.8 324.0,451.8 324.4,450.8 324.7,449.8 325.1,448.8 325.4,447.8 325.8,446.8 326.2,445.8 326.5,444.8 326.8,443.8 327.1,442.8 327.4,441.8 327.7,440.8 328.0,439.8 328.2,438.8 328.4,437.8 328.6,436.8 328.7,435.8 328.8,434.8 328.9,433.8 329.0,432.8 329.0,431.8 329.1,430.8 329.1,429.8 329.1,428.8Z" fill="#D3D3EA"/><rect x="325.87" y="460.40" width="7.30" height="18.20" fill="#fff"/><rect x="326.92" y="461.45" width="5.20" height="16.10" fill="#9A9896"/><rect x="326.92" y="469.20" width="5.20" height="1.8" fill="#fff"/><rect x="330.30" y="426.90" width="1.4" height="1.4" fill="#8c8c8c"/><rect x="331.20" y="429.30" width="1.4" height="1.4" fill="#8c8c8c"/><rect x="330.00" y="431.90" width="1.4" height="1.4" fill="#8c8c8c"/><rect x="329.20" y="434.50" width="1.4" height="1.4" fill="#8c8c8c"/><path d="M353.4,444.0 353.6,445.0 353.7,446.0 353.9,447.0 354.1,448.0 354.4,449.0 354.6,450.0 354.9,451.0 355.2,452.0 355.6,453.0 356.0,454.0 356.4,455.0 356.8,456.0 357.2,457.0 357.7,458.0 358.2,459.0 358.7,460.0 359.2,461.0 359.7,462.0 360.1,463.0 360.5,464.0 361.0,465.0 361.4,466.0 361.7,467.0 361.9,468.0 361.9,469.0 361.8,470.0 361.7,471.0 361.5,472.0 361.3,473.0 361.1,474.0 360.8,475.0 360.6,476.0 360.3,477.0 360.0,478.0 359.6,479.0 359.1,480.0 358.7,481.0 358.2,482.0 357.8,483.0 357.4,484.0 357.1,485.0 356.7,486.0 356.3,487.0 355.9,488.0 355.7,489.0 355.4,490.0 355.3,491.0 355.1,492.0 355.0,493.0 354.9,494.0 354.8,495.0 354.7,496.0 354.6,497.0 354.5,498.0 354.4,499.0 354.3,500.0 354.3,501.0 354.2,502.0 354.2,503.0 354.1,504.0 354.0,505.0 354.0,506.0 353.9,507.0 353.9,508.0 353.8,509.0 353.7,510.0 353.7,511.0 353.6,512.0 353.5,513.0 353.5,514.0 353.4,515.0 353.0,515.0 353.0,514.0 352.9,513.0 352.9,512.0 352.8,511.0 352.7,510.0 352.7,509.0 352.6,508.0 352.5,507.0 352.5,506.0 352.4,505.0 352.4,504.0 352.3,503.0 352.2,502.0 352.2,501.0 352.1,500.0 352.0,499.0 352.0,498.0 351.9,497.0 351.8,496.0 351.7,495.0 351.6,494.0 351.5,493.0 351.3,492.0 351.2,491.0 351.0,490.0 350.8,489.0 350.5,488.0 350.2,487.0 349.8,486.0 349.4,485.0 349.0,484.0 348.6,483.0 348.2,482.0 347.8,481.0 347.3,480.0 346.9,479.0 346.5,478.0 346.1,477.0 345.9,476.0 345.6,475.0 345.4,474.0 345.1,473.0 344.9,472.0 344.8,471.0 344.6,470.0 344.5,469.0 344.5,468.0 344.7,467.0 345.1,466.0 345.5,465.0 345.9,464.0 346.3,463.0 346.8,462.0 347.2,461.0 347.7,460.0 348.3,459.0 348.8,458.0 349.2,457.0 349.7,456.0 350.1,455.0 350.5,454.0 350.9,453.0 351.2,452.0 351.6,451.0 351.9,450.0 352.1,449.0 352.3,448.0 352.6,447.0 352.7,446.0 352.9,445.0 353.0,444.0Z" fill="#FFC80B"/><rect x="349.58" y="463.40" width="7.30" height="17.30" fill="#fff"/><rect x="350.63" y="464.45" width="5.20" height="15.20" fill="#9A9896"/><rect x="350.63" y="468.60" width="5.20" height="1.8" fill="#fff"/><path d="M377.9,440.2 378.1,441.2 378.4,442.2 378.6,443.2 378.9,444.2 379.2,445.2 379.5,446.2 379.8,447.2 380.2,448.2 380.6,449.2 381.1,450.3 381.5,451.3 381.9,452.3 382.3,453.3 382.7,454.3 383.2,455.3 383.6,456.3 384.1,457.3 384.5,458.3 384.8,459.3 385.1,460.3 385.4,461.3 385.6,462.3 385.9,463.3 386.1,464.3 386.3,465.3 386.4,466.3 386.5,467.3 386.5,468.4 386.5,469.4 386.4,470.4 386.3,471.4 386.1,472.4 385.9,473.4 385.7,474.4 385.4,475.4 385.2,476.4 384.9,477.4 384.7,478.4 384.4,479.4 384.1,480.4 383.8,481.4 383.5,482.4 383.2,483.4 382.8,484.4 382.4,485.4 382.1,486.4 381.7,487.5 381.4,488.5 381.0,489.5 380.6,490.5 380.3,491.5 380.0,492.5 379.7,493.5 379.4,494.5 379.2,495.5 378.9,496.5 378.8,497.5 378.6,498.5 378.5,499.5 378.4,500.5 378.3,501.5 378.2,502.5 378.1,503.5 378.1,504.5 378.0,505.6 378.0,506.6 378.0,507.6 378.0,508.6 378.0,509.6 378.0,510.6 378.0,511.6 378.0,512.6 378.0,513.6 377.5,514.6 376.3,514.6 375.9,513.6 375.9,512.6 375.9,511.6 375.9,510.6 375.9,509.6 375.9,508.6 375.9,507.6 375.9,506.6 375.8,505.6 375.8,504.5 375.8,503.5 375.7,502.5 375.6,501.5 375.5,500.5 375.4,499.5 375.3,498.5 375.1,497.5 375.0,496.5 374.7,495.5 374.5,494.5 374.2,493.5 373.9,492.5 373.6,491.5 373.2,490.5 372.9,489.5 372.5,488.5 372.2,487.5 371.8,486.4 371.4,485.4 371.1,484.4 370.7,483.4 370.4,482.4 370.0,481.4 369.7,480.4 369.5,479.4 369.2,478.4 369.0,477.4 368.7,476.4 368.4,475.4 368.2,474.4 368.0,473.4 367.8,472.4 367.6,471.4 367.5,470.4 367.4,469.4 367.3,468.4 367.4,467.3 367.5,466.3 367.6,465.3 367.8,464.3 368.0,463.3 368.2,462.3 368.5,461.3 368.7,460.3 369.0,459.3 369.4,458.3 369.8,457.3 370.3,456.3 370.7,455.3 371.2,454.3 371.6,453.3 372.0,452.3 372.4,451.3 372.8,450.3 373.3,449.2 373.7,448.2 374.1,447.2 374.4,446.2 374.7,445.2 375.0,444.2 375.3,443.2 375.5,442.2 375.7,441.2 375.9,440.2Z" fill="#D3D3EA"/><rect x="373.29" y="463.40" width="7.30" height="17.00" fill="#fff"/><rect x="374.34" y="464.45" width="5.20" height="14.90" fill="#9A9896"/><rect x="374.34" y="470.40" width="5.20" height="1.8" fill="#fff"/><path d="M401.1,407.6 401.1,408.6 401.1,409.6 401.1,410.6 401.1,411.6 401.1,412.6 401.2,413.6 401.2,414.6 401.2,415.6 401.3,416.7 401.3,417.7 401.4,418.7 401.5,419.7 401.5,420.7 401.6,421.7 401.6,422.7 401.7,423.7 401.8,424.7 401.9,425.7 402.1,426.7 402.2,427.7 402.4,428.7 402.6,429.7 402.7,430.7 402.9,431.7 403.1,432.7 403.3,433.7 403.5,434.8 403.8,435.8 404.0,436.8 404.2,437.8 404.5,438.8 404.7,439.8 405.0,440.8 405.2,441.8 405.4,442.8 405.7,443.8 405.9,444.8 406.1,445.8 406.4,446.8 406.6,447.8 406.9,448.8 407.1,449.8 407.3,450.8 407.5,451.9 407.7,452.9 407.9,453.9 408.1,454.9 408.2,455.9 408.4,456.9 408.5,457.9 408.7,458.9 408.8,459.9 408.9,460.9 409.1,461.9 409.2,462.9 409.3,463.9 409.4,464.9 409.5,465.9 409.6,466.9 409.7,467.9 409.8,468.9 409.8,470.0 409.9,471.0 409.9,472.0 409.9,473.0 409.9,474.0 409.8,475.0 409.7,476.0 409.6,477.0 409.4,478.0 409.3,479.0 409.1,480.0 408.9,481.0 408.6,482.0 408.4,483.0 408.2,484.0 408.0,485.0 407.8,486.0 407.5,487.1 407.2,488.1 406.9,489.1 406.6,490.1 406.3,491.1 406.0,492.1 405.7,493.1 405.3,494.1 405.0,495.1 404.7,496.1 404.4,497.1 404.1,498.1 403.8,499.1 403.5,500.1 403.2,501.1 403.0,502.1 402.7,503.1 402.5,504.1 402.4,505.2 402.2,506.2 402.1,507.2 402.0,508.2 401.9,509.2 401.8,510.2 401.7,511.2 401.7,512.2 401.6,513.2 401.6,514.2 401.6,515.2 401.5,516.2 401.5,517.2 401.5,518.2 401.5,519.2 401.5,520.2 401.5,521.2 401.4,522.3 401.4,523.3 401.4,524.3 401.4,525.3 401.4,526.3 401.4,527.3 401.3,528.3 401.3,529.3 401.3,530.3 401.3,531.3 401.3,532.3 401.3,533.3 401.2,534.3 401.2,535.3 401.2,536.3 401.2,537.3 401.2,538.3 401.2,539.3 401.2,540.4 401.1,541.4 401.1,542.4 401.1,543.4 401.1,544.4 401.1,545.4 401.1,546.4 401.1,547.4 401.1,548.4 400.3,548.4 400.2,547.4 400.2,546.4 400.2,545.4 400.2,544.4 400.2,543.4 400.2,542.4 400.2,541.4 400.1,540.4 400.1,539.3 400.1,538.3 400.1,537.3 400.1,536.3 400.1,535.3 400.1,534.3 400.0,533.3 400.0,532.3 400.0,531.3 400.0,530.3 400.0,529.3 400.0,528.3 399.9,527.3 399.9,526.3 399.9,525.3 399.9,524.3 399.9,523.3 399.9,522.3 399.8,521.2 399.8,520.2 399.8,519.2 399.8,518.2 399.8,517.2 399.8,516.2 399.7,515.2 399.7,514.2 399.7,513.2 399.6,512.2 399.6,511.2 399.5,510.2 399.4,509.2 399.3,508.2 399.2,507.2 399.1,506.2 398.9,505.2 398.8,504.1 398.6,503.1 398.3,502.1 398.1,501.1 397.8,500.1 397.5,499.1 397.2,498.1 396.9,497.1 396.6,496.1 396.3,495.1 396.0,494.1 395.6,493.1 395.3,492.1 395.0,491.1 394.7,490.1 394.4,489.1 394.1,488.1 393.8,487.1 393.5,486.0 393.3,485.0 393.1,484.0 392.9,483.0 392.7,482.0 392.4,481.0 392.2,480.0 392.0,479.0 391.9,478.0 391.7,477.0 391.6,476.0 391.5,475.0 391.4,474.0 391.4,473.0 391.4,472.0 391.4,471.0 391.5,470.0 391.5,468.9 391.6,467.9 391.7,466.9 391.8,465.9 391.9,464.9 392.0,463.9 392.1,462.9 392.2,461.9 392.4,460.9 392.5,459.9 392.6,458.9 392.8,457.9 392.9,456.9 393.1,455.9 393.2,454.9 393.4,453.9 393.6,452.9 393.8,451.9 394.0,450.8 394.2,449.8 394.4,448.8 394.7,447.8 394.9,446.8 395.2,445.8 395.4,444.8 395.6,443.8 395.9,442.8 396.1,441.8 396.3,440.8 396.6,439.8 396.8,438.8 397.1,437.8 397.3,436.8 397.5,435.8 397.8,434.8 398.0,433.7 398.2,432.7 398.4,431.7 398.6,430.7 398.7,429.7 398.9,428.7 399.1,427.7 399.2,426.7 399.4,425.7 399.5,424.7 399.6,423.7 399.7,422.7 399.7,421.7 399.8,420.7 399.8,419.7 399.9,418.7 400.0,417.7 400.0,416.7 400.1,415.6 400.1,414.6 400.1,413.6 400.2,412.6 400.2,411.6 400.2,410.6 400.2,409.6 400.2,408.6 400.3,407.6Z" fill="#D3D3EA"/><rect x="397.00" y="458.00" width="7.30" height="25.20" fill="#fff"/><rect x="398.05" y="459.05" width="5.20" height="23.10" fill="#9A9896"/><rect x="398.05" y="471.20" width="5.20" height="1.8" fill="#fff"/><rect x="400.10" y="407.20" width="1.4" height="1.4" fill="#8c8c8c"/><rect x="404.00" y="417.20" width="1.4" height="1.4" fill="#8c8c8c"/><rect x="402.50" y="418.70" width="1.4" height="1.4" fill="#8c8c8c"/><rect x="401.60" y="420.50" width="1.4" height="1.4" fill="#8c8c8c"/><path d="M424.9,445.0 424.9,446.0 425.0,447.0 425.1,448.0 425.3,449.0 425.6,450.0 425.8,451.1 426.1,452.1 426.4,453.1 426.8,454.1 427.4,455.1 428.1,456.1 428.7,457.1 429.4,458.1 429.9,459.1 430.4,460.1 430.9,461.1 431.4,462.2 431.8,463.2 432.2,464.2 432.5,465.2 432.8,466.2 433.0,467.2 433.3,468.2 433.5,469.2 433.7,470.2 433.9,471.2 434.0,472.2 433.9,473.2 433.8,474.3 433.6,475.3 433.4,476.3 433.1,477.3 432.7,478.3 432.4,479.3 432.0,480.3 431.6,481.3 431.2,482.3 430.6,483.3 430.1,484.3 429.6,485.4 429.0,486.4 428.5,487.4 428.1,488.4 427.7,489.4 427.2,490.4 426.8,491.4 426.5,492.4 426.2,493.4 426.0,494.4 425.8,495.4 425.6,496.5 425.4,497.5 425.3,498.5 425.2,499.5 425.1,500.5 425.1,501.5 423.7,501.5 423.6,500.5 423.6,499.5 423.5,498.5 423.3,497.5 423.1,496.5 423.0,495.4 422.8,494.4 422.6,493.4 422.3,492.4 421.9,491.4 421.5,490.4 421.1,489.4 420.6,488.4 420.2,487.4 419.7,486.4 419.2,485.4 418.6,484.3 418.1,483.3 417.6,482.3 417.1,481.3 416.7,480.3 416.4,479.3 416.0,478.3 415.7,477.3 415.3,476.3 415.1,475.3 414.9,474.3 414.8,473.2 414.8,472.2 414.8,471.2 415.0,470.2 415.2,469.2 415.4,468.2 415.7,467.2 416.0,466.2 416.2,465.2 416.5,464.2 416.9,463.2 417.4,462.2 417.8,461.1 418.3,460.1 418.8,459.1 419.3,458.1 420.0,457.1 420.7,456.1 421.3,455.1 421.9,454.1 422.3,453.1 422.6,452.1 422.9,451.1 423.1,450.0 423.4,449.0 423.6,448.0 423.7,447.0 423.8,446.0 423.9,445.0Z" fill="#D3D3EA"/><rect x="420.71" y="465.10" width="7.30" height="14.90" fill="#fff"/><rect x="421.76" y="466.15" width="5.20" height="12.80" fill="#9A9896"/><rect x="421.76" y="470.50" width="5.20" height="1.8" fill="#fff"/><path d="M448.3,445.0 448.6,446.0 449.0,447.0 449.4,448.0 449.8,449.0 450.2,450.0 450.6,451.0 451.1,452.0 451.5,453.0 452.0,454.0 452.5,455.0 453.1,456.0 453.7,457.0 454.2,458.0 454.7,459.0 455.1,460.0 455.4,461.0 455.8,462.0 456.1,463.0 456.5,464.0 456.7,465.0 457.0,466.0 457.1,467.0 457.2,468.0 457.1,469.0 457.0,470.0 456.7,471.0 456.4,472.0 456.1,473.0 455.8,474.0 455.5,475.0 455.2,476.0 454.9,477.0 454.6,478.0 454.2,479.0 453.9,480.0 453.6,481.0 453.3,482.0 453.0,483.0 452.8,484.0 452.6,485.0 452.3,486.0 452.1,487.0 451.9,488.1 451.7,489.1 451.5,490.1 451.3,491.1 451.1,492.1 450.9,493.1 450.7,494.1 450.5,495.1 450.3,496.1 450.1,497.1 450.0,498.1 449.9,499.1 449.8,500.1 449.8,501.1 449.7,502.1 449.6,503.1 449.5,504.1 449.5,505.1 449.4,506.1 449.4,507.1 449.3,508.1 449.3,509.1 449.2,510.1 449.2,511.1 449.1,512.1 449.1,513.1 449.0,514.1 449.0,515.1 449.0,516.1 448.9,517.1 448.9,518.1 448.9,519.1 448.8,520.1 448.8,521.1 448.8,522.1 448.7,523.1 448.7,524.1 448.6,525.1 448.6,526.1 448.5,527.1 448.5,528.1 448.4,529.1 448.3,530.1 448.3,531.1 447.9,531.1 447.8,530.1 447.7,529.1 447.7,528.1 447.6,527.1 447.6,526.1 447.5,525.1 447.5,524.1 447.4,523.1 447.4,522.1 447.3,521.1 447.3,520.1 447.3,519.1 447.2,518.1 447.2,517.1 447.2,516.1 447.1,515.1 447.1,514.1 447.0,513.1 447.0,512.1 447.0,511.1 446.9,510.1 446.9,509.1 446.8,508.1 446.8,507.1 446.7,506.1 446.7,505.1 446.6,504.1 446.5,503.1 446.5,502.1 446.4,501.1 446.3,500.1 446.2,499.1 446.1,498.1 446.0,497.1 445.8,496.1 445.7,495.1 445.5,494.1 445.3,493.1 445.0,492.1 444.8,491.1 444.6,490.1 444.4,489.1 444.2,488.1 444.0,487.0 443.8,486.0 443.6,485.0 443.4,484.0 443.1,483.0 442.8,482.0 442.5,481.0 442.2,480.0 441.9,479.0 441.6,478.0 441.3,477.0 441.0,476.0 440.7,475.0 440.4,474.0 440.0,473.0 439.7,472.0 439.4,471.0 439.2,470.0 439.0,469.0 439.0,468.0 439.0,467.0 439.2,466.0 439.4,465.0 439.7,464.0 440.0,463.0 440.3,462.0 440.7,461.0 441.0,460.0 441.5,459.0 442.0,458.0 442.5,457.0 443.0,456.0 443.6,455.0 444.1,454.0 444.6,453.0 445.1,452.0 445.5,451.0 445.9,450.0 446.3,449.0 446.7,448.0 447.1,447.0 447.5,446.0 447.9,445.0Z" fill="#FFC80B"/><rect x="444.42" y="463.30" width="7.30" height="24.80" fill="#fff"/><rect x="445.47" y="464.35" width="5.20" height="22.70" fill="#9A9896"/><rect x="445.47" y="472.50" width="5.20" height="1.8" fill="#fff"/><path d="M472.3,425.6 472.3,426.6 472.3,427.6 472.3,428.6 472.4,429.6 472.4,430.6 472.5,431.6 472.5,432.6 472.6,433.6 472.6,434.7 472.7,435.7 472.8,436.7 472.9,437.7 473.0,438.7 473.1,439.7 473.2,440.7 473.4,441.7 473.6,442.7 473.8,443.7 474.0,444.7 474.3,445.7 474.6,446.7 475.1,447.7 475.6,448.7 476.1,449.7 476.6,450.7 477.1,451.8 477.5,452.8 477.9,453.8 478.3,454.8 478.6,455.8 479.0,456.8 479.3,457.8 479.6,458.8 479.8,459.8 480.0,460.8 480.3,461.8 480.5,462.8 480.7,463.8 480.9,464.8 481.1,465.8 481.3,466.8 481.4,467.8 481.6,468.9 481.6,469.9 481.7,470.9 481.7,471.9 481.6,472.9 481.6,473.9 481.5,474.9 481.3,475.9 481.2,476.9 481.0,477.9 480.9,478.9 480.7,479.9 480.5,480.9 480.3,481.9 480.1,482.9 480.0,483.9 479.8,484.9 479.6,486.0 479.3,487.0 479.1,488.0 478.8,489.0 478.5,490.0 478.3,491.0 478.0,492.0 477.7,493.0 477.3,494.0 477.0,495.0 476.6,496.0 476.2,497.0 475.8,498.0 475.4,499.0 475.1,500.0 474.8,501.0 474.5,502.1 474.2,503.1 474.0,504.1 473.7,505.1 473.5,506.1 473.3,507.1 473.2,508.1 473.1,509.1 473.0,510.1 472.9,511.1 472.9,512.1 472.8,513.1 472.8,514.1 472.7,515.1 472.7,516.1 472.7,517.1 472.7,518.1 472.6,519.2 472.6,520.2 472.6,521.2 472.6,522.2 472.6,523.2 472.6,524.2 472.5,525.2 472.5,526.2 472.5,527.2 472.5,528.2 472.5,529.2 472.4,530.2 472.4,531.2 472.4,532.2 472.4,533.2 472.4,534.2 472.3,535.2 472.3,536.3 472.3,537.3 472.3,538.3 472.3,539.3 472.2,540.3 472.2,541.3 472.2,542.3 472.2,543.3 472.2,544.3 471.4,544.3 471.4,543.3 471.3,542.3 471.3,541.3 471.3,540.3 471.3,539.3 471.3,538.3 471.3,537.3 471.2,536.3 471.2,535.2 471.2,534.2 471.2,533.2 471.2,532.2 471.1,531.2 471.1,530.2 471.1,529.2 471.1,528.2 471.1,527.2 471.0,526.2 471.0,525.2 471.0,524.2 471.0,523.2 471.0,522.2 470.9,521.2 470.9,520.2 470.9,519.2 470.9,518.1 470.9,517.1 470.9,516.1 470.8,515.1 470.8,514.1 470.8,513.1 470.7,512.1 470.6,511.1 470.5,510.1 470.4,509.1 470.3,508.1 470.2,507.1 470.0,506.1 469.8,505.1 469.6,504.1 469.4,503.1 469.1,502.1 468.8,501.0 468.5,500.0 468.2,499.0 467.8,498.0 467.4,497.0 467.0,496.0 466.6,495.0 466.2,494.0 465.9,493.0 465.6,492.0 465.3,491.0 465.0,490.0 464.7,489.0 464.5,488.0 464.2,487.0 464.0,486.0 463.8,484.9 463.6,483.9 463.4,482.9 463.2,481.9 463.1,480.9 462.9,479.9 462.7,478.9 462.5,477.9 462.4,476.9 462.2,475.9 462.1,474.9 462.0,473.9 461.9,472.9 461.9,471.9 461.9,470.9 461.9,469.9 462.0,468.9 462.1,467.8 462.3,466.8 462.4,465.8 462.6,464.8 462.8,463.8 463.1,462.8 463.3,461.8 463.5,460.8 463.7,459.8 464.0,458.8 464.3,457.8 464.6,456.8 464.9,455.8 465.3,454.8 465.7,453.8 466.0,452.8 466.5,451.8 466.9,450.7 467.5,449.7 468.0,448.7 468.5,447.7 468.9,446.7 469.3,445.7 469.5,444.7 469.8,443.7 470.0,442.7 470.2,441.7 470.3,440.7 470.5,439.7 470.6,438.7 470.7,437.7 470.8,436.7 470.8,435.7 470.9,434.7 471.0,433.6 471.0,432.6 471.1,431.6 471.2,430.6 471.2,429.6 471.2,428.6 471.3,427.6 471.3,426.6 471.3,425.6Z" fill="#D3D3EA"/><rect x="468.13" y="463.30" width="7.30" height="22.30" fill="#fff"/><rect x="469.18" y="464.35" width="5.20" height="20.20" fill="#9A9896"/><rect x="469.18" y="473.30" width="5.20" height="1.8" fill="#fff"/><rect x="472.00" y="424.60" width="1.4" height="1.4" fill="#8c8c8c"/><rect x="472.00" y="426.70" width="1.4" height="1.4" fill="#8c8c8c"/><path d="M496.8,429.9 497.1,430.9 497.4,431.9 497.7,432.9 498.0,433.9 498.4,434.9 498.7,435.9 499.0,436.9 499.3,437.9 499.7,438.9 500.1,439.9 500.4,441.0 500.8,442.0 501.2,443.0 501.5,444.0 501.8,445.0 502.1,446.0 502.3,447.0 502.6,448.0 502.9,449.0 503.2,450.0 503.4,451.0 503.6,452.0 503.9,453.0 504.1,454.0 504.2,455.0 504.4,456.0 504.5,457.0 504.5,458.0 504.6,459.0 504.6,460.0 504.7,461.0 504.7,462.0 504.8,463.1 504.8,464.1 504.8,465.1 504.9,466.1 504.9,467.1 504.9,468.1 504.9,469.1 504.9,470.1 504.9,471.1 504.8,472.1 504.8,473.1 504.8,474.1 504.7,475.1 504.7,476.1 504.6,477.1 504.6,478.1 504.5,479.1 504.5,480.1 504.4,481.1 504.3,482.1 504.2,483.1 504.0,484.1 503.9,485.2 503.7,486.2 503.5,487.2 503.3,488.2 503.2,489.2 503.0,490.2 502.9,491.2 502.7,492.2 502.6,493.2 502.5,494.2 502.3,495.2 502.2,496.2 502.1,497.2 501.9,498.2 501.8,499.2 501.7,500.2 501.5,501.2 501.3,502.2 501.2,503.2 501.0,504.2 500.8,505.2 500.7,506.2 500.5,507.3 500.3,508.3 500.1,509.3 500.0,510.3 499.8,511.3 499.6,512.3 499.4,513.3 499.3,514.3 499.1,515.3 498.9,516.3 498.8,517.3 498.6,518.3 498.4,519.3 498.3,520.3 498.1,521.3 498.0,522.3 497.8,523.3 497.7,524.3 497.5,525.3 497.4,526.3 497.2,527.3 497.1,528.3 497.0,529.4 496.9,530.4 496.8,531.4 496.7,532.4 496.6,533.4 496.6,534.4 496.5,535.4 496.5,536.4 496.4,537.4 496.4,538.4 496.3,539.4 496.3,540.4 496.3,541.4 496.2,542.4 496.2,543.4 496.2,544.4 496.1,545.4 496.1,546.4 496.1,547.4 496.1,548.4 496.0,549.4 496.0,550.4 496.0,551.5 496.0,552.5 496.0,553.5 495.9,554.5 495.9,555.5 495.9,556.5 495.9,557.5 495.9,558.5 495.9,559.5 495.9,560.5 495.9,561.5 495.1,561.5 495.1,560.5 495.1,559.5 495.1,558.5 495.1,557.5 495.1,556.5 495.0,555.5 495.0,554.5 495.0,553.5 495.0,552.5 495.0,551.5 495.0,550.4 494.9,549.4 494.9,548.4 494.9,547.4 494.9,546.4 494.8,545.4 494.8,544.4 494.8,543.4 494.7,542.4 494.7,541.4 494.7,540.4 494.6,539.4 494.6,538.4 494.6,537.4 494.5,536.4 494.5,535.4 494.4,534.4 494.3,533.4 494.3,532.4 494.2,531.4 494.1,530.4 494.0,529.4 493.9,528.3 493.8,527.3 493.6,526.3 493.5,525.3 493.3,524.3 493.2,523.3 493.0,522.3 492.9,521.3 492.7,520.3 492.5,519.3 492.4,518.3 492.2,517.3 492.0,516.3 491.9,515.3 491.7,514.3 491.5,513.3 491.4,512.3 491.2,511.3 491.0,510.3 490.8,509.3 490.7,508.3 490.5,507.3 490.3,506.2 490.1,505.2 490.0,504.2 489.8,503.2 489.6,502.2 489.5,501.2 489.3,500.2 489.2,499.2 489.0,498.2 488.9,497.2 488.8,496.2 488.6,495.2 488.5,494.2 488.4,493.2 488.3,492.2 488.1,491.2 488.0,490.2 487.8,489.2 487.6,488.2 487.5,487.2 487.3,486.2 487.1,485.2 486.9,484.1 486.8,483.1 486.7,482.1 486.6,481.1 486.5,480.1 486.4,479.1 486.4,478.1 486.3,477.1 486.3,476.1 486.2,475.1 486.2,474.1 486.2,473.1 486.1,472.1 486.1,471.1 486.1,470.1 486.1,469.1 486.1,468.1 486.1,467.1 486.1,466.1 486.1,465.1 486.2,464.1 486.2,463.1 486.2,462.0 486.3,461.0 486.3,460.0 486.4,459.0 486.5,458.0 486.5,457.0 486.6,456.0 486.8,455.0 486.9,454.0 487.1,453.0 487.3,452.0 487.6,451.0 487.8,450.0 488.1,449.0 488.4,448.0 488.6,447.0 488.9,446.0 489.2,445.0 489.5,444.0 489.8,443.0 490.2,442.0 490.6,441.0 490.9,439.9 491.3,438.9 491.6,437.9 492.0,436.9 492.3,435.9 492.6,434.9 492.9,433.9 493.3,432.9 493.6,431.9 493.9,430.9 494.2,429.9Z" fill="#D3D3EA"/><rect x="491.84" y="459.30" width="7.30" height="35.40" fill="#fff"/><rect x="492.89" y="460.35" width="5.20" height="33.30" fill="#9A9896"/><rect x="492.89" y="476.00" width="5.20" height="1.8" fill="#fff"/><path d="M519.7,411.1 519.7,412.1 519.7,413.1 519.7,414.1 519.7,415.1 519.7,416.1 519.7,417.1 519.8,418.1 519.8,419.1 519.8,420.1 519.8,421.1 519.8,422.1 519.8,423.1 519.9,424.1 519.9,425.1 519.9,426.1 519.9,427.1 520.0,428.1 520.0,429.1 520.0,430.1 520.1,431.1 520.1,432.1 520.1,433.1 520.2,434.1 520.2,435.1 520.2,436.1 520.3,437.1 520.3,438.1 520.4,439.1 520.4,440.1 520.5,441.1 520.6,442.1 520.6,443.1 520.7,444.1 520.8,445.1 520.9,446.1 521.1,447.1 521.2,448.1 521.5,449.1 521.7,450.1 522.0,451.1 522.3,452.1 522.6,453.1 523.0,454.1 523.3,455.1 523.7,456.1 524.2,457.1 524.6,458.1 525.1,459.1 525.5,460.1 525.8,461.1 526.1,462.1 526.4,463.1 526.7,464.1 527.0,465.1 527.2,466.1 527.5,467.1 527.7,468.1 527.9,469.1 528.1,470.1 528.3,471.1 528.5,472.1 528.6,473.1 528.8,474.1 528.9,475.1 529.0,476.1 529.1,477.1 529.1,478.1 529.1,479.1 529.0,480.1 528.9,481.1 528.8,482.1 528.6,483.1 528.4,484.1 528.2,485.1 528.0,486.1 527.8,487.1 527.6,488.1 527.4,489.1 527.0,490.1 526.7,491.1 526.3,492.1 525.9,493.1 525.5,494.1 525.1,495.1 524.7,496.1 524.3,497.1 523.8,498.1 523.4,499.1 523.0,500.1 522.7,501.1 522.3,502.1 522.1,503.1 521.8,504.1 521.6,505.1 521.4,506.1 521.2,507.1 521.0,508.1 520.9,509.1 520.7,510.1 520.6,511.1 520.5,512.1 520.4,513.1 520.2,514.1 520.2,515.1 520.1,516.1 520.0,517.1 520.0,518.1 520.0,519.1 519.9,520.1 519.9,521.1 519.9,522.1 519.9,523.1 519.8,524.1 519.8,525.1 519.8,526.1 519.8,527.1 519.8,528.1 519.8,529.1 519.7,530.1 519.7,531.1 519.7,532.1 519.7,533.1 519.7,534.1 519.7,535.1 519.7,536.1 519.7,537.1 519.6,538.1 519.6,539.1 519.6,540.1 519.6,541.1 519.6,542.1 519.6,543.1 519.6,544.1 519.6,545.1 519.6,546.1 519.6,547.1 519.6,548.1 518.8,548.1 518.8,547.1 518.8,546.1 518.8,545.1 518.8,544.1 518.8,543.1 518.8,542.1 518.8,541.1 518.8,540.1 518.8,539.1 518.8,538.1 518.7,537.1 518.7,536.1 518.7,535.1 518.7,534.1 518.7,533.1 518.7,532.1 518.7,531.1 518.7,530.1 518.6,529.1 518.6,528.1 518.6,527.1 518.6,526.1 518.6,525.1 518.6,524.1 518.5,523.1 518.5,522.1 518.5,521.1 518.5,520.1 518.4,519.1 518.4,518.1 518.4,517.1 518.3,516.1 518.2,515.1 518.2,514.1 518.0,513.1 517.9,512.1 517.8,511.1 517.7,510.1 517.5,509.1 517.4,508.1 517.2,507.1 517.0,506.1 516.8,505.1 516.6,504.1 516.3,503.1 516.1,502.1 515.7,501.1 515.4,500.1 515.0,499.1 514.6,498.1 514.1,497.1 513.7,496.1 513.3,495.1 512.9,494.1 512.5,493.1 512.1,492.1 511.7,491.1 511.4,490.1 511.0,489.1 510.8,488.1 510.6,487.1 510.4,486.1 510.2,485.1 510.0,484.1 509.8,483.1 509.6,482.1 509.5,481.1 509.4,480.1 509.3,479.1 509.3,478.1 509.3,477.1 509.4,476.1 509.5,475.1 509.6,474.1 509.8,473.1 509.9,472.1 510.1,471.1 510.3,470.1 510.5,469.1 510.7,468.1 510.9,467.1 511.2,466.1 511.4,465.1 511.7,464.1 512.0,463.1 512.3,462.1 512.6,461.1 512.9,460.1 513.3,459.1 513.8,458.1 514.2,457.1 514.7,456.1 515.1,455.1 515.4,454.1 515.8,453.1 516.1,452.1 516.4,451.1 516.7,450.1 516.9,449.1 517.2,448.1 517.3,447.1 517.5,446.1 517.6,445.1 517.7,444.1 517.8,443.1 517.8,442.1 517.9,441.1 518.0,440.1 518.0,439.1 518.1,438.1 518.1,437.1 518.2,436.1 518.2,435.1 518.2,434.1 518.3,433.1 518.3,432.1 518.3,431.1 518.4,430.1 518.4,429.1 518.4,428.1 518.5,427.1 518.5,426.1 518.5,425.1 518.5,424.1 518.6,423.1 518.6,422.1 518.6,421.1 518.6,420.1 518.6,419.1 518.6,418.1 518.7,417.1 518.7,416.1 518.7,415.1 518.7,414.1 518.7,413.1 518.7,412.1 518.7,411.1Z" fill="#D3D3EA"/><rect x="515.55" y="470.00" width="7.30" height="18.50" fill="#fff"/><rect x="516.60" y="471.05" width="5.20" height="16.40" fill="#9A9896"/><rect x="516.60" y="478.80" width="5.20" height="1.8" fill="#fff"/><rect x="519.20" y="410.70" width="1.4" height="1.4" fill="#8c8c8c"/><rect x="522.20" y="409.60" width="1.4" height="1.4" fill="#8c8c8c"/><rect x="524.50" y="411.10" width="1.4" height="1.4" fill="#8c8c8c"/><rect x="520.00" y="413.70" width="1.4" height="1.4" fill="#8c8c8c"/><rect x="522.70" y="415.70" width="1.4" height="1.4" fill="#8c8c8c"/><rect x="519.20" y="419.50" width="1.4" height="1.4" fill="#8c8c8c"/><rect x="518.70" y="427.80" width="1.4" height="1.4" fill="#8c8c8c"/><rect x="520.00" y="430.90" width="1.4" height="1.4" fill="#8c8c8c"/><rect x="520.70" y="431.60" width="1.4" height="1.4" fill="#8c8c8c"/><rect x="519.70" y="434.60" width="1.4" height="1.4" fill="#8c8c8c"/><rect x="521.20" y="437.40" width="1.4" height="1.4" fill="#8c8c8c"/><path d="M543.6,437.6 543.6,438.6 543.7,439.6 543.7,440.6 543.8,441.6 543.9,442.6 543.9,443.6 544.1,444.6 544.2,445.6 544.3,446.6 544.5,447.6 544.8,448.6 545.2,449.6 545.6,450.6 546.0,451.6 546.4,452.6 546.7,453.6 547.1,454.6 547.4,455.6 547.8,456.6 548.2,457.6 548.6,458.6 548.9,459.6 549.3,460.6 549.6,461.6 549.9,462.6 550.2,463.6 550.4,464.7 550.7,465.7 550.9,466.7 551.2,467.7 551.4,468.7 551.6,469.7 551.8,470.7 552.0,471.7 552.1,472.7 552.3,473.7 552.4,474.7 552.5,475.7 552.6,476.7 552.6,477.7 552.6,478.7 552.5,479.7 552.5,480.7 552.3,481.7 552.2,482.7 552.0,483.7 551.9,484.7 551.7,485.7 551.5,486.7 551.3,487.7 551.1,488.7 550.8,489.7 550.5,490.7 550.1,491.7 549.7,492.7 549.3,493.7 548.9,494.7 548.5,495.7 548.1,496.7 547.8,497.7 547.4,498.7 547.0,499.7 546.6,500.7 546.3,501.7 546.0,502.7 545.7,503.7 545.5,504.7 545.3,505.7 545.1,506.7 544.9,507.7 544.7,508.7 544.6,509.7 544.5,510.7 544.3,511.7 544.2,512.7 544.2,513.7 544.1,514.7 544.0,515.7 544.0,516.8 543.9,517.8 543.9,518.8 543.8,519.8 543.8,520.8 543.8,521.8 543.7,522.8 543.7,523.8 543.6,524.8 543.6,525.8 543.6,526.8 543.6,527.8 543.5,528.8 543.5,529.8 543.5,530.8 543.4,531.8 543.4,532.8 543.4,533.8 543.4,534.8 543.4,535.8 543.4,536.8 543.3,537.8 543.3,538.8 543.3,539.8 543.3,540.8 543.3,541.8 543.3,542.8 542.5,542.8 542.5,541.8 542.5,540.8 542.5,539.8 542.5,538.8 542.5,537.8 542.5,536.8 542.5,535.8 542.4,534.8 542.4,533.8 542.4,532.8 542.4,531.8 542.3,530.8 542.3,529.8 542.3,528.8 542.3,527.8 542.2,526.8 542.2,525.8 542.2,524.8 542.1,523.8 542.1,522.8 542.1,521.8 542.0,520.8 542.0,519.8 541.9,518.8 541.9,517.8 541.9,516.8 541.8,515.7 541.7,514.7 541.7,513.7 541.6,512.7 541.5,511.7 541.4,510.7 541.3,509.7 541.1,508.7 541.0,507.7 540.8,506.7 540.6,505.7 540.3,504.7 540.1,503.7 539.8,502.7 539.6,501.7 539.2,500.7 538.9,499.7 538.5,498.7 538.1,497.7 537.7,496.7 537.3,495.7 536.9,494.7 536.5,493.7 536.1,492.7 535.7,491.7 535.3,490.7 535.0,489.7 534.8,488.7 534.5,487.7 534.3,486.7 534.1,485.7 533.9,484.7 533.8,483.7 533.6,482.7 533.5,481.7 533.4,480.7 533.3,479.7 533.2,478.7 533.2,477.7 533.2,476.7 533.3,475.7 533.4,474.7 533.6,473.7 533.7,472.7 533.8,471.7 534.0,470.7 534.2,469.7 534.4,468.7 534.6,467.7 534.9,466.7 535.1,465.7 535.4,464.7 535.7,463.6 535.9,462.6 536.2,461.6 536.5,460.6 536.9,459.6 537.2,458.6 537.6,457.6 538.0,456.6 538.4,455.6 538.7,454.6 539.1,453.6 539.5,452.6 539.9,451.6 540.2,450.6 540.6,449.6 541.0,448.6 541.3,447.6 541.5,446.6 541.7,445.6 541.8,444.6 541.9,443.6 542.0,442.6 542.0,441.6 542.1,440.6 542.2,439.6 542.2,438.6 542.2,437.6Z" fill="#D3D3EA"/><rect x="539.26" y="470.00" width="7.30" height="20.30" fill="#fff"/><rect x="540.31" y="471.05" width="5.20" height="18.20" fill="#9A9896"/><rect x="540.31" y="479.20" width="5.20" height="1.8" fill="#fff"/><rect x="543.50" y="437.40" width="1.4" height="1.4" fill="#8c8c8c"/><path d="M567.6,422.0 567.7,423.0 567.7,424.0 567.8,425.0 567.9,426.0 567.9,427.0 568.0,428.0 568.1,429.0 568.3,430.0 568.4,431.0 568.5,432.0 568.6,433.0 568.8,434.0 568.9,435.0 569.0,436.0 569.2,437.0 569.4,438.0 569.6,439.1 569.8,440.1 570.0,441.1 570.2,442.1 570.5,443.1 570.7,444.1 570.9,445.1 571.2,446.1 571.4,447.1 571.7,448.1 571.9,449.1 572.2,450.1 572.5,451.1 572.7,452.1 573.0,453.1 573.3,454.1 573.6,455.1 573.8,456.1 574.0,457.1 574.2,458.1 574.4,459.1 574.6,460.1 574.7,461.1 574.9,462.1 575.1,463.1 575.2,464.1 575.3,465.1 575.5,466.1 575.6,467.1 575.7,468.1 575.8,469.1 575.9,470.1 575.9,471.1 576.0,472.2 576.1,473.2 576.2,474.2 576.2,475.2 576.3,476.2 576.3,477.2 576.3,478.2 576.3,479.2 576.2,480.2 576.1,481.2 576.0,482.2 575.9,483.2 575.8,484.2 575.6,485.2 575.5,486.2 575.3,487.2 575.2,488.2 575.0,489.2 574.9,490.2 574.8,491.2 574.6,492.2 574.5,493.2 574.4,494.2 574.2,495.2 574.0,496.2 573.7,497.2 573.4,498.2 573.1,499.2 572.8,500.2 572.5,501.2 572.2,502.2 571.9,503.2 571.6,504.3 571.3,505.3 571.0,506.3 570.7,507.3 570.4,508.3 570.2,509.3 569.9,510.3 569.7,511.3 569.4,512.3 569.2,513.3 568.9,514.3 568.7,515.3 568.6,516.3 568.4,517.3 568.3,518.3 568.1,519.3 568.0,520.3 567.9,521.3 567.8,522.3 567.7,523.3 567.7,524.3 567.6,525.3 567.6,526.3 567.5,527.3 567.5,528.3 567.5,529.3 567.4,530.3 567.4,531.3 567.4,532.3 567.3,533.3 567.3,534.3 567.3,535.3 567.3,536.3 567.2,537.4 567.2,538.4 567.2,539.4 567.2,540.4 567.1,541.4 567.1,542.4 567.1,543.4 567.1,544.4 567.1,545.4 567.1,546.4 567.1,547.4 567.0,548.4 567.0,549.4 567.0,550.4 567.0,551.4 567.0,552.4 567.0,553.4 566.2,553.4 566.2,552.4 566.2,551.4 566.2,550.4 566.2,549.4 566.2,548.4 566.2,547.4 566.2,546.4 566.2,545.4 566.2,544.4 566.1,543.4 566.1,542.4 566.1,541.4 566.1,540.4 566.1,539.4 566.0,538.4 566.0,537.4 566.0,536.3 566.0,535.3 565.9,534.3 565.9,533.3 565.9,532.3 565.8,531.3 565.8,530.3 565.8,529.3 565.7,528.3 565.7,527.3 565.7,526.3 565.6,525.3 565.6,524.3 565.5,523.3 565.4,522.3 565.3,521.3 565.2,520.3 565.1,519.3 565.0,518.3 564.8,517.3 564.7,516.3 564.5,515.3 564.3,514.3 564.1,513.3 563.8,512.3 563.6,511.3 563.3,510.3 563.1,509.3 562.8,508.3 562.5,507.3 562.2,506.3 561.9,505.3 561.6,504.3 561.3,503.2 561.0,502.2 560.7,501.2 560.4,500.2 560.1,499.2 559.8,498.2 559.5,497.2 559.3,496.2 559.1,495.2 558.9,494.2 558.7,493.2 558.6,492.2 558.5,491.2 558.3,490.2 558.2,489.2 558.1,488.2 557.9,487.2 557.8,486.2 557.6,485.2 557.5,484.2 557.3,483.2 557.2,482.2 557.1,481.2 557.0,480.2 557.0,479.2 556.9,478.2 556.9,477.2 556.9,476.2 557.0,475.2 557.1,474.2 557.1,473.2 557.2,472.2 557.3,471.1 557.4,470.1 557.5,469.1 557.6,468.1 557.7,467.1 557.8,466.1 557.9,465.1 558.0,464.1 558.2,463.1 558.3,462.1 558.5,461.1 558.7,460.1 558.8,459.1 559.0,458.1 559.2,457.1 559.4,456.1 559.7,455.1 559.9,454.1 560.2,453.1 560.5,452.1 560.8,451.1 561.1,450.1 561.3,449.1 561.6,448.1 561.8,447.1 562.1,446.1 562.3,445.1 562.5,444.1 562.8,443.1 563.0,442.1 563.2,441.1 563.5,440.1 563.7,439.1 563.9,438.0 564.1,437.0 564.2,436.0 564.4,435.0 564.5,434.0 564.6,433.0 564.7,432.0 564.9,431.0 565.0,430.0 565.1,429.0 565.2,428.0 565.3,427.0 565.4,426.0 565.5,425.0 565.5,424.0 565.6,423.0 565.6,422.0Z" fill="#D3D3EA"/><rect x="562.97" y="468.00" width="7.30" height="28.40" fill="#fff"/><rect x="564.02" y="469.05" width="5.20" height="26.30" fill="#9A9896"/><rect x="564.02" y="481.20" width="5.20" height="1.8" fill="#fff"/><rect x="569.70" y="421.30" width="1.4" height="1.4" fill="#8c8c8c"/><rect x="568.50" y="424.30" width="1.4" height="1.4" fill="#8c8c8c"/><path d="M590.7,414.9 590.7,415.9 590.7,416.9 590.7,417.9 590.7,418.9 590.7,419.9 590.8,420.9 590.8,421.9 590.8,422.9 590.8,423.9 590.8,424.9 590.8,425.9 590.8,427.0 590.9,428.0 590.9,429.0 590.9,430.0 590.9,431.0 590.9,432.0 591.0,433.0 591.0,434.0 591.0,435.0 591.0,436.0 591.1,437.0 591.1,438.0 591.1,439.0 591.1,440.0 591.2,441.0 591.2,442.0 591.2,443.0 591.3,444.0 591.3,445.0 591.4,446.0 591.4,447.0 591.5,448.0 591.6,449.0 591.7,450.1 591.8,451.1 591.9,452.1 592.0,453.1 592.1,454.1 592.3,455.1 592.5,456.1 592.8,457.1 593.2,458.1 593.5,459.1 593.9,460.1 594.2,461.1 594.5,462.1 594.8,463.1 595.1,464.1 595.5,465.1 595.8,466.1 596.1,467.1 596.4,468.1 596.7,469.1 597.0,470.1 597.2,471.1 597.5,472.1 597.7,473.1 597.9,474.2 598.1,475.2 598.3,476.2 598.6,477.2 598.8,478.2 599.0,479.2 599.1,480.2 599.3,481.2 599.4,482.2 599.4,483.2 599.4,484.2 599.4,485.2 599.4,486.2 599.3,487.2 599.2,488.2 599.1,489.2 599.0,490.2 598.9,491.2 598.7,492.2 598.6,493.2 598.4,494.2 598.0,495.2 597.6,496.2 597.2,497.3 596.7,498.3 596.2,499.3 595.8,500.3 595.3,501.3 594.9,502.3 594.5,503.3 594.0,504.3 593.6,505.3 593.2,506.3 592.8,507.3 592.4,508.3 592.0,509.3 591.8,510.3 591.7,511.3 591.6,512.3 591.5,513.3 591.4,514.3 591.4,515.3 591.3,516.3 591.3,517.3 591.2,518.3 591.2,519.3 591.1,520.4 591.1,521.4 591.0,522.4 591.0,523.4 591.0,524.4 590.9,525.4 590.9,526.4 590.9,527.4 590.9,528.4 590.8,529.4 590.8,530.4 590.8,531.4 589.8,531.4 589.8,530.4 589.8,529.4 589.8,528.4 589.8,527.4 589.8,526.4 589.7,525.4 589.7,524.4 589.7,523.4 589.6,522.4 589.6,521.4 589.5,520.4 589.5,519.3 589.5,518.3 589.4,517.3 589.4,516.3 589.3,515.3 589.2,514.3 589.2,513.3 589.1,512.3 589.0,511.3 588.8,510.3 588.6,509.3 588.3,508.3 587.9,507.3 587.4,506.3 587.0,505.3 586.6,504.3 586.2,503.3 585.7,502.3 585.3,501.3 584.9,500.3 584.4,499.3 584.0,498.3 583.5,497.3 583.0,496.2 582.6,495.2 582.3,494.2 582.1,493.2 581.9,492.2 581.8,491.2 581.7,490.2 581.5,489.2 581.4,488.2 581.4,487.2 581.3,486.2 581.3,485.2 581.2,484.2 581.2,483.2 581.3,482.2 581.4,481.2 581.5,480.2 581.7,479.2 581.9,478.2 582.1,477.2 582.3,476.2 582.5,475.2 582.8,474.2 583.0,473.1 583.2,472.1 583.4,471.1 583.7,470.1 584.0,469.1 584.3,468.1 584.6,467.1 584.9,466.1 585.2,465.1 585.5,464.1 585.8,463.1 586.1,462.1 586.4,461.1 586.8,460.1 587.1,459.1 587.5,458.1 587.8,457.1 588.1,456.1 588.4,455.1 588.6,454.1 588.7,453.1 588.8,452.1 588.9,451.1 589.0,450.1 589.1,449.0 589.2,448.0 589.2,447.0 589.3,446.0 589.3,445.0 589.4,444.0 589.4,443.0 589.5,442.0 589.5,441.0 589.5,440.0 589.5,439.0 589.6,438.0 589.6,437.0 589.6,436.0 589.7,435.0 589.7,434.0 589.7,433.0 589.7,432.0 589.7,431.0 589.8,430.0 589.8,429.0 589.8,428.0 589.8,427.0 589.8,425.9 589.9,424.9 589.9,423.9 589.9,422.9 589.9,421.9 589.9,420.9 589.9,419.9 589.9,418.9 589.9,417.9 589.9,416.9 589.9,415.9 589.9,414.9Z" fill="#D3D3EA"/><rect x="586.68" y="475.60" width="7.30" height="18.60" fill="#fff"/><rect x="587.73" y="476.65" width="5.20" height="16.50" fill="#9A9896"/><rect x="587.73" y="484.50" width="5.20" height="1.8" fill="#fff"/><rect x="590.10" y="414.60" width="1.4" height="1.4" fill="#8c8c8c"/><rect x="590.50" y="422.20" width="1.4" height="1.4" fill="#8c8c8c"/><rect x="591.30" y="431.30" width="1.4" height="1.4" fill="#8c8c8c"/><rect x="591.00" y="445.00" width="1.4" height="1.4" fill="#8c8c8c"/><text transform="translate(42.00,657.75) rotate(35)" font-size="6.7" style="stroke:#222;stroke-width:0.2">Muscle - Skeletal</text><text transform="translate(65.71,657.75) rotate(35)" font-size="6.7" style="stroke:#222;stroke-width:0.2">Heart - Left Ventricle</text><text transform="translate(89.42,657.75) rotate(35)" font-size="6.7" style="stroke:#222;stroke-width:0.2">Kidney - Medulla</text><text transform="translate(113.13,657.75) rotate(35)" font-size="6.7" style="stroke:#222;stroke-width:0.2">Colon - Transverse</text><text transform="translate(136.84,657.75) rotate(35)" font-size="6.7" style="stroke:#222;stroke-width:0.2">Small Intestine - Terminal Ileum</text><text transform="translate(160.55,657.75) rotate(35)" font-size="6.7" style="stroke:#222;stroke-width:0.2">Esophagus- Mucosa</text><text transform="translate(184.26,657.75) rotate(35)" font-size="6.7" style="stroke:#222;stroke-width:0.2">Heart - Atrial Appendage</text><text transform="translate(207.97,657.75) rotate(35)" font-size="6.7" style="stroke:#222;stroke-width:0.2">Minor Salivary Gland</text><text transform="translate(231.68,657.75) rotate(35)" font-size="6.7" style="stroke:#222;stroke-width:0.2">Kidney - Cortex</text><text transform="translate(255.39,657.75) rotate(35)" font-size="6.7" style="stroke:#222;stroke-width:0.2">Lung</text><text transform="translate(279.10,657.75) rotate(35)" font-size="6.7" style="stroke:#222;stroke-width:0.2">Stomach</text><text transform="translate(302.81,657.75) rotate(35)" font-size="6.7" style="stroke:#222;stroke-width:0.2">Thyroid</text><text transform="translate(326.52,657.75) rotate(35)" font-size="6.7" style="stroke:#222;stroke-width:0.2">Skin - Sun Exposed (Lower leg)</text><text transform="translate(350.23,657.75) rotate(35)" font-size="6.7" style="stroke:#222;stroke-width:0.2">Brain - Cerebellum</text><text transform="translate(373.94,657.75) rotate(35)" font-size="6.7" style="stroke:#222;stroke-width:0.2">Bladder</text><text transform="translate(397.65,657.75) rotate(35)" font-size="6.7" style="stroke:#222;stroke-width:0.2">Liver</text><text transform="translate(421.36,657.75) rotate(35)" font-size="6.7" style="stroke:#222;stroke-width:0.2">Spleen</text><text transform="translate(445.07,657.75) rotate(35)" font-size="6.7" style="stroke:#222;stroke-width:0.2">Brain - CerebellarHemisphere</text><text transform="translate(468.78,657.75) rotate(35)" font-size="6.7" style="stroke:#222;stroke-width:0.2">Skin - Not Sun Exposed(Suprapubic)</text><text transform="translate(492.49,657.75) rotate(35)" font-size="6.7" style="stroke:#222;stroke-width:0.2">Vagina</text><text transform="translate(516.20,657.75) rotate(35)" font-size="6.7" style="stroke:#222;stroke-width:0.2">Colon - Sigmoid</text><text transform="translate(539.91,657.75) rotate(35)" font-size="6.7" style="stroke:#222;stroke-width:0.2">Esophagus- Gastroesophageal Junction</text><text transform="translate(563.62,657.75) rotate(35)" font-size="6.7" style="stroke:#222;stroke-width:0.2">Prostate</text><text transform="translate(587.33,657.75) rotate(35)" font-size="6.7" style="stroke:#222;stroke-width:0.2">Adrenal Gland</text><path d="M26.95,348.8 H31.95 V643.2 H26.95" fill="none" stroke="#000" stroke-width="1.3"/><line x1="26.95" y1="356.0" x2="31.95" y2="356.0" stroke="#000" stroke-width="1.3"/><text x="11.899999999999999" y="358.5" font-size="7" textLength="9.0" lengthAdjust="spacingAndGlyphs" style="stroke:#222;stroke-width:0.25">2.5</text><line x1="26.95" y1="424.225" x2="31.95" y2="424.225" stroke="#000" stroke-width="1.3"/><text x="11.899999999999999" y="426.725" font-size="7" textLength="9.0" lengthAdjust="spacingAndGlyphs" style="stroke:#222;stroke-width:0.25">2.0</text><line x1="26.95" y1="492.45" x2="31.95" y2="492.45" stroke="#000" stroke-width="1.3"/><text x="11.899999999999999" y="494.95" font-size="7" textLength="9.0" lengthAdjust="spacingAndGlyphs" style="stroke:#222;stroke-width:0.25">1.5</text><line x1="26.95" y1="560.675" x2="31.95" y2="560.675" stroke="#000" stroke-width="1.3"/><text x="11.899999999999999" y="563.175" font-size="7" textLength="9.0" lengthAdjust="spacingAndGlyphs" style="stroke:#222;stroke-width:0.25">1.0</text><line x1="26.95" y1="628.9" x2="31.95" y2="628.9" stroke="#000" stroke-width="1.3"/><text x="11.899999999999999" y="631.4" font-size="7" textLength="9.0" lengthAdjust="spacingAndGlyphs" style="stroke:#222;stroke-width:0.25">0.5</text><line x1="35.3" y1="645.7" x2="600.6" y2="645.7" stroke="#000" stroke-width="1.3"/><line x1="35.30" y1="645.7" x2="35.30" y2="649.0" stroke="#000" stroke-width="1.3"/><line x1="600.60" y1="645.7" x2="600.60" y2="649.0" stroke="#000" stroke-width="1.3"/><line x1="45.00" y1="645.7" x2="45.00" y2="649.0" stroke="#000" stroke-width="1.3"/><line x1="68.70" y1="645.7" x2="68.70" y2="649.0" stroke="#000" stroke-width="1.3"/><line x1="92.40" y1="645.7" x2="92.40" y2="649.0" stroke="#000" stroke-width="1.3"/><line x1="116.10" y1="645.7" x2="116.10" y2="649.0" stroke="#000" stroke-width="1.3"/><line x1="139.80" y1="645.7" x2="139.80" y2="649.0" stroke="#000" stroke-width="1.3"/><line x1="163.50" y1="645.7" x2="163.50" y2="649.0" stroke="#000" stroke-width="1.3"/><line x1="187.20" y1="645.7" x2="187.20" y2="649.0" stroke="#000" stroke-width="1.3"/><line x1="210.90" y1="645.7" x2="210.90" y2="649.0" stroke="#000" stroke-width="1.3"/><line x1="234.60" y1="645.7" x2="234.60" y2="649.0" stroke="#000" stroke-width="1.3"/><line x1="258.30" y1="645.7" x2="258.30" y2="649.0" stroke="#000" stroke-width="1.3"/><line x1="282.00" y1="645.7" x2="282.00" y2="649.0" stroke="#000" stroke-width="1.3"/><line x1="305.70" y1="645.7" x2="305.70" y2="649.0" stroke="#000" stroke-width="1.3"/><line x1="329.40" y1="645.7" x2="329.40" y2="649.0" stroke="#000" stroke-width="1.3"/><line x1="353.10" y1="645.7" x2="353.10" y2="649.0" stroke="#000" stroke-width="1.3"/><line x1="376.80" y1="645.7" x2="376.80" y2="649.0" stroke="#000" stroke-width="1.3"/><line x1="400.50" y1="645.7" x2="400.50" y2="649.0" stroke="#000" stroke-width="1.3"/><line x1="424.20" y1="645.7" x2="424.20" y2="649.0" stroke="#000" stroke-width="1.3"/><line x1="447.90" y1="645.7" x2="447.90" y2="649.0" stroke="#000" stroke-width="1.3"/><line x1="471.60" y1="645.7" x2="471.60" y2="649.0" stroke="#000" stroke-width="1.3"/><line x1="495.30" y1="645.7" x2="495.30" y2="649.0" stroke="#000" stroke-width="1.3"/><line x1="519.00" y1="645.7" x2="519.00" y2="649.0" stroke="#000" stroke-width="1.3"/><line x1="542.70" y1="645.7" x2="542.70" y2="649.0" stroke="#000" stroke-width="1.3"/><line x1="566.40" y1="645.7" x2="566.40" y2="649.0" stroke="#000" stroke-width="1.3"/><line x1="590.10" y1="645.7" x2="590.10" y2="649.0" stroke="#000" stroke-width="1.3"/>
</svg>
</body></html>
